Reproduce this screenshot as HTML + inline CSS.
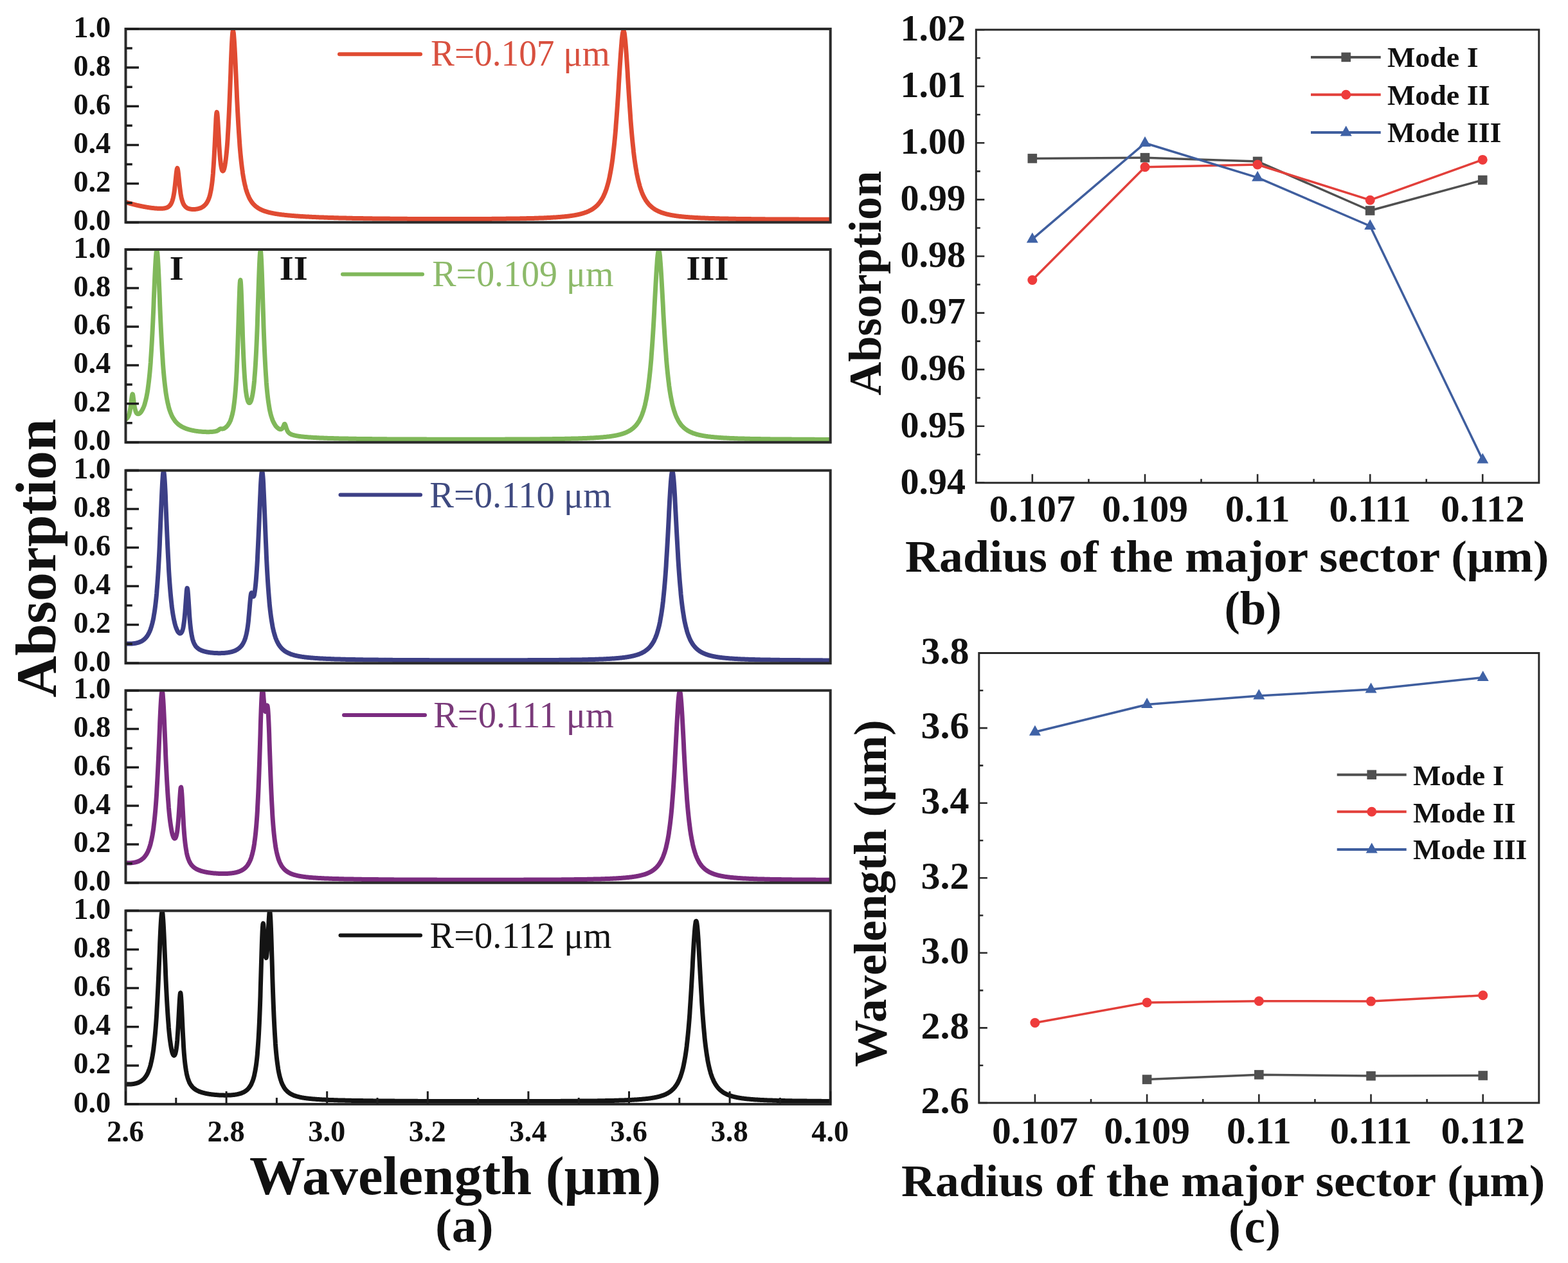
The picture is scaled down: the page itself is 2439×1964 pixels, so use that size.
<!DOCTYPE html>
<html><head><meta charset="utf-8"><title>Absorption spectra</title>
<style>html,body{margin:0;padding:0;background:#fff;overflow:hidden}svg{display:block}text{font-family:'Liberation Serif', 'Times New Roman', serif}</style>
</head><body>
<svg width="2439" height="1964" viewBox="0 0 2439 1964" font-family="'Liberation Serif', 'Times New Roman', serif" fill="#111">
<rect width="2439" height="1964" fill="#fff"/>
<clipPath id="ca0"><rect x="195.5" y="45.0" width="1096.2" height="300.7"/></clipPath>
<polyline clip-path="url(#ca0)" fill="none" stroke="#E04B32" stroke-width="7" stroke-linejoin="round" points="195.5,314.4 195.9,314.5 196.3,314.7 196.7,314.8 197.1,314.9 197.5,315.0 197.8,315.1 198.2,315.3 198.6,315.4 199.0,315.5 199.4,315.6 199.8,315.7 200.2,315.8 200.6,315.9 201.0,316.0 201.4,316.2 201.8,316.3 202.2,316.4 202.5,316.5 202.9,316.6 203.3,316.7 203.7,316.8 204.1,316.9 204.5,317.0 204.9,317.1 205.3,317.2 205.7,317.3 206.1,317.4 206.5,317.5 206.9,317.6 207.2,317.7 207.6,317.8 208.0,317.9 208.4,318.0 208.8,318.1 209.2,318.2 209.6,318.3 210.0,318.4 210.4,318.5 210.8,318.6 211.2,318.7 211.6,318.8 211.9,318.9 212.3,319.0 212.7,319.1 213.1,319.2 213.5,319.3 213.9,319.3 214.3,319.4 214.7,319.5 215.1,319.6 215.5,319.7 215.9,319.8 216.2,319.9 216.6,320.0 217.0,320.0 217.4,320.1 217.8,320.2 218.2,320.3 218.6,320.4 219.0,320.4 219.4,320.5 219.8,320.6 220.2,320.7 220.6,320.8 220.9,320.8 221.3,320.9 221.7,321.0 222.1,321.1 222.5,321.2 222.9,321.2 223.3,321.3 223.7,321.4 224.1,321.5 224.5,321.5 224.9,321.6 225.3,321.7 225.6,321.7 226.0,321.8 226.4,321.9 226.8,321.9 227.2,322.0 227.6,322.1 228.0,322.1 228.4,322.2 228.8,322.3 229.2,322.3 229.6,322.4 230.0,322.5 230.3,322.5 230.7,322.6 231.1,322.6 231.5,322.7 231.9,322.8 232.3,322.8 232.7,322.9 233.1,322.9 233.5,323.0 233.9,323.1 234.3,323.1 234.6,323.2 235.0,323.2 235.4,323.3 235.8,323.3 236.2,323.4 236.6,323.4 237.0,323.5 237.4,323.5 237.8,323.6 238.2,323.6 238.6,323.6 239.0,323.7 239.3,323.7 239.7,323.8 240.1,323.8 240.5,323.8 240.9,323.9 241.3,323.9 241.7,324.0 242.1,324.0 242.5,324.0 242.9,324.1 243.3,324.1 243.7,324.1 244.0,324.1 244.4,324.2 244.8,324.2 245.2,324.2 245.6,324.2 246.0,324.3 246.4,324.3 246.8,324.3 247.2,324.3 247.6,324.3 248.0,324.3 248.4,324.3 248.7,324.3 249.1,324.3 249.5,324.3 249.9,324.3 250.3,324.3 250.7,324.3 251.1,324.3 251.5,324.3 251.9,324.3 252.3,324.3 252.7,324.2 253.1,324.2 253.4,324.2 253.8,324.1 254.2,324.1 254.6,324.0 255.0,324.0 255.4,323.9 255.8,323.9 256.2,323.8 256.6,323.7 257.0,323.6 257.4,323.5 257.7,323.4 258.1,323.3 258.5,323.2 258.9,323.1 259.3,322.9 259.7,322.8 260.1,322.6 260.5,322.4 260.9,322.2 261.3,322.0 261.7,321.7 262.1,321.5 262.4,321.2 262.8,320.9 263.2,320.5 263.6,320.2 264.0,319.8 264.4,319.3 264.8,318.8 265.2,318.3 265.6,317.7 266.0,317.0 266.4,316.3 266.8,315.5 267.1,314.7 267.5,313.7 267.9,312.6 268.3,311.4 268.7,310.1 269.1,308.6 269.5,306.9 269.9,305.0 270.3,303.0 270.7,300.7 271.1,298.1 271.5,295.3 271.8,292.2 272.2,288.8 272.6,285.2 273.0,281.4 273.4,277.5 273.8,273.6 274.2,269.9 274.6,266.7 275.0,264.0 275.4,262.3 275.8,261.5 276.1,261.9 276.5,263.3 276.9,265.6 277.3,268.7 277.7,272.3 278.1,276.1 278.5,280.1 278.9,284.0 279.3,287.7 279.7,291.2 280.1,294.4 280.5,297.4 280.8,300.1 281.2,302.5 281.6,304.7 282.0,306.7 282.4,308.4 282.8,310.0 283.2,311.4 283.6,312.7 284.0,313.9 284.4,314.9 284.8,315.9 285.2,316.7 285.5,317.5 285.9,318.2 286.3,318.8 286.7,319.4 287.1,319.9 287.5,320.4 287.9,320.9 288.3,321.3 288.7,321.7 289.1,322.0 289.5,322.3 289.9,322.6 290.2,322.9 290.6,323.1 291.0,323.4 291.4,323.6 291.8,323.8 292.2,323.9 292.6,324.1 293.0,324.3 293.4,324.4 293.8,324.5 294.2,324.6 294.5,324.8 294.9,324.9 295.3,324.9 295.7,325.0 296.1,325.1 296.5,325.2 296.9,325.2 297.3,325.3 297.7,325.3 298.1,325.4 298.5,325.4 298.9,325.4 299.2,325.5 299.6,325.5 300.0,325.5 300.4,325.5 300.8,325.5 301.2,325.5 301.6,325.5 302.0,325.5 302.4,325.5 302.8,325.4 303.2,325.4 303.6,325.4 303.9,325.3 304.3,325.3 304.7,325.2 305.1,325.2 305.5,325.1 305.9,325.1 306.3,325.0 306.7,324.9 307.1,324.9 307.5,324.8 307.9,324.7 308.3,324.6 308.6,324.5 309.0,324.4 309.4,324.3 309.8,324.2 310.2,324.0 310.6,323.9 311.0,323.8 311.4,323.6 311.8,323.5 312.2,323.3 312.6,323.1 312.9,323.0 313.3,322.8 313.7,322.6 314.1,322.4 314.5,322.1 314.9,321.9 315.3,321.7 315.7,321.4 316.1,321.2 316.5,320.9 316.9,320.6 317.3,320.3 317.6,319.9 318.0,319.6 318.4,319.2 318.8,318.8 319.2,318.4 319.6,318.0 320.0,317.5 320.4,317.0 320.8,316.5 321.2,316.0 321.6,315.4 322.0,314.8 322.3,314.1 322.7,313.4 323.1,312.7 323.5,311.9 323.9,311.0 324.3,310.1 324.7,309.1 325.1,308.0 325.5,306.9 325.9,305.6 326.3,304.3 326.7,302.8 327.0,301.2 327.4,299.5 327.8,297.6 328.2,295.5 328.6,293.3 329.0,290.8 329.4,288.1 329.8,285.1 330.2,281.8 330.6,278.2 331.0,274.2 331.4,269.7 331.7,264.8 332.1,259.4 332.5,253.5 332.9,247.1 333.3,240.0 333.7,232.5 334.1,224.5 334.5,216.2 334.9,207.7 335.3,199.5 335.7,191.7 336.0,184.9 336.4,179.5 336.8,175.9 337.2,174.3 337.6,174.9 338.0,177.4 338.4,181.8 338.8,187.5 339.2,194.2 339.6,201.4 340.0,208.8 340.4,216.0 340.7,222.9 341.1,229.3 341.5,235.1 341.9,240.4 342.3,245.0 342.7,249.1 343.1,252.7 343.5,255.8 343.9,258.4 344.3,260.5 344.7,262.3 345.1,263.7 345.4,264.7 345.8,265.4 346.2,265.9 346.6,266.0 347.0,265.9 347.4,265.5 347.8,264.8 348.2,263.9 348.6,262.7 349.0,261.3 349.4,259.6 349.8,257.7 350.1,255.5 350.5,253.1 350.9,250.3 351.3,247.3 351.7,243.9 352.1,240.2 352.5,236.2 352.9,231.8 353.3,227.0 353.7,221.8 354.1,216.1 354.4,210.0 354.8,203.5 355.2,196.5 355.6,188.9 356.0,180.9 356.4,172.3 356.8,163.3 357.2,153.8 357.6,143.9 358.0,133.6 358.4,123.2 358.8,112.6 359.1,102.1 359.5,91.8 359.9,82.1 360.3,73.1 360.7,65.1 361.1,58.4 361.5,53.2 361.9,49.7 362.3,48.1 362.7,48.3 363.1,49.9 363.5,52.6 363.8,56.6 364.2,61.5 364.6,67.5 365.0,74.2 365.4,81.7 365.8,89.6 366.2,98.0 366.6,106.6 367.0,115.4 367.4,124.3 367.8,133.1 368.2,141.7 368.5,150.2 368.9,158.5 369.3,166.5 369.7,174.2 370.1,181.6 370.5,188.7 370.9,195.5 371.3,201.9 371.7,208.0 372.1,213.9 372.5,219.4 372.8,224.6 373.2,229.6 373.6,234.2 374.0,238.7 374.4,242.9 374.8,246.8 375.2,250.6 375.6,254.1 376.0,257.5 376.4,260.7 376.8,263.7 377.2,266.5 377.5,269.2 377.9,271.8 378.3,274.2 378.7,276.5 379.1,278.7 379.5,280.7 379.9,282.7 380.3,284.6 380.7,286.4 381.1,288.1 381.5,289.7 381.9,291.2 382.2,292.7 382.6,294.1 383.0,295.4 383.4,296.7 383.8,297.9 384.2,299.1 384.6,300.2 385.0,301.3 385.4,302.3 385.8,303.3 386.2,304.2 386.6,305.1 386.9,306.0 387.3,306.8 387.7,307.7 388.1,308.4 388.5,309.2 388.9,309.9 389.3,310.6 389.7,311.2 390.1,311.9 390.5,312.5 390.9,313.1 391.2,313.6 391.6,314.2 392.0,314.7 392.4,315.2 392.8,315.7 393.2,316.2 393.6,316.7 394.0,317.1 394.4,317.5 394.8,318.0 395.2,318.4 395.6,318.8 395.9,319.1 396.3,319.5 396.7,319.9 397.1,320.2 397.5,320.6 397.9,320.9 398.3,321.2 398.7,321.5 399.1,321.8 399.5,322.1 399.9,322.4 400.3,322.7 400.6,322.9 401.0,323.2 401.4,323.4 401.8,323.7 402.2,323.9 402.6,324.2 403.0,324.4 403.4,324.6 403.8,324.8 404.2,325.1 404.6,325.3 405.0,325.5 405.3,325.7 405.7,325.9 406.1,326.0 406.5,326.2 406.9,326.4 407.3,326.6 407.7,326.8 408.1,326.9 408.5,327.1 408.9,327.2 409.3,327.4 409.7,327.6 410.0,327.7 410.4,327.9 410.8,328.0 411.2,328.1 411.6,328.3 412.0,328.4 412.4,328.5 412.8,328.7 413.2,328.8 413.6,328.9 414.0,329.0 414.3,329.2 414.7,329.3 415.1,329.4 415.5,329.5 415.9,329.6 416.3,329.7 416.7,329.8 417.1,329.9 417.5,330.1 417.9,330.2 418.3,330.3 418.7,330.4 419.0,330.4 419.4,330.5 419.8,330.6 420.2,330.7 420.6,330.8 421.0,330.9 421.4,331.0 421.8,331.1 422.2,331.2 422.6,331.2 423.0,331.3 423.4,331.4 423.7,331.5 424.1,331.6 424.5,331.6 424.9,331.7 425.3,331.8 425.7,331.9 426.1,331.9 426.5,332.0 426.9,332.1 427.3,332.2 427.7,332.2 428.1,332.3 428.4,332.4 428.8,332.4 429.2,332.5 429.6,332.6 430.0,332.6 430.4,332.7 430.8,332.7 431.2,332.8 431.6,332.9 432.0,332.9 432.4,333.0 432.7,333.0 433.1,333.1 433.5,333.1 433.9,333.2 434.3,333.3 434.7,333.3 435.1,333.4 435.5,333.4 435.9,333.5 436.3,333.5 436.7,333.6 437.1,333.6 437.4,333.7 437.8,333.7 438.2,333.8 438.6,333.8 439.0,333.9 439.4,333.9 439.8,334.0 440.2,334.0 440.6,334.1 441.0,334.1 441.4,334.1 441.8,334.2 442.1,334.2 442.5,334.3 442.9,334.3 443.3,334.4 443.7,334.4 444.1,334.4 444.5,334.5 444.9,334.5 445.3,334.6 445.7,334.6 446.1,334.7 446.5,334.7 446.8,334.7 447.2,334.8 447.6,334.8 448.0,334.8 448.4,334.9 448.8,334.9 449.2,335.0 449.6,335.0 450.0,335.0 450.4,335.1 450.8,335.1 451.1,335.1 451.5,335.2 451.9,335.2 452.3,335.2 452.7,335.3 453.1,335.3 453.5,335.3 453.9,335.4 454.3,335.4 454.7,335.4 455.1,335.5 455.5,335.5 455.8,335.5 456.2,335.6 456.6,335.6 457.0,335.6 457.4,335.7 457.8,335.7 458.2,335.7 458.6,335.8 459.0,335.8 459.4,335.8 459.8,335.8 460.2,335.9 460.5,335.9 460.9,335.9 461.3,336.0 461.7,336.0 462.1,336.0 462.5,336.0 462.9,336.1 463.3,336.1 463.7,336.1 464.1,336.2 464.5,336.2 464.9,336.2 465.2,336.2 465.6,336.3 466.0,336.3 466.4,336.3 466.8,336.3 467.2,336.4 467.6,336.4 468.0,336.4 468.4,336.4 468.8,336.5 469.2,336.5 469.6,336.5 469.9,336.5 470.3,336.6 470.7,336.6 471.1,336.6 471.5,336.6 471.9,336.7 472.3,336.7 472.7,336.7 473.1,336.7 473.5,336.7 473.9,336.8 474.2,336.8 474.6,336.8 475.0,336.8 475.4,336.9 475.8,336.9 476.2,336.9 476.6,336.9 477.0,336.9 477.4,337.0 477.8,337.0 478.2,337.0 478.6,337.0 478.9,337.1 479.3,337.1 479.7,337.1 480.1,337.1 480.5,337.1 480.9,337.2 481.3,337.2 481.7,337.2 482.1,337.2 482.5,337.2 482.9,337.3 483.3,337.3 483.6,337.3 484.0,337.3 484.4,337.3 484.8,337.3 485.2,337.4 485.6,337.4 486.0,337.4 486.4,337.4 486.8,337.4 487.2,337.5 487.6,337.5 488.0,337.5 488.3,337.5 488.7,337.5 489.1,337.6 489.5,337.6 489.9,337.6 490.3,337.6 490.7,337.6 491.1,337.6 491.5,337.7 491.9,337.7 492.3,337.7 492.6,337.7 493.0,337.7 493.4,337.7 493.8,337.8 494.2,337.8 494.6,337.8 495.0,337.8 495.4,337.8 495.8,337.8 496.2,337.9 496.6,337.9 497.0,337.9 497.3,337.9 497.7,337.9 498.1,337.9 498.5,337.9 498.9,338.0 499.3,338.0 499.7,338.0 500.1,338.0 500.5,338.0 500.9,338.0 501.3,338.1 501.7,338.1 502.0,338.1 502.4,338.1 502.8,338.1 503.2,338.1 503.6,338.1 504.0,338.2 504.4,338.2 504.8,338.2 505.2,338.2 505.6,338.2 506.0,338.2 506.4,338.2 506.7,338.3 507.1,338.3 507.5,338.3 507.9,338.3 508.3,338.3 508.7,338.3 509.1,338.3 509.5,338.3 509.9,338.4 510.3,338.4 510.7,338.4 511.0,338.4 511.4,338.4 511.8,338.4 512.2,338.4 512.6,338.4 513.0,338.5 513.4,338.5 513.8,338.5 514.2,338.5 514.6,338.5 515.0,338.5 515.4,338.5 515.7,338.5 516.1,338.6 516.5,338.6 516.9,338.6 517.3,338.6 517.7,338.6 518.1,338.6 518.5,338.6 518.9,338.6 519.3,338.7 519.7,338.7 520.1,338.7 520.4,338.7 520.8,338.7 521.2,338.7 521.6,338.7 522.0,338.7 522.4,338.7 522.8,338.8 523.2,338.8 523.6,338.8 524.0,338.8 524.4,338.8 524.8,338.8 525.1,338.8 525.5,338.8 525.9,338.8 526.3,338.8 526.7,338.9 527.1,338.9 527.5,338.9 527.9,338.9 528.3,338.9 528.7,338.9 529.1,338.9 529.4,338.9 529.8,338.9 530.2,339.0 530.6,339.0 531.0,339.0 531.4,339.0 531.8,339.0 532.2,339.0 532.6,339.0 533.0,339.0 533.4,339.0 533.8,339.0 534.1,339.0 534.5,339.1 534.9,339.1 535.3,339.1 535.7,339.1 536.1,339.1 536.5,339.1 536.9,339.1 537.3,339.1 537.7,339.1 538.1,339.1 538.5,339.1 538.8,339.2 539.2,339.2 539.6,339.2 540.0,339.2 540.4,339.2 540.8,339.2 541.2,339.2 541.6,339.2 542.0,339.2 542.4,339.2 542.8,339.2 543.2,339.2 543.5,339.3 543.9,339.3 544.3,339.3 544.7,339.3 545.1,339.3 545.5,339.3 545.9,339.3 546.3,339.3 546.7,339.3 547.1,339.3 547.5,339.3 547.9,339.3 548.2,339.4 548.6,339.4 549.0,339.4 549.4,339.4 549.8,339.4 550.2,339.4 550.6,339.4 551.0,339.4 551.4,339.4 551.8,339.4 552.2,339.4 552.5,339.4 552.9,339.4 553.3,339.5 553.7,339.5 554.1,339.5 554.5,339.5 554.9,339.5 555.3,339.5 555.7,339.5 556.1,339.5 556.5,339.5 556.9,339.5 557.2,339.5 557.6,339.5 558.0,339.5 558.4,339.5 558.8,339.5 559.2,339.6 559.6,339.6 560.0,339.6 560.4,339.6 560.8,339.6 561.2,339.6 561.6,339.6 561.9,339.6 562.3,339.6 562.7,339.6 563.1,339.6 563.5,339.6 563.9,339.6 564.3,339.6 564.7,339.6 565.1,339.7 565.5,339.7 565.9,339.7 566.3,339.7 566.6,339.7 567.0,339.7 567.4,339.7 567.8,339.7 568.2,339.7 568.6,339.7 569.0,339.7 569.4,339.7 569.8,339.7 570.2,339.7 570.6,339.7 570.9,339.7 571.3,339.7 571.7,339.8 572.1,339.8 572.5,339.8 572.9,339.8 573.3,339.8 573.7,339.8 574.1,339.8 574.5,339.8 574.9,339.8 575.3,339.8 575.6,339.8 576.0,339.8 576.4,339.8 576.8,339.8 577.2,339.8 577.6,339.8 578.0,339.8 578.4,339.8 578.8,339.8 579.2,339.9 579.6,339.9 580.0,339.9 580.3,339.9 580.7,339.9 581.1,339.9 581.5,339.9 581.9,339.9 582.3,339.9 582.7,339.9 583.1,339.9 583.5,339.9 583.9,339.9 584.3,339.9 584.7,339.9 585.0,339.9 585.4,339.9 585.8,339.9 586.2,339.9 586.6,339.9 587.0,340.0 587.4,340.0 587.8,340.0 588.2,340.0 588.6,340.0 589.0,340.0 589.3,340.0 589.7,340.0 590.1,340.0 590.5,340.0 590.9,340.0 591.3,340.0 591.7,340.0 592.1,340.0 592.5,340.0 592.9,340.0 593.3,340.0 593.7,340.0 594.0,340.0 594.4,340.0 594.8,340.0 595.2,340.0 595.6,340.0 596.0,340.1 596.4,340.1 596.8,340.1 597.2,340.1 597.6,340.1 598.0,340.1 598.4,340.1 598.7,340.1 599.1,340.1 599.5,340.1 599.9,340.1 600.3,340.1 600.7,340.1 601.1,340.1 601.5,340.1 601.9,340.1 602.3,340.1 602.7,340.1 603.1,340.1 603.4,340.1 603.8,340.1 604.2,340.1 604.6,340.1 605.0,340.1 605.4,340.1 605.8,340.1 606.2,340.1 606.6,340.2 607.0,340.2 607.4,340.2 607.7,340.2 608.1,340.2 608.5,340.2 608.9,340.2 609.3,340.2 609.7,340.2 610.1,340.2 610.5,340.2 610.9,340.2 611.3,340.2 611.7,340.2 612.1,340.2 612.4,340.2 612.8,340.2 613.2,340.2 613.6,340.2 614.0,340.2 614.4,340.2 614.8,340.2 615.2,340.2 615.6,340.2 616.0,340.2 616.4,340.2 616.8,340.2 617.1,340.2 617.5,340.2 617.9,340.2 618.3,340.2 618.7,340.3 619.1,340.3 619.5,340.3 619.9,340.3 620.3,340.3 620.7,340.3 621.1,340.3 621.5,340.3 621.8,340.3 622.2,340.3 622.6,340.3 623.0,340.3 623.4,340.3 623.8,340.3 624.2,340.3 624.6,340.3 625.0,340.3 625.4,340.3 625.8,340.3 626.2,340.3 626.5,340.3 626.9,340.3 627.3,340.3 627.7,340.3 628.1,340.3 628.5,340.3 628.9,340.3 629.3,340.3 629.7,340.3 630.1,340.3 630.5,340.3 630.8,340.3 631.2,340.3 631.6,340.3 632.0,340.3 632.4,340.3 632.8,340.3 633.2,340.3 633.6,340.4 634.0,340.4 634.4,340.4 634.8,340.4 635.2,340.4 635.5,340.4 635.9,340.4 636.3,340.4 636.7,340.4 637.1,340.4 637.5,340.4 637.9,340.4 638.3,340.4 638.7,340.4 639.1,340.4 639.5,340.4 639.9,340.4 640.2,340.4 640.6,340.4 641.0,340.4 641.4,340.4 641.8,340.4 642.2,340.4 642.6,340.4 643.0,340.4 643.4,340.4 643.8,340.4 644.2,340.4 644.6,340.4 644.9,340.4 645.3,340.4 645.7,340.4 646.1,340.4 646.5,340.4 646.9,340.4 647.3,340.4 647.7,340.4 648.1,340.4 648.5,340.4 648.9,340.4 649.2,340.4 649.6,340.4 650.0,340.4 650.4,340.4 650.8,340.4 651.2,340.4 651.6,340.4 652.0,340.4 652.4,340.4 652.8,340.4 653.2,340.4 653.6,340.4 653.9,340.4 654.3,340.5 654.7,340.5 655.1,340.5 655.5,340.5 655.9,340.5 656.3,340.5 656.7,340.5 657.1,340.5 657.5,340.5 657.9,340.5 658.3,340.5 658.6,340.5 659.0,340.5 659.4,340.5 659.8,340.5 660.2,340.5 660.6,340.5 661.0,340.5 661.4,340.5 661.8,340.5 662.2,340.5 662.6,340.5 663.0,340.5 663.3,340.5 663.7,340.5 664.1,340.5 664.5,340.5 664.9,340.5 665.3,340.5 665.7,340.5 666.1,340.5 666.5,340.5 666.9,340.5 667.3,340.5 667.6,340.5 668.0,340.5 668.4,340.5 668.8,340.5 669.2,340.5 669.6,340.5 670.0,340.5 670.4,340.5 670.8,340.5 671.2,340.5 671.6,340.5 672.0,340.5 672.3,340.5 672.7,340.5 673.1,340.5 673.5,340.5 673.9,340.5 674.3,340.5 674.7,340.5 675.1,340.5 675.5,340.5 675.9,340.5 676.3,340.5 676.7,340.5 677.0,340.5 677.4,340.5 677.8,340.5 678.2,340.5 678.6,340.5 679.0,340.5 679.4,340.5 679.8,340.5 680.2,340.5 680.6,340.5 681.0,340.5 681.4,340.5 681.7,340.5 682.1,340.5 682.5,340.5 682.9,340.5 683.3,340.5 683.7,340.5 684.1,340.5 684.5,340.5 684.9,340.5 685.3,340.5 685.7,340.5 686.0,340.5 686.4,340.5 686.8,340.5 687.2,340.5 687.6,340.5 688.0,340.5 688.4,340.5 688.8,340.5 689.2,340.5 689.6,340.5 690.0,340.5 690.4,340.5 690.7,340.5 691.1,340.5 691.5,340.5 691.9,340.5 692.3,340.5 692.7,340.5 693.1,340.5 693.5,340.5 693.9,340.5 694.3,340.5 694.7,340.5 695.1,340.5 695.4,340.5 695.8,340.5 696.2,340.5 696.6,340.5 697.0,340.5 697.4,340.5 697.8,340.5 698.2,340.5 698.6,340.5 699.0,340.5 699.4,340.5 699.8,340.5 700.1,340.5 700.5,340.5 700.9,340.5 701.3,340.5 701.7,340.5 702.1,340.5 702.5,340.5 702.9,340.5 703.3,340.5 703.7,340.5 704.1,340.5 704.5,340.5 704.8,340.5 705.2,340.5 705.6,340.5 706.0,340.5 706.4,340.5 706.8,340.5 707.2,340.5 707.6,340.5 708.0,340.5 708.4,340.5 708.8,340.5 709.1,340.5 709.5,340.5 709.9,340.5 710.3,340.5 710.7,340.5 711.1,340.5 711.5,340.5 711.9,340.5 712.3,340.5 712.7,340.5 713.1,340.5 713.5,340.5 713.8,340.5 714.2,340.5 714.6,340.5 715.0,340.5 715.4,340.5 715.8,340.5 716.2,340.5 716.6,340.5 717.0,340.5 717.4,340.5 717.8,340.5 718.2,340.5 718.5,340.5 718.9,340.5 719.3,340.5 719.7,340.5 720.1,340.5 720.5,340.5 720.9,340.5 721.3,340.5 721.7,340.5 722.1,340.5 722.5,340.5 722.9,340.5 723.2,340.5 723.6,340.5 724.0,340.5 724.4,340.5 724.8,340.5 725.2,340.5 725.6,340.5 726.0,340.5 726.4,340.5 726.8,340.5 727.2,340.5 727.5,340.5 727.9,340.5 728.3,340.5 728.7,340.5 729.1,340.5 729.5,340.5 729.9,340.5 730.3,340.5 730.7,340.5 731.1,340.5 731.5,340.5 731.9,340.5 732.2,340.5 732.6,340.5 733.0,340.5 733.4,340.5 733.8,340.5 734.2,340.5 734.6,340.5 735.0,340.5 735.4,340.5 735.8,340.5 736.2,340.5 736.6,340.5 736.9,340.5 737.3,340.5 737.7,340.5 738.1,340.5 738.5,340.5 738.9,340.5 739.3,340.5 739.7,340.5 740.1,340.5 740.5,340.5 740.9,340.5 741.3,340.5 741.6,340.5 742.0,340.5 742.4,340.5 742.8,340.5 743.2,340.5 743.6,340.5 744.0,340.5 744.4,340.5 744.8,340.5 745.2,340.5 745.6,340.5 745.9,340.5 746.3,340.5 746.7,340.5 747.1,340.4 747.5,340.4 747.9,340.4 748.3,340.4 748.7,340.4 749.1,340.4 749.5,340.4 749.9,340.4 750.3,340.4 750.6,340.4 751.0,340.4 751.4,340.4 751.8,340.4 752.2,340.4 752.6,340.4 753.0,340.4 753.4,340.4 753.8,340.4 754.2,340.4 754.6,340.4 755.0,340.4 755.3,340.4 755.7,340.4 756.1,340.4 756.5,340.4 756.9,340.4 757.3,340.4 757.7,340.4 758.1,340.4 758.5,340.4 758.9,340.4 759.3,340.4 759.7,340.4 760.0,340.4 760.4,340.4 760.8,340.4 761.2,340.4 761.6,340.4 762.0,340.4 762.4,340.4 762.8,340.4 763.2,340.4 763.6,340.4 764.0,340.4 764.3,340.4 764.7,340.4 765.1,340.3 765.5,340.3 765.9,340.3 766.3,340.3 766.7,340.3 767.1,340.3 767.5,340.3 767.9,340.3 768.3,340.3 768.7,340.3 769.0,340.3 769.4,340.3 769.8,340.3 770.2,340.3 770.6,340.3 771.0,340.3 771.4,340.3 771.8,340.3 772.2,340.3 772.6,340.3 773.0,340.3 773.4,340.3 773.7,340.3 774.1,340.3 774.5,340.3 774.9,340.3 775.3,340.3 775.7,340.3 776.1,340.3 776.5,340.3 776.9,340.3 777.3,340.3 777.7,340.2 778.1,340.2 778.4,340.2 778.8,340.2 779.2,340.2 779.6,340.2 780.0,340.2 780.4,340.2 780.8,340.2 781.2,340.2 781.6,340.2 782.0,340.2 782.4,340.2 782.8,340.2 783.1,340.2 783.5,340.2 783.9,340.2 784.3,340.2 784.7,340.2 785.1,340.2 785.5,340.2 785.9,340.2 786.3,340.2 786.7,340.2 787.1,340.2 787.4,340.1 787.8,340.1 788.2,340.1 788.6,340.1 789.0,340.1 789.4,340.1 789.8,340.1 790.2,340.1 790.6,340.1 791.0,340.1 791.4,340.1 791.8,340.1 792.1,340.1 792.5,340.1 792.9,340.1 793.3,340.1 793.7,340.1 794.1,340.1 794.5,340.1 794.9,340.1 795.3,340.1 795.7,340.1 796.1,340.0 796.5,340.0 796.8,340.0 797.2,340.0 797.6,340.0 798.0,340.0 798.4,340.0 798.8,340.0 799.2,340.0 799.6,340.0 800.0,340.0 800.4,340.0 800.8,340.0 801.2,340.0 801.5,340.0 801.9,340.0 802.3,340.0 802.7,340.0 803.1,339.9 803.5,339.9 803.9,339.9 804.3,339.9 804.7,339.9 805.1,339.9 805.5,339.9 805.8,339.9 806.2,339.9 806.6,339.9 807.0,339.9 807.4,339.9 807.8,339.9 808.2,339.9 808.6,339.9 809.0,339.8 809.4,339.8 809.8,339.8 810.2,339.8 810.5,339.8 810.9,339.8 811.3,339.8 811.7,339.8 812.1,339.8 812.5,339.8 812.9,339.8 813.3,339.8 813.7,339.8 814.1,339.8 814.5,339.7 814.9,339.7 815.2,339.7 815.6,339.7 816.0,339.7 816.4,339.7 816.8,339.7 817.2,339.7 817.6,339.7 818.0,339.7 818.4,339.7 818.8,339.7 819.2,339.6 819.6,339.6 819.9,339.6 820.3,339.6 820.7,339.6 821.1,339.6 821.5,339.6 821.9,339.6 822.3,339.6 822.7,339.6 823.1,339.6 823.5,339.6 823.9,339.5 824.2,339.5 824.6,339.5 825.0,339.5 825.4,339.5 825.8,339.5 826.2,339.5 826.6,339.5 827.0,339.5 827.4,339.5 827.8,339.4 828.2,339.4 828.6,339.4 828.9,339.4 829.3,339.4 829.7,339.4 830.1,339.4 830.5,339.4 830.9,339.4 831.3,339.3 831.7,339.3 832.1,339.3 832.5,339.3 832.9,339.3 833.3,339.3 833.6,339.3 834.0,339.3 834.4,339.3 834.8,339.2 835.2,339.2 835.6,339.2 836.0,339.2 836.4,339.2 836.8,339.2 837.2,339.2 837.6,339.2 838.0,339.1 838.3,339.1 838.7,339.1 839.1,339.1 839.5,339.1 839.9,339.1 840.3,339.1 840.7,339.0 841.1,339.0 841.5,339.0 841.9,339.0 842.3,339.0 842.6,339.0 843.0,339.0 843.4,338.9 843.8,338.9 844.2,338.9 844.6,338.9 845.0,338.9 845.4,338.9 845.8,338.9 846.2,338.8 846.6,338.8 847.0,338.8 847.3,338.8 847.7,338.8 848.1,338.8 848.5,338.7 848.9,338.7 849.3,338.7 849.7,338.7 850.1,338.7 850.5,338.7 850.9,338.6 851.3,338.6 851.7,338.6 852.0,338.6 852.4,338.6 852.8,338.5 853.2,338.5 853.6,338.5 854.0,338.5 854.4,338.5 854.8,338.4 855.2,338.4 855.6,338.4 856.0,338.4 856.4,338.4 856.7,338.3 857.1,338.3 857.5,338.3 857.9,338.3 858.3,338.3 858.7,338.2 859.1,338.2 859.5,338.2 859.9,338.2 860.3,338.1 860.7,338.1 861.1,338.1 861.4,338.1 861.8,338.1 862.2,338.0 862.6,338.0 863.0,338.0 863.4,338.0 863.8,337.9 864.2,337.9 864.6,337.9 865.0,337.9 865.4,337.8 865.7,337.8 866.1,337.8 866.5,337.7 866.9,337.7 867.3,337.7 867.7,337.7 868.1,337.6 868.5,337.6 868.9,337.6 869.3,337.5 869.7,337.5 870.1,337.5 870.4,337.5 870.8,337.4 871.2,337.4 871.6,337.4 872.0,337.3 872.4,337.3 872.8,337.3 873.2,337.2 873.6,337.2 874.0,337.2 874.4,337.1 874.8,337.1 875.1,337.1 875.5,337.0 875.9,337.0 876.3,336.9 876.7,336.9 877.1,336.9 877.5,336.8 877.9,336.8 878.3,336.8 878.7,336.7 879.1,336.7 879.5,336.6 879.8,336.6 880.2,336.6 880.6,336.5 881.0,336.5 881.4,336.4 881.8,336.4 882.2,336.3 882.6,336.3 883.0,336.2 883.4,336.2 883.8,336.2 884.1,336.1 884.5,336.1 884.9,336.0 885.3,336.0 885.7,335.9 886.1,335.9 886.5,335.8 886.9,335.7 887.3,335.7 887.7,335.6 888.1,335.6 888.5,335.5 888.8,335.5 889.2,335.4 889.6,335.4 890.0,335.3 890.4,335.2 890.8,335.2 891.2,335.1 891.6,335.1 892.0,335.0 892.4,334.9 892.8,334.9 893.2,334.8 893.5,334.7 893.9,334.7 894.3,334.6 894.7,334.5 895.1,334.5 895.5,334.4 895.9,334.3 896.3,334.2 896.7,334.2 897.1,334.1 897.5,334.0 897.9,333.9 898.2,333.8 898.6,333.8 899.0,333.7 899.4,333.6 899.8,333.5 900.2,333.4 900.6,333.3 901.0,333.2 901.4,333.1 901.8,333.1 902.2,333.0 902.5,332.9 902.9,332.8 903.3,332.7 903.7,332.6 904.1,332.5 904.5,332.4 904.9,332.2 905.3,332.1 905.7,332.0 906.1,331.9 906.5,331.8 906.9,331.7 907.2,331.6 907.6,331.4 908.0,331.3 908.4,331.2 908.8,331.1 909.2,330.9 909.6,330.8 910.0,330.7 910.4,330.5 910.8,330.4 911.2,330.2 911.6,330.1 911.9,330.0 912.3,329.8 912.7,329.6 913.1,329.5 913.5,329.3 913.9,329.2 914.3,329.0 914.7,328.8 915.1,328.7 915.5,328.5 915.9,328.3 916.3,328.1 916.6,327.9 917.0,327.7 917.4,327.5 917.8,327.3 918.2,327.1 918.6,326.9 919.0,326.7 919.4,326.5 919.8,326.3 920.2,326.0 920.6,325.8 920.9,325.6 921.3,325.3 921.7,325.1 922.1,324.8 922.5,324.5 922.9,324.3 923.3,324.0 923.7,323.7 924.1,323.4 924.5,323.1 924.9,322.8 925.3,322.5 925.6,322.2 926.0,321.9 926.4,321.6 926.8,321.2 927.2,320.9 927.6,320.5 928.0,320.2 928.4,319.8 928.8,319.4 929.2,319.0 929.6,318.6 930.0,318.2 930.3,317.8 930.7,317.3 931.1,316.9 931.5,316.4 931.9,315.9 932.3,315.4 932.7,314.9 933.1,314.4 933.5,313.9 933.9,313.3 934.3,312.8 934.7,312.2 935.0,311.6 935.4,311.0 935.8,310.4 936.2,309.7 936.6,309.0 937.0,308.4 937.4,307.6 937.8,306.9 938.2,306.1 938.6,305.4 939.0,304.6 939.3,303.7 939.7,302.9 940.1,302.0 940.5,301.1 940.9,300.1 941.3,299.1 941.7,298.1 942.1,297.1 942.5,296.0 942.9,294.9 943.3,293.7 943.7,292.5 944.0,291.3 944.4,290.0 944.8,288.7 945.2,287.3 945.6,285.9 946.0,284.4 946.4,282.9 946.8,281.3 947.2,279.6 947.6,277.9 948.0,276.1 948.4,274.3 948.7,272.3 949.1,270.3 949.5,268.3 949.9,266.1 950.3,263.9 950.7,261.5 951.1,259.1 951.5,256.6 951.9,254.0 952.3,251.2 952.7,248.4 953.1,245.5 953.4,242.4 953.8,239.2 954.2,235.9 954.6,232.4 955.0,228.9 955.4,225.1 955.8,221.3 956.2,217.2 956.6,213.1 957.0,208.7 957.4,204.2 957.8,199.6 958.1,194.8 958.5,189.8 958.9,184.7 959.3,179.4 959.7,173.9 960.1,168.3 960.5,162.6 960.9,156.7 961.3,150.7 961.7,144.5 962.1,138.3 962.4,132.0 962.8,125.7 963.2,119.4 963.6,113.0 964.0,106.7 964.4,100.5 964.8,94.4 965.2,88.5 965.6,82.8 966.0,77.4 966.4,72.2 966.8,67.5 967.1,63.2 967.5,59.3 967.9,55.9 968.3,53.1 968.7,50.9 969.1,49.3 969.5,48.3 969.9,48.0 970.3,48.3 970.7,49.3 971.1,50.9 971.5,53.1 971.8,55.9 972.2,59.3 972.6,63.2 973.0,67.5 973.4,72.2 973.8,77.4 974.2,82.8 974.6,88.5 975.0,94.4 975.4,100.5 975.8,106.7 976.2,113.0 976.5,119.4 976.9,125.7 977.3,132.1 977.7,138.3 978.1,144.6 978.5,150.7 978.9,156.7 979.3,162.6 979.7,168.3 980.1,173.9 980.5,179.4 980.8,184.7 981.2,189.8 981.6,194.8 982.0,199.6 982.4,204.3 982.8,208.8 983.2,213.1 983.6,217.3 984.0,221.3 984.4,225.1 984.8,228.9 985.2,232.5 985.5,235.9 985.9,239.2 986.3,242.4 986.7,245.5 987.1,248.4 987.5,251.3 987.9,254.0 988.3,256.6 988.7,259.1 989.1,261.6 989.5,263.9 989.9,266.1 990.2,268.3 990.6,270.4 991.0,272.4 991.4,274.3 991.8,276.1 992.2,277.9 992.6,279.6 993.0,281.3 993.4,282.9 993.8,284.4 994.2,285.9 994.6,287.3 994.9,288.7 995.3,290.0 995.7,291.3 996.1,292.6 996.5,293.8 996.9,294.9 997.3,296.0 997.7,297.1 998.1,298.2 998.5,299.2 998.9,300.2 999.2,301.1 999.6,302.0 1000.0,302.9 1000.4,303.8 1000.8,304.6 1001.2,305.4 1001.6,306.2 1002.0,306.9 1002.4,307.7 1002.8,308.4 1003.2,309.1 1003.6,309.8 1003.9,310.4 1004.3,311.0 1004.7,311.7 1005.1,312.2 1005.5,312.8 1005.9,313.4 1006.3,313.9 1006.7,314.5 1007.1,315.0 1007.5,315.5 1007.9,316.0 1008.3,316.5 1008.6,316.9 1009.0,317.4 1009.4,317.8 1009.8,318.2 1010.2,318.7 1010.6,319.1 1011.0,319.5 1011.4,319.8 1011.8,320.2 1012.2,320.6 1012.6,320.9 1013.0,321.3 1013.3,321.6 1013.7,322.0 1014.1,322.3 1014.5,322.6 1014.9,322.9 1015.3,323.2 1015.7,323.5 1016.1,323.8 1016.5,324.1 1016.9,324.3 1017.3,324.6 1017.7,324.9 1018.0,325.1 1018.4,325.4 1018.8,325.6 1019.2,325.9 1019.6,326.1 1020.0,326.3 1020.4,326.6 1020.8,326.8 1021.2,327.0 1021.6,327.2 1022.0,327.4 1022.3,327.6 1022.7,327.8 1023.1,328.0 1023.5,328.2 1023.9,328.4 1024.3,328.6 1024.7,328.7 1025.1,328.9 1025.5,329.1 1025.9,329.2 1026.3,329.4 1026.7,329.6 1027.0,329.7 1027.4,329.9 1027.8,330.0 1028.2,330.2 1028.6,330.3 1029.0,330.5 1029.4,330.6 1029.8,330.8 1030.2,330.9 1030.6,331.0 1031.0,331.2 1031.4,331.3 1031.7,331.4 1032.1,331.5 1032.5,331.7 1032.9,331.8 1033.3,331.9 1033.7,332.0 1034.1,332.1 1034.5,332.2 1034.9,332.3 1035.3,332.4 1035.7,332.6 1036.1,332.7 1036.4,332.8 1036.8,332.9 1037.2,333.0 1037.6,333.1 1038.0,333.2 1038.4,333.2 1038.8,333.3 1039.2,333.4 1039.6,333.5 1040.0,333.6 1040.4,333.7 1040.7,333.8 1041.1,333.9 1041.5,333.9 1041.9,334.0 1042.3,334.1 1042.7,334.2 1043.1,334.3 1043.5,334.3 1043.9,334.4 1044.3,334.5 1044.7,334.6 1045.1,334.6 1045.4,334.7 1045.8,334.8 1046.2,334.8 1046.6,334.9 1047.0,335.0 1047.4,335.0 1047.8,335.1 1048.2,335.2 1048.6,335.2 1049.0,335.3 1049.4,335.4 1049.8,335.4 1050.1,335.5 1050.5,335.5 1050.9,335.6 1051.3,335.6 1051.7,335.7 1052.1,335.8 1052.5,335.8 1052.9,335.9 1053.3,335.9 1053.7,336.0 1054.1,336.0 1054.5,336.1 1054.8,336.1 1055.2,336.2 1055.6,336.2 1056.0,336.3 1056.4,336.3 1056.8,336.4 1057.2,336.4 1057.6,336.5 1058.0,336.5 1058.4,336.6 1058.8,336.6 1059.1,336.6 1059.5,336.7 1059.9,336.7 1060.3,336.8 1060.7,336.8 1061.1,336.8 1061.5,336.9 1061.9,336.9 1062.3,337.0 1062.7,337.0 1063.1,337.0 1063.5,337.1 1063.8,337.1 1064.2,337.2 1064.6,337.2 1065.0,337.2 1065.4,337.3 1065.8,337.3 1066.2,337.3 1066.6,337.4 1067.0,337.4 1067.4,337.4 1067.8,337.5 1068.2,337.5 1068.5,337.5 1068.9,337.6 1069.3,337.6 1069.7,337.6 1070.1,337.7 1070.5,337.7 1070.9,337.7 1071.3,337.8 1071.7,337.8 1072.1,337.8 1072.5,337.8 1072.9,337.9 1073.2,337.9 1073.6,337.9 1074.0,338.0 1074.4,338.0 1074.8,338.0 1075.2,338.0 1075.6,338.1 1076.0,338.1 1076.4,338.1 1076.8,338.1 1077.2,338.2 1077.5,338.2 1077.9,338.2 1078.3,338.2 1078.7,338.3 1079.1,338.3 1079.5,338.3 1079.9,338.3 1080.3,338.4 1080.7,338.4 1081.1,338.4 1081.5,338.4 1081.9,338.5 1082.2,338.5 1082.6,338.5 1083.0,338.5 1083.4,338.5 1083.8,338.6 1084.2,338.6 1084.6,338.6 1085.0,338.6 1085.4,338.6 1085.8,338.7 1086.2,338.7 1086.6,338.7 1086.9,338.7 1087.3,338.7 1087.7,338.8 1088.1,338.8 1088.5,338.8 1088.9,338.8 1089.3,338.8 1089.7,338.9 1090.1,338.9 1090.5,338.9 1090.9,338.9 1091.3,338.9 1091.6,338.9 1092.0,339.0 1092.4,339.0 1092.8,339.0 1093.2,339.0 1093.6,339.0 1094.0,339.0 1094.4,339.1 1094.8,339.1 1095.2,339.1 1095.6,339.1 1095.9,339.1 1096.3,339.1 1096.7,339.2 1097.1,339.2 1097.5,339.2 1097.9,339.2 1098.3,339.2 1098.7,339.2 1099.1,339.2 1099.5,339.3 1099.9,339.3 1100.3,339.3 1100.6,339.3 1101.0,339.3 1101.4,339.3 1101.8,339.3 1102.2,339.4 1102.6,339.4 1103.0,339.4 1103.4,339.4 1103.8,339.4 1104.2,339.4 1104.6,339.4 1105.0,339.5 1105.3,339.5 1105.7,339.5 1106.1,339.5 1106.5,339.5 1106.9,339.5 1107.3,339.5 1107.7,339.5 1108.1,339.6 1108.5,339.6 1108.9,339.6 1109.3,339.6 1109.7,339.6 1110.0,339.6 1110.4,339.6 1110.8,339.6 1111.2,339.6 1111.6,339.7 1112.0,339.7 1112.4,339.7 1112.8,339.7 1113.2,339.7 1113.6,339.7 1114.0,339.7 1114.4,339.7 1114.7,339.7 1115.1,339.8 1115.5,339.8 1115.9,339.8 1116.3,339.8 1116.7,339.8 1117.1,339.8 1117.5,339.8 1117.9,339.8 1118.3,339.8 1118.7,339.8 1119.0,339.9 1119.4,339.9 1119.8,339.9 1120.2,339.9 1120.6,339.9 1121.0,339.9 1121.4,339.9 1121.8,339.9 1122.2,339.9 1122.6,339.9 1123.0,339.9 1123.4,340.0 1123.7,340.0 1124.1,340.0 1124.5,340.0 1124.9,340.0 1125.3,340.0 1125.7,340.0 1126.1,340.0 1126.5,340.0 1126.9,340.0 1127.3,340.0 1127.7,340.0 1128.1,340.1 1128.4,340.1 1128.8,340.1 1129.2,340.1 1129.6,340.1 1130.0,340.1 1130.4,340.1 1130.8,340.1 1131.2,340.1 1131.6,340.1 1132.0,340.1 1132.4,340.1 1132.8,340.1 1133.1,340.2 1133.5,340.2 1133.9,340.2 1134.3,340.2 1134.7,340.2 1135.1,340.2 1135.5,340.2 1135.9,340.2 1136.3,340.2 1136.7,340.2 1137.1,340.2 1137.4,340.2 1137.8,340.2 1138.2,340.2 1138.6,340.3 1139.0,340.3 1139.4,340.3 1139.8,340.3 1140.2,340.3 1140.6,340.3 1141.0,340.3 1141.4,340.3 1141.8,340.3 1142.1,340.3 1142.5,340.3 1142.9,340.3 1143.3,340.3 1143.7,340.3 1144.1,340.3 1144.5,340.3 1144.9,340.4 1145.3,340.4 1145.7,340.4 1146.1,340.4 1146.5,340.4 1146.8,340.4 1147.2,340.4 1147.6,340.4 1148.0,340.4 1148.4,340.4 1148.8,340.4 1149.2,340.4 1149.6,340.4 1150.0,340.4 1150.4,340.4 1150.8,340.4 1151.2,340.4 1151.5,340.4 1151.9,340.5 1152.3,340.5 1152.7,340.5 1153.1,340.5 1153.5,340.5 1153.9,340.5 1154.3,340.5 1154.7,340.5 1155.1,340.5 1155.5,340.5 1155.8,340.5 1156.2,340.5 1156.6,340.5 1157.0,340.5 1157.4,340.5 1157.8,340.5 1158.2,340.5 1158.6,340.5 1159.0,340.5 1159.4,340.5 1159.8,340.6 1160.2,340.6 1160.5,340.6 1160.9,340.6 1161.3,340.6 1161.7,340.6 1162.1,340.6 1162.5,340.6 1162.9,340.6 1163.3,340.6 1163.7,340.6 1164.1,340.6 1164.5,340.6 1164.9,340.6 1165.2,340.6 1165.6,340.6 1166.0,340.6 1166.4,340.6 1166.8,340.6 1167.2,340.6 1167.6,340.6 1168.0,340.6 1168.4,340.7 1168.8,340.7 1169.2,340.7 1169.6,340.7 1169.9,340.7 1170.3,340.7 1170.7,340.7 1171.1,340.7 1171.5,340.7 1171.9,340.7 1172.3,340.7 1172.7,340.7 1173.1,340.7 1173.5,340.7 1173.9,340.7 1174.2,340.7 1174.6,340.7 1175.0,340.7 1175.4,340.7 1175.8,340.7 1176.2,340.7 1176.6,340.7 1177.0,340.7 1177.4,340.7 1177.8,340.7 1178.2,340.7 1178.6,340.8 1178.9,340.8 1179.3,340.8 1179.7,340.8 1180.1,340.8 1180.5,340.8 1180.9,340.8 1181.3,340.8 1181.7,340.8 1182.1,340.8 1182.5,340.8 1182.9,340.8 1183.3,340.8 1183.6,340.8 1184.0,340.8 1184.4,340.8 1184.8,340.8 1185.2,340.8 1185.6,340.8 1186.0,340.8 1186.4,340.8 1186.8,340.8 1187.2,340.8 1187.6,340.8 1188.0,340.8 1188.3,340.8 1188.7,340.8 1189.1,340.8 1189.5,340.8 1189.9,340.8 1190.3,340.9 1190.7,340.9 1191.1,340.9 1191.5,340.9 1191.9,340.9 1192.3,340.9 1192.7,340.9 1193.0,340.9 1193.4,340.9 1193.8,340.9 1194.2,340.9 1194.6,340.9 1195.0,340.9 1195.4,340.9 1195.8,340.9 1196.2,340.9 1196.6,340.9 1197.0,340.9 1197.3,340.9 1197.7,340.9 1198.1,340.9 1198.5,340.9 1198.9,340.9 1199.3,340.9 1199.7,340.9 1200.1,340.9 1200.5,340.9 1200.9,340.9 1201.3,340.9 1201.7,340.9 1202.0,340.9 1202.4,340.9 1202.8,340.9 1203.2,340.9 1203.6,340.9 1204.0,340.9 1204.4,341.0 1204.8,341.0 1205.2,341.0 1205.6,341.0 1206.0,341.0 1206.4,341.0 1206.7,341.0 1207.1,341.0 1207.5,341.0 1207.9,341.0 1208.3,341.0 1208.7,341.0 1209.1,341.0 1209.5,341.0 1209.9,341.0 1210.3,341.0 1210.7,341.0 1211.1,341.0 1211.4,341.0 1211.8,341.0 1212.2,341.0 1212.6,341.0 1213.0,341.0 1213.4,341.0 1213.8,341.0 1214.2,341.0 1214.6,341.0 1215.0,341.0 1215.4,341.0 1215.7,341.0 1216.1,341.0 1216.5,341.0 1216.9,341.0 1217.3,341.0 1217.7,341.0 1218.1,341.0 1218.5,341.0 1218.9,341.0 1219.3,341.0 1219.7,341.0 1220.1,341.0 1220.4,341.0 1220.8,341.0 1221.2,341.0 1221.6,341.1 1222.0,341.1 1222.4,341.1 1222.8,341.1 1223.2,341.1 1223.6,341.1 1224.0,341.1 1224.4,341.1 1224.8,341.1 1225.1,341.1 1225.5,341.1 1225.9,341.1 1226.3,341.1 1226.7,341.1 1227.1,341.1 1227.5,341.1 1227.9,341.1 1228.3,341.1 1228.7,341.1 1229.1,341.1 1229.5,341.1 1229.8,341.1 1230.2,341.1 1230.6,341.1 1231.0,341.1 1231.4,341.1 1231.8,341.1 1232.2,341.1 1232.6,341.1 1233.0,341.1 1233.4,341.1 1233.8,341.1 1234.1,341.1 1234.5,341.1 1234.9,341.1 1235.3,341.1 1235.7,341.1 1236.1,341.1 1236.5,341.1 1236.9,341.1 1237.3,341.1 1237.7,341.1 1238.1,341.1 1238.5,341.1 1238.8,341.1 1239.2,341.1 1239.6,341.1 1240.0,341.1 1240.4,341.1 1240.8,341.1 1241.2,341.1 1241.6,341.1 1242.0,341.1 1242.4,341.1 1242.8,341.2 1243.2,341.2 1243.5,341.2 1243.9,341.2 1244.3,341.2 1244.7,341.2 1245.1,341.2 1245.5,341.2 1245.9,341.2 1246.3,341.2 1246.7,341.2 1247.1,341.2 1247.5,341.2 1247.9,341.2 1248.2,341.2 1248.6,341.2 1249.0,341.2 1249.4,341.2 1249.8,341.2 1250.2,341.2 1250.6,341.2 1251.0,341.2 1251.4,341.2 1251.8,341.2 1252.2,341.2 1252.6,341.2 1252.9,341.2 1253.3,341.2 1253.7,341.2 1254.1,341.2 1254.5,341.2 1254.9,341.2 1255.3,341.2 1255.7,341.2 1256.1,341.2 1256.5,341.2 1256.9,341.2 1257.2,341.2 1257.6,341.2 1258.0,341.2 1258.4,341.2 1258.8,341.2 1259.2,341.2 1259.6,341.2 1260.0,341.2 1260.4,341.2 1260.8,341.2 1261.2,341.2 1261.6,341.2 1261.9,341.2 1262.3,341.2 1262.7,341.2 1263.1,341.2 1263.5,341.2 1263.9,341.2 1264.3,341.2 1264.7,341.2 1265.1,341.2 1265.5,341.2 1265.9,341.2 1266.3,341.2 1266.6,341.2 1267.0,341.2 1267.4,341.2 1267.8,341.2 1268.2,341.2 1268.6,341.2 1269.0,341.2 1269.4,341.2 1269.8,341.3 1270.2,341.3 1270.6,341.3 1271.0,341.3 1271.3,341.3 1271.7,341.3 1272.1,341.3 1272.5,341.3 1272.9,341.3 1273.3,341.3 1273.7,341.3 1274.1,341.3 1274.5,341.3 1274.9,341.3 1275.3,341.3 1275.6,341.3 1276.0,341.3 1276.4,341.3 1276.8,341.3 1277.2,341.3 1277.6,341.3 1278.0,341.3 1278.4,341.3 1278.8,341.3 1279.2,341.3 1279.6,341.3 1280.0,341.3 1280.3,341.3 1280.7,341.3 1281.1,341.3 1281.5,341.3 1281.9,341.3 1282.3,341.3 1282.7,341.3 1283.1,341.3 1283.5,341.3 1283.9,341.3 1284.3,341.3 1284.7,341.3 1285.0,341.3 1285.4,341.3 1285.8,341.3 1286.2,341.3 1286.6,341.3 1287.0,341.3 1287.4,341.3 1287.8,341.3 1288.2,341.3 1288.6,341.3 1289.0,341.3 1289.4,341.3 1289.7,341.3 1290.1,341.3 1290.5,341.3 1290.9,341.3 1291.3,341.3 1291.7,341.3"/>
<rect x="195.5" y="45.0" width="1096.2" height="300.7" fill="none" stroke="#2b2b2b" stroke-width="4"/>
<path d="M195.5,345.7h20.5M195.5,315.6h10.3M195.5,285.6h20.5M195.5,255.5h10.3M195.5,225.4h20.5M195.5,195.3h10.3M195.5,165.3h20.5M195.5,135.2h10.3M195.5,105.1h20.5M195.5,75.1h10.3M195.5,45.0h20.5" stroke="#1e1e1e" stroke-width="3.5" fill="none"/>
<text x="172.3" y="358.2" text-anchor="end" font-size="46.5" font-weight="bold">0.0</text>
<text x="172.3" y="298.1" text-anchor="end" font-size="46.5" font-weight="bold">0.2</text>
<text x="172.3" y="237.9" text-anchor="end" font-size="46.5" font-weight="bold">0.4</text>
<text x="172.3" y="177.8" text-anchor="end" font-size="46.5" font-weight="bold">0.6</text>
<text x="172.3" y="117.6" text-anchor="end" font-size="46.5" font-weight="bold">0.8</text>
<text x="172.3" y="57.5" text-anchor="end" font-size="46.5" font-weight="bold">1.0</text>
<line x1="528" y1="84.3" x2="654" y2="84.3" stroke="#E04B32" stroke-width="6" stroke-linecap="round"/>
<text transform="translate(670.1,102.4) scale(0.9780,1)" font-size="56.5" fill="#D8503F">R=0.107 μm</text>
<clipPath id="ca1"><rect x="195.5" y="388.0" width="1096.2" height="299.79999999999995"/></clipPath>
<polyline clip-path="url(#ca1)" fill="none" stroke="#80B85A" stroke-width="7" stroke-linejoin="round" points="195.5,652.1 195.9,651.9 196.3,651.6 196.7,651.3 197.1,650.9 197.5,650.5 197.8,650.1 198.2,649.6 198.6,649.0 199.0,648.4 199.4,647.7 199.8,646.9 200.2,645.9 200.6,644.9 201.0,643.6 201.4,642.2 201.8,640.6 202.2,638.7 202.5,636.6 202.9,634.1 203.3,631.3 203.7,628.2 204.1,624.9 204.5,621.5 204.9,618.2 205.3,615.5 205.7,613.6 206.1,612.8 206.5,613.3 206.9,615.0 207.2,617.4 207.6,620.4 208.0,623.5 208.4,626.6 208.8,629.4 209.2,631.9 209.6,634.1 210.0,635.9 210.4,637.5 210.8,638.9 211.2,640.0 211.6,640.9 211.9,641.6 212.3,642.2 212.7,642.7 213.1,643.1 213.5,643.3 213.9,643.5 214.3,643.6 214.7,643.7 215.1,643.7 215.5,643.6 215.9,643.5 216.2,643.3 216.6,643.1 217.0,642.9 217.4,642.6 217.8,642.3 218.2,641.9 218.6,641.5 219.0,641.0 219.4,640.5 219.8,640.0 220.2,639.4 220.6,638.8 220.9,638.2 221.3,637.5 221.7,636.7 222.1,635.9 222.5,635.1 222.9,634.2 223.3,633.3 223.7,632.3 224.1,631.2 224.5,630.1 224.9,628.9 225.3,627.7 225.6,626.3 226.0,624.9 226.4,623.4 226.8,621.8 227.2,620.2 227.6,618.4 228.0,616.5 228.4,614.5 228.8,612.4 229.2,610.1 229.6,607.7 230.0,605.1 230.3,602.4 230.7,599.5 231.1,596.4 231.5,593.2 231.9,589.7 232.3,586.0 232.7,582.0 233.1,577.8 233.5,573.3 233.9,568.5 234.3,563.4 234.6,558.0 235.0,552.2 235.4,546.1 235.8,539.6 236.2,532.7 236.6,525.4 237.0,517.8 237.4,509.7 237.8,501.3 238.2,492.6 238.6,483.6 239.0,474.3 239.3,464.9 239.7,455.4 240.1,445.9 240.5,436.6 240.9,427.7 241.3,419.3 241.7,411.6 242.1,404.7 242.5,399.0 242.9,394.5 243.3,391.4 243.7,389.7 244.0,389.6 244.4,391.1 244.8,394.0 245.2,398.4 245.6,404.0 246.0,410.7 246.4,418.4 246.8,426.8 247.2,435.7 247.6,445.0 248.0,454.6 248.4,464.2 248.7,473.8 249.1,483.2 249.5,492.4 249.9,501.3 250.3,509.9 250.7,518.1 251.1,525.9 251.5,533.4 251.9,540.4 252.3,547.1 252.7,553.4 253.1,559.4 253.4,565.0 253.8,570.3 254.2,575.2 254.6,579.9 255.0,584.3 255.4,588.4 255.8,592.3 256.2,595.9 256.6,599.4 257.0,602.6 257.4,605.7 257.7,608.5 258.1,611.2 258.5,613.8 258.9,616.2 259.3,618.5 259.7,620.6 260.1,622.7 260.5,624.6 260.9,626.4 261.3,628.2 261.7,629.8 262.1,631.4 262.4,632.9 262.8,634.3 263.2,635.6 263.6,636.9 264.0,638.1 264.4,639.3 264.8,640.4 265.2,641.5 265.6,642.5 266.0,643.4 266.4,644.4 266.8,645.3 267.1,646.1 267.5,646.9 267.9,647.7 268.3,648.4 268.7,649.2 269.1,649.8 269.5,650.5 269.9,651.1 270.3,651.8 270.7,652.3 271.1,652.9 271.5,653.5 271.8,654.0 272.2,654.5 272.6,655.0 273.0,655.5 273.4,655.9 273.8,656.4 274.2,656.8 274.6,657.2 275.0,657.6 275.4,658.0 275.8,658.4 276.1,658.7 276.5,659.1 276.9,659.4 277.3,659.7 277.7,660.1 278.1,660.4 278.5,660.7 278.9,661.0 279.3,661.2 279.7,661.5 280.1,661.8 280.5,662.0 280.8,662.3 281.2,662.5 281.6,662.8 282.0,663.0 282.4,663.2 282.8,663.5 283.2,663.7 283.6,663.9 284.0,664.1 284.4,664.3 284.8,664.5 285.2,664.7 285.5,664.9 285.9,665.0 286.3,665.2 286.7,665.4 287.1,665.6 287.5,665.7 287.9,665.9 288.3,666.0 288.7,666.2 289.1,666.3 289.5,666.5 289.9,666.6 290.2,666.8 290.6,666.9 291.0,667.0 291.4,667.2 291.8,667.3 292.2,667.4 292.6,667.5 293.0,667.6 293.4,667.8 293.8,667.9 294.2,668.0 294.5,668.1 294.9,668.2 295.3,668.3 295.7,668.4 296.1,668.5 296.5,668.6 296.9,668.7 297.3,668.8 297.7,668.9 298.1,669.0 298.5,669.1 298.9,669.1 299.2,669.2 299.6,669.3 300.0,669.4 300.4,669.5 300.8,669.5 301.2,669.6 301.6,669.7 302.0,669.8 302.4,669.8 302.8,669.9 303.2,670.0 303.6,670.0 303.9,670.1 304.3,670.2 304.7,670.2 305.1,670.3 305.5,670.3 305.9,670.4 306.3,670.5 306.7,670.5 307.1,670.6 307.5,670.6 307.9,670.7 308.3,670.7 308.6,670.8 309.0,670.8 309.4,670.9 309.8,670.9 310.2,670.9 310.6,671.0 311.0,671.0 311.4,671.1 311.8,671.1 312.2,671.1 312.6,671.2 312.9,671.2 313.3,671.2 313.7,671.3 314.1,671.3 314.5,671.3 314.9,671.4 315.3,671.4 315.7,671.4 316.1,671.4 316.5,671.5 316.9,671.5 317.3,671.5 317.6,671.5 318.0,671.6 318.4,671.6 318.8,671.6 319.2,671.6 319.6,671.6 320.0,671.6 320.4,671.6 320.8,671.7 321.2,671.7 321.6,671.7 322.0,671.7 322.3,671.7 322.7,671.7 323.1,671.7 323.5,671.7 323.9,671.7 324.3,671.7 324.7,671.7 325.1,671.7 325.5,671.7 325.9,671.7 326.3,671.6 326.7,671.6 327.0,671.6 327.4,671.6 327.8,671.6 328.2,671.6 328.6,671.5 329.0,671.5 329.4,671.5 329.8,671.5 330.2,671.4 330.6,671.4 331.0,671.3 331.4,671.3 331.7,671.3 332.1,671.2 332.5,671.2 332.9,671.1 333.3,671.0 333.7,671.0 334.1,670.9 334.5,670.8 334.9,670.8 335.3,670.7 335.7,670.6 336.0,670.5 336.4,670.4 336.8,670.3 337.2,670.1 337.6,670.0 338.0,669.8 338.4,669.6 338.8,669.4 339.2,669.2 339.6,669.0 340.0,668.7 340.4,668.4 340.7,668.1 341.1,667.8 341.5,667.5 341.9,667.2 342.3,667.0 342.7,666.8 343.1,666.7 343.5,666.7 343.9,666.7 344.3,666.8 344.7,666.8 345.1,666.9 345.4,666.9 345.8,666.9 346.2,666.9 346.6,666.8 347.0,666.7 347.4,666.6 347.8,666.5 348.2,666.3 348.6,666.2 349.0,666.0 349.4,665.8 349.8,665.5 350.1,665.3 350.5,665.0 350.9,664.7 351.3,664.4 351.7,664.1 352.1,663.7 352.5,663.3 352.9,662.9 353.3,662.5 353.7,662.1 354.1,661.6 354.4,661.1 354.8,660.6 355.2,660.0 355.6,659.4 356.0,658.8 356.4,658.1 356.8,657.4 357.2,656.7 357.6,655.8 358.0,655.0 358.4,654.1 358.8,653.1 359.1,652.0 359.5,650.9 359.9,649.7 360.3,648.4 360.7,647.0 361.1,645.4 361.5,643.8 361.9,642.1 362.3,640.1 362.7,638.1 363.1,635.8 363.5,633.4 363.8,630.7 364.2,627.8 364.6,624.6 365.0,621.2 365.4,617.3 365.8,613.1 366.2,608.5 366.6,603.5 367.0,597.9 367.4,591.7 367.8,584.9 368.2,577.4 368.5,569.2 368.9,560.2 369.3,550.4 369.7,539.8 370.1,528.4 370.5,516.3 370.9,503.8 371.3,491.0 371.7,478.3 372.1,466.3 372.5,455.4 372.8,446.4 373.2,439.8 373.6,436.1 374.0,435.5 374.4,438.2 374.8,443.8 375.2,452.0 375.6,462.1 376.0,473.5 376.4,485.6 376.8,498.0 377.2,510.2 377.5,521.9 377.9,533.0 378.3,543.3 378.7,552.8 379.1,561.4 379.5,569.3 379.9,576.4 380.3,582.8 380.7,588.5 381.1,593.6 381.5,598.2 381.9,602.3 382.2,606.0 382.6,609.2 383.0,612.1 383.4,614.6 383.8,616.8 384.2,618.8 384.6,620.5 385.0,621.9 385.4,623.1 385.8,624.2 386.2,625.0 386.6,625.7 386.9,626.1 387.3,626.4 387.7,626.6 388.1,626.6 388.5,626.4 388.9,626.1 389.3,625.6 389.7,625.0 390.1,624.2 390.5,623.3 390.9,622.2 391.2,620.9 391.6,619.4 392.0,617.8 392.4,615.9 392.8,613.9 393.2,611.6 393.6,609.0 394.0,606.3 394.4,603.2 394.8,599.8 395.2,596.2 395.6,592.1 395.9,587.7 396.3,582.9 396.7,577.7 397.1,571.9 397.5,565.7 397.9,558.9 398.3,551.6 398.7,543.6 399.1,535.1 399.5,525.8 399.9,516.0 400.3,505.5 400.6,494.4 401.0,482.9 401.4,470.9 401.8,458.8 402.2,446.7 402.6,434.8 403.0,423.6 403.4,413.4 403.8,404.5 404.2,397.5 404.6,392.5 405.0,389.9 405.3,389.8 405.7,392.2 406.1,396.9 406.5,403.9 406.9,412.7 407.3,423.0 407.7,434.3 408.1,446.3 408.5,458.7 408.9,471.2 409.3,483.5 409.7,495.4 410.0,506.9 410.4,517.8 410.8,528.1 411.2,537.8 411.6,546.8 412.0,555.2 412.4,563.0 412.8,570.3 413.2,577.0 413.6,583.2 414.0,589.0 414.3,594.3 414.7,599.2 415.1,603.7 415.5,607.9 415.9,611.8 416.3,615.5 416.7,618.8 417.1,622.0 417.5,624.9 417.9,627.6 418.3,630.1 418.7,632.5 419.0,634.7 419.4,636.7 419.8,638.7 420.2,640.5 420.6,642.2 421.0,643.8 421.4,645.3 421.8,646.7 422.2,648.0 422.6,649.2 423.0,650.4 423.4,651.5 423.7,652.6 424.1,653.6 424.5,654.5 424.9,655.4 425.3,656.3 425.7,657.1 426.1,657.8 426.5,658.6 426.9,659.3 427.3,659.9 427.7,660.5 428.1,661.1 428.4,661.7 428.8,662.2 429.2,662.7 429.6,663.2 430.0,663.6 430.4,664.1 430.8,664.5 431.2,664.8 431.6,665.2 432.0,665.5 432.4,665.9 432.7,666.1 433.1,666.4 433.5,666.7 433.9,666.9 434.3,667.1 434.7,667.2 435.1,667.4 435.5,667.5 435.9,667.6 436.3,667.6 436.7,667.6 437.1,667.5 437.4,667.4 437.8,667.2 438.2,667.0 438.6,666.7 439.0,666.2 439.4,665.7 439.8,665.1 440.2,664.3 440.6,663.5 441.0,662.5 441.4,661.5 441.8,660.6 442.1,659.8 442.5,659.4 442.9,659.3 443.3,659.7 443.7,660.5 444.1,661.5 444.5,662.8 444.9,664.1 445.3,665.4 445.7,666.6 446.1,667.6 446.5,668.6 446.8,669.5 447.2,670.2 447.6,670.9 448.0,671.5 448.4,672.0 448.8,672.5 449.2,672.9 449.6,673.2 450.0,673.6 450.4,673.9 450.8,674.2 451.1,674.4 451.5,674.7 451.9,674.9 452.3,675.1 452.7,675.3 453.1,675.4 453.5,675.6 453.9,675.8 454.3,675.9 454.7,676.1 455.1,676.2 455.5,676.3 455.8,676.4 456.2,676.5 456.6,676.7 457.0,676.8 457.4,676.9 457.8,677.0 458.2,677.1 458.6,677.2 459.0,677.2 459.4,677.3 459.8,677.4 460.2,677.5 460.5,677.6 460.9,677.6 461.3,677.7 461.7,677.8 462.1,677.9 462.5,677.9 462.9,678.0 463.3,678.1 463.7,678.1 464.1,678.2 464.5,678.2 464.9,678.3 465.2,678.4 465.6,678.4 466.0,678.5 466.4,678.5 466.8,678.6 467.2,678.6 467.6,678.7 468.0,678.7 468.4,678.8 468.8,678.8 469.2,678.9 469.6,678.9 469.9,679.0 470.3,679.0 470.7,679.0 471.1,679.1 471.5,679.1 471.9,679.2 472.3,679.2 472.7,679.3 473.1,679.3 473.5,679.3 473.9,679.4 474.2,679.4 474.6,679.4 475.0,679.5 475.4,679.5 475.8,679.5 476.2,679.6 476.6,679.6 477.0,679.6 477.4,679.7 477.8,679.7 478.2,679.7 478.6,679.8 478.9,679.8 479.3,679.8 479.7,679.9 480.1,679.9 480.5,679.9 480.9,680.0 481.3,680.0 481.7,680.0 482.1,680.0 482.5,680.1 482.9,680.1 483.3,680.1 483.6,680.1 484.0,680.2 484.4,680.2 484.8,680.2 485.2,680.2 485.6,680.3 486.0,680.3 486.4,680.3 486.8,680.3 487.2,680.4 487.6,680.4 488.0,680.4 488.3,680.4 488.7,680.5 489.1,680.5 489.5,680.5 489.9,680.5 490.3,680.5 490.7,680.6 491.1,680.6 491.5,680.6 491.9,680.6 492.3,680.6 492.6,680.7 493.0,680.7 493.4,680.7 493.8,680.7 494.2,680.7 494.6,680.8 495.0,680.8 495.4,680.8 495.8,680.8 496.2,680.8 496.6,680.9 497.0,680.9 497.3,680.9 497.7,680.9 498.1,680.9 498.5,680.9 498.9,681.0 499.3,681.0 499.7,681.0 500.1,681.0 500.5,681.0 500.9,681.0 501.3,681.1 501.7,681.1 502.0,681.1 502.4,681.1 502.8,681.1 503.2,681.1 503.6,681.2 504.0,681.2 504.4,681.2 504.8,681.2 505.2,681.2 505.6,681.2 506.0,681.2 506.4,681.3 506.7,681.3 507.1,681.3 507.5,681.3 507.9,681.3 508.3,681.3 508.7,681.3 509.1,681.3 509.5,681.4 509.9,681.4 510.3,681.4 510.7,681.4 511.0,681.4 511.4,681.4 511.8,681.4 512.2,681.4 512.6,681.5 513.0,681.5 513.4,681.5 513.8,681.5 514.2,681.5 514.6,681.5 515.0,681.5 515.4,681.5 515.7,681.6 516.1,681.6 516.5,681.6 516.9,681.6 517.3,681.6 517.7,681.6 518.1,681.6 518.5,681.6 518.9,681.6 519.3,681.7 519.7,681.7 520.1,681.7 520.4,681.7 520.8,681.7 521.2,681.7 521.6,681.7 522.0,681.7 522.4,681.7 522.8,681.7 523.2,681.8 523.6,681.8 524.0,681.8 524.4,681.8 524.8,681.8 525.1,681.8 525.5,681.8 525.9,681.8 526.3,681.8 526.7,681.8 527.1,681.9 527.5,681.9 527.9,681.9 528.3,681.9 528.7,681.9 529.1,681.9 529.4,681.9 529.8,681.9 530.2,681.9 530.6,681.9 531.0,681.9 531.4,681.9 531.8,682.0 532.2,682.0 532.6,682.0 533.0,682.0 533.4,682.0 533.8,682.0 534.1,682.0 534.5,682.0 534.9,682.0 535.3,682.0 535.7,682.0 536.1,682.0 536.5,682.1 536.9,682.1 537.3,682.1 537.7,682.1 538.1,682.1 538.5,682.1 538.8,682.1 539.2,682.1 539.6,682.1 540.0,682.1 540.4,682.1 540.8,682.1 541.2,682.1 541.6,682.1 542.0,682.2 542.4,682.2 542.8,682.2 543.2,682.2 543.5,682.2 543.9,682.2 544.3,682.2 544.7,682.2 545.1,682.2 545.5,682.2 545.9,682.2 546.3,682.2 546.7,682.2 547.1,682.2 547.5,682.2 547.9,682.3 548.2,682.3 548.6,682.3 549.0,682.3 549.4,682.3 549.8,682.3 550.2,682.3 550.6,682.3 551.0,682.3 551.4,682.3 551.8,682.3 552.2,682.3 552.5,682.3 552.9,682.3 553.3,682.3 553.7,682.3 554.1,682.3 554.5,682.4 554.9,682.4 555.3,682.4 555.7,682.4 556.1,682.4 556.5,682.4 556.9,682.4 557.2,682.4 557.6,682.4 558.0,682.4 558.4,682.4 558.8,682.4 559.2,682.4 559.6,682.4 560.0,682.4 560.4,682.4 560.8,682.4 561.2,682.4 561.6,682.5 561.9,682.5 562.3,682.5 562.7,682.5 563.1,682.5 563.5,682.5 563.9,682.5 564.3,682.5 564.7,682.5 565.1,682.5 565.5,682.5 565.9,682.5 566.3,682.5 566.6,682.5 567.0,682.5 567.4,682.5 567.8,682.5 568.2,682.5 568.6,682.5 569.0,682.5 569.4,682.5 569.8,682.6 570.2,682.6 570.6,682.6 570.9,682.6 571.3,682.6 571.7,682.6 572.1,682.6 572.5,682.6 572.9,682.6 573.3,682.6 573.7,682.6 574.1,682.6 574.5,682.6 574.9,682.6 575.3,682.6 575.6,682.6 576.0,682.6 576.4,682.6 576.8,682.6 577.2,682.6 577.6,682.6 578.0,682.6 578.4,682.6 578.8,682.7 579.2,682.7 579.6,682.7 580.0,682.7 580.3,682.7 580.7,682.7 581.1,682.7 581.5,682.7 581.9,682.7 582.3,682.7 582.7,682.7 583.1,682.7 583.5,682.7 583.9,682.7 584.3,682.7 584.7,682.7 585.0,682.7 585.4,682.7 585.8,682.7 586.2,682.7 586.6,682.7 587.0,682.7 587.4,682.7 587.8,682.7 588.2,682.7 588.6,682.7 589.0,682.7 589.3,682.8 589.7,682.8 590.1,682.8 590.5,682.8 590.9,682.8 591.3,682.8 591.7,682.8 592.1,682.8 592.5,682.8 592.9,682.8 593.3,682.8 593.7,682.8 594.0,682.8 594.4,682.8 594.8,682.8 595.2,682.8 595.6,682.8 596.0,682.8 596.4,682.8 596.8,682.8 597.2,682.8 597.6,682.8 598.0,682.8 598.4,682.8 598.7,682.8 599.1,682.8 599.5,682.8 599.9,682.8 600.3,682.8 600.7,682.8 601.1,682.8 601.5,682.8 601.9,682.9 602.3,682.9 602.7,682.9 603.1,682.9 603.4,682.9 603.8,682.9 604.2,682.9 604.6,682.9 605.0,682.9 605.4,682.9 605.8,682.9 606.2,682.9 606.6,682.9 607.0,682.9 607.4,682.9 607.7,682.9 608.1,682.9 608.5,682.9 608.9,682.9 609.3,682.9 609.7,682.9 610.1,682.9 610.5,682.9 610.9,682.9 611.3,682.9 611.7,682.9 612.1,682.9 612.4,682.9 612.8,682.9 613.2,682.9 613.6,682.9 614.0,682.9 614.4,682.9 614.8,682.9 615.2,682.9 615.6,682.9 616.0,682.9 616.4,682.9 616.8,682.9 617.1,683.0 617.5,683.0 617.9,683.0 618.3,683.0 618.7,683.0 619.1,683.0 619.5,683.0 619.9,683.0 620.3,683.0 620.7,683.0 621.1,683.0 621.5,683.0 621.8,683.0 622.2,683.0 622.6,683.0 623.0,683.0 623.4,683.0 623.8,683.0 624.2,683.0 624.6,683.0 625.0,683.0 625.4,683.0 625.8,683.0 626.2,683.0 626.5,683.0 626.9,683.0 627.3,683.0 627.7,683.0 628.1,683.0 628.5,683.0 628.9,683.0 629.3,683.0 629.7,683.0 630.1,683.0 630.5,683.0 630.8,683.0 631.2,683.0 631.6,683.0 632.0,683.0 632.4,683.0 632.8,683.0 633.2,683.0 633.6,683.0 634.0,683.0 634.4,683.0 634.8,683.0 635.2,683.0 635.5,683.0 635.9,683.0 636.3,683.1 636.7,683.1 637.1,683.1 637.5,683.1 637.9,683.1 638.3,683.1 638.7,683.1 639.1,683.1 639.5,683.1 639.9,683.1 640.2,683.1 640.6,683.1 641.0,683.1 641.4,683.1 641.8,683.1 642.2,683.1 642.6,683.1 643.0,683.1 643.4,683.1 643.8,683.1 644.2,683.1 644.6,683.1 644.9,683.1 645.3,683.1 645.7,683.1 646.1,683.1 646.5,683.1 646.9,683.1 647.3,683.1 647.7,683.1 648.1,683.1 648.5,683.1 648.9,683.1 649.2,683.1 649.6,683.1 650.0,683.1 650.4,683.1 650.8,683.1 651.2,683.1 651.6,683.1 652.0,683.1 652.4,683.1 652.8,683.1 653.2,683.1 653.6,683.1 653.9,683.1 654.3,683.1 654.7,683.1 655.1,683.1 655.5,683.1 655.9,683.1 656.3,683.1 656.7,683.1 657.1,683.1 657.5,683.1 657.9,683.1 658.3,683.1 658.6,683.1 659.0,683.1 659.4,683.1 659.8,683.1 660.2,683.1 660.6,683.1 661.0,683.1 661.4,683.1 661.8,683.1 662.2,683.1 662.6,683.1 663.0,683.1 663.3,683.1 663.7,683.2 664.1,683.2 664.5,683.2 664.9,683.2 665.3,683.2 665.7,683.2 666.1,683.2 666.5,683.2 666.9,683.2 667.3,683.2 667.6,683.2 668.0,683.2 668.4,683.2 668.8,683.2 669.2,683.2 669.6,683.2 670.0,683.2 670.4,683.2 670.8,683.2 671.2,683.2 671.6,683.2 672.0,683.2 672.3,683.2 672.7,683.2 673.1,683.2 673.5,683.2 673.9,683.2 674.3,683.2 674.7,683.2 675.1,683.2 675.5,683.2 675.9,683.2 676.3,683.2 676.7,683.2 677.0,683.2 677.4,683.2 677.8,683.2 678.2,683.2 678.6,683.2 679.0,683.2 679.4,683.2 679.8,683.2 680.2,683.2 680.6,683.2 681.0,683.2 681.4,683.2 681.7,683.2 682.1,683.2 682.5,683.2 682.9,683.2 683.3,683.2 683.7,683.2 684.1,683.2 684.5,683.2 684.9,683.2 685.3,683.2 685.7,683.2 686.0,683.2 686.4,683.2 686.8,683.2 687.2,683.2 687.6,683.2 688.0,683.2 688.4,683.2 688.8,683.2 689.2,683.2 689.6,683.2 690.0,683.2 690.4,683.2 690.7,683.2 691.1,683.2 691.5,683.2 691.9,683.2 692.3,683.2 692.7,683.2 693.1,683.2 693.5,683.2 693.9,683.2 694.3,683.2 694.7,683.2 695.1,683.2 695.4,683.2 695.8,683.2 696.2,683.2 696.6,683.2 697.0,683.2 697.4,683.2 697.8,683.2 698.2,683.2 698.6,683.2 699.0,683.2 699.4,683.2 699.8,683.2 700.1,683.2 700.5,683.2 700.9,683.2 701.3,683.2 701.7,683.2 702.1,683.2 702.5,683.2 702.9,683.2 703.3,683.2 703.7,683.2 704.1,683.2 704.5,683.2 704.8,683.2 705.2,683.2 705.6,683.2 706.0,683.2 706.4,683.2 706.8,683.2 707.2,683.2 707.6,683.2 708.0,683.2 708.4,683.2 708.8,683.2 709.1,683.2 709.5,683.2 709.9,683.2 710.3,683.2 710.7,683.2 711.1,683.2 711.5,683.2 711.9,683.2 712.3,683.2 712.7,683.2 713.1,683.2 713.5,683.2 713.8,683.2 714.2,683.2 714.6,683.2 715.0,683.2 715.4,683.2 715.8,683.2 716.2,683.2 716.6,683.2 717.0,683.2 717.4,683.2 717.8,683.2 718.2,683.2 718.5,683.2 718.9,683.2 719.3,683.2 719.7,683.2 720.1,683.2 720.5,683.2 720.9,683.2 721.3,683.2 721.7,683.2 722.1,683.2 722.5,683.2 722.9,683.2 723.2,683.2 723.6,683.2 724.0,683.2 724.4,683.2 724.8,683.2 725.2,683.2 725.6,683.2 726.0,683.2 726.4,683.2 726.8,683.2 727.2,683.2 727.5,683.2 727.9,683.2 728.3,683.2 728.7,683.2 729.1,683.2 729.5,683.2 729.9,683.2 730.3,683.2 730.7,683.2 731.1,683.2 731.5,683.2 731.9,683.2 732.2,683.2 732.6,683.2 733.0,683.2 733.4,683.2 733.8,683.2 734.2,683.2 734.6,683.2 735.0,683.2 735.4,683.2 735.8,683.2 736.2,683.2 736.6,683.2 736.9,683.2 737.3,683.2 737.7,683.2 738.1,683.2 738.5,683.2 738.9,683.2 739.3,683.2 739.7,683.2 740.1,683.2 740.5,683.2 740.9,683.2 741.3,683.2 741.6,683.2 742.0,683.2 742.4,683.2 742.8,683.2 743.2,683.2 743.6,683.2 744.0,683.2 744.4,683.2 744.8,683.2 745.2,683.2 745.6,683.2 745.9,683.2 746.3,683.2 746.7,683.2 747.1,683.2 747.5,683.2 747.9,683.2 748.3,683.2 748.7,683.2 749.1,683.2 749.5,683.2 749.9,683.2 750.3,683.2 750.6,683.2 751.0,683.2 751.4,683.2 751.8,683.2 752.2,683.2 752.6,683.2 753.0,683.2 753.4,683.2 753.8,683.2 754.2,683.2 754.6,683.2 755.0,683.2 755.3,683.2 755.7,683.2 756.1,683.2 756.5,683.2 756.9,683.2 757.3,683.2 757.7,683.2 758.1,683.2 758.5,683.2 758.9,683.2 759.3,683.2 759.7,683.2 760.0,683.2 760.4,683.2 760.8,683.2 761.2,683.2 761.6,683.2 762.0,683.2 762.4,683.2 762.8,683.2 763.2,683.2 763.6,683.2 764.0,683.2 764.3,683.2 764.7,683.2 765.1,683.2 765.5,683.2 765.9,683.2 766.3,683.2 766.7,683.2 767.1,683.2 767.5,683.2 767.9,683.2 768.3,683.2 768.7,683.2 769.0,683.2 769.4,683.2 769.8,683.2 770.2,683.2 770.6,683.2 771.0,683.2 771.4,683.2 771.8,683.2 772.2,683.2 772.6,683.2 773.0,683.2 773.4,683.2 773.7,683.2 774.1,683.2 774.5,683.2 774.9,683.2 775.3,683.2 775.7,683.2 776.1,683.2 776.5,683.2 776.9,683.2 777.3,683.2 777.7,683.2 778.1,683.2 778.4,683.2 778.8,683.2 779.2,683.2 779.6,683.2 780.0,683.2 780.4,683.2 780.8,683.2 781.2,683.2 781.6,683.2 782.0,683.2 782.4,683.2 782.8,683.2 783.1,683.2 783.5,683.2 783.9,683.2 784.3,683.2 784.7,683.2 785.1,683.2 785.5,683.2 785.9,683.1 786.3,683.1 786.7,683.1 787.1,683.1 787.4,683.1 787.8,683.1 788.2,683.1 788.6,683.1 789.0,683.1 789.4,683.1 789.8,683.1 790.2,683.1 790.6,683.1 791.0,683.1 791.4,683.1 791.8,683.1 792.1,683.1 792.5,683.1 792.9,683.1 793.3,683.1 793.7,683.1 794.1,683.1 794.5,683.1 794.9,683.1 795.3,683.1 795.7,683.1 796.1,683.1 796.5,683.1 796.8,683.1 797.2,683.1 797.6,683.1 798.0,683.1 798.4,683.1 798.8,683.1 799.2,683.1 799.6,683.1 800.0,683.1 800.4,683.1 800.8,683.1 801.2,683.1 801.5,683.1 801.9,683.1 802.3,683.1 802.7,683.1 803.1,683.1 803.5,683.1 803.9,683.1 804.3,683.1 804.7,683.1 805.1,683.1 805.5,683.1 805.8,683.1 806.2,683.1 806.6,683.1 807.0,683.1 807.4,683.1 807.8,683.1 808.2,683.1 808.6,683.1 809.0,683.1 809.4,683.1 809.8,683.1 810.2,683.1 810.5,683.1 810.9,683.0 811.3,683.0 811.7,683.0 812.1,683.0 812.5,683.0 812.9,683.0 813.3,683.0 813.7,683.0 814.1,683.0 814.5,683.0 814.9,683.0 815.2,683.0 815.6,683.0 816.0,683.0 816.4,683.0 816.8,683.0 817.2,683.0 817.6,683.0 818.0,683.0 818.4,683.0 818.8,683.0 819.2,683.0 819.6,683.0 819.9,683.0 820.3,683.0 820.7,683.0 821.1,683.0 821.5,683.0 821.9,683.0 822.3,683.0 822.7,683.0 823.1,683.0 823.5,683.0 823.9,683.0 824.2,683.0 824.6,683.0 825.0,683.0 825.4,683.0 825.8,683.0 826.2,683.0 826.6,683.0 827.0,683.0 827.4,682.9 827.8,682.9 828.2,682.9 828.6,682.9 828.9,682.9 829.3,682.9 829.7,682.9 830.1,682.9 830.5,682.9 830.9,682.9 831.3,682.9 831.7,682.9 832.1,682.9 832.5,682.9 832.9,682.9 833.3,682.9 833.6,682.9 834.0,682.9 834.4,682.9 834.8,682.9 835.2,682.9 835.6,682.9 836.0,682.9 836.4,682.9 836.8,682.9 837.2,682.9 837.6,682.9 838.0,682.9 838.3,682.9 838.7,682.9 839.1,682.9 839.5,682.9 839.9,682.9 840.3,682.8 840.7,682.8 841.1,682.8 841.5,682.8 841.9,682.8 842.3,682.8 842.6,682.8 843.0,682.8 843.4,682.8 843.8,682.8 844.2,682.8 844.6,682.8 845.0,682.8 845.4,682.8 845.8,682.8 846.2,682.8 846.6,682.8 847.0,682.8 847.3,682.8 847.7,682.8 848.1,682.8 848.5,682.8 848.9,682.8 849.3,682.8 849.7,682.8 850.1,682.8 850.5,682.8 850.9,682.7 851.3,682.7 851.7,682.7 852.0,682.7 852.4,682.7 852.8,682.7 853.2,682.7 853.6,682.7 854.0,682.7 854.4,682.7 854.8,682.7 855.2,682.7 855.6,682.7 856.0,682.7 856.4,682.7 856.7,682.7 857.1,682.7 857.5,682.7 857.9,682.7 858.3,682.7 858.7,682.7 859.1,682.7 859.5,682.6 859.9,682.6 860.3,682.6 860.7,682.6 861.1,682.6 861.4,682.6 861.8,682.6 862.2,682.6 862.6,682.6 863.0,682.6 863.4,682.6 863.8,682.6 864.2,682.6 864.6,682.6 865.0,682.6 865.4,682.6 865.7,682.6 866.1,682.6 866.5,682.5 866.9,682.5 867.3,682.5 867.7,682.5 868.1,682.5 868.5,682.5 868.9,682.5 869.3,682.5 869.7,682.5 870.1,682.5 870.4,682.5 870.8,682.5 871.2,682.5 871.6,682.5 872.0,682.5 872.4,682.5 872.8,682.5 873.2,682.4 873.6,682.4 874.0,682.4 874.4,682.4 874.8,682.4 875.1,682.4 875.5,682.4 875.9,682.4 876.3,682.4 876.7,682.4 877.1,682.4 877.5,682.4 877.9,682.4 878.3,682.4 878.7,682.3 879.1,682.3 879.5,682.3 879.8,682.3 880.2,682.3 880.6,682.3 881.0,682.3 881.4,682.3 881.8,682.3 882.2,682.3 882.6,682.3 883.0,682.3 883.4,682.3 883.8,682.2 884.1,682.2 884.5,682.2 884.9,682.2 885.3,682.2 885.7,682.2 886.1,682.2 886.5,682.2 886.9,682.2 887.3,682.2 887.7,682.2 888.1,682.2 888.5,682.1 888.8,682.1 889.2,682.1 889.6,682.1 890.0,682.1 890.4,682.1 890.8,682.1 891.2,682.1 891.6,682.1 892.0,682.1 892.4,682.0 892.8,682.0 893.2,682.0 893.5,682.0 893.9,682.0 894.3,682.0 894.7,682.0 895.1,682.0 895.5,682.0 895.9,682.0 896.3,681.9 896.7,681.9 897.1,681.9 897.5,681.9 897.9,681.9 898.2,681.9 898.6,681.9 899.0,681.9 899.4,681.9 899.8,681.8 900.2,681.8 900.6,681.8 901.0,681.8 901.4,681.8 901.8,681.8 902.2,681.8 902.5,681.8 902.9,681.7 903.3,681.7 903.7,681.7 904.1,681.7 904.5,681.7 904.9,681.7 905.3,681.7 905.7,681.7 906.1,681.6 906.5,681.6 906.9,681.6 907.2,681.6 907.6,681.6 908.0,681.6 908.4,681.6 908.8,681.5 909.2,681.5 909.6,681.5 910.0,681.5 910.4,681.5 910.8,681.5 911.2,681.4 911.6,681.4 911.9,681.4 912.3,681.4 912.7,681.4 913.1,681.4 913.5,681.3 913.9,681.3 914.3,681.3 914.7,681.3 915.1,681.3 915.5,681.3 915.9,681.2 916.3,681.2 916.6,681.2 917.0,681.2 917.4,681.2 917.8,681.1 918.2,681.1 918.6,681.1 919.0,681.1 919.4,681.1 919.8,681.1 920.2,681.0 920.6,681.0 920.9,681.0 921.3,681.0 921.7,680.9 922.1,680.9 922.5,680.9 922.9,680.9 923.3,680.9 923.7,680.8 924.1,680.8 924.5,680.8 924.9,680.8 925.3,680.7 925.6,680.7 926.0,680.7 926.4,680.7 926.8,680.6 927.2,680.6 927.6,680.6 928.0,680.6 928.4,680.5 928.8,680.5 929.2,680.5 929.6,680.5 930.0,680.4 930.3,680.4 930.7,680.4 931.1,680.4 931.5,680.3 931.9,680.3 932.3,680.3 932.7,680.2 933.1,680.2 933.5,680.2 933.9,680.2 934.3,680.1 934.7,680.1 935.0,680.1 935.4,680.0 935.8,680.0 936.2,680.0 936.6,679.9 937.0,679.9 937.4,679.9 937.8,679.8 938.2,679.8 938.6,679.7 939.0,679.7 939.3,679.7 939.7,679.6 940.1,679.6 940.5,679.6 940.9,679.5 941.3,679.5 941.7,679.4 942.1,679.4 942.5,679.4 942.9,679.3 943.3,679.3 943.7,679.2 944.0,679.2 944.4,679.1 944.8,679.1 945.2,679.1 945.6,679.0 946.0,679.0 946.4,678.9 946.8,678.9 947.2,678.8 947.6,678.8 948.0,678.7 948.4,678.7 948.7,678.6 949.1,678.6 949.5,678.5 949.9,678.5 950.3,678.4 950.7,678.3 951.1,678.3 951.5,678.2 951.9,678.2 952.3,678.1 952.7,678.0 953.1,678.0 953.4,677.9 953.8,677.9 954.2,677.8 954.6,677.7 955.0,677.7 955.4,677.6 955.8,677.5 956.2,677.5 956.6,677.4 957.0,677.3 957.4,677.2 957.8,677.2 958.1,677.1 958.5,677.0 958.9,676.9 959.3,676.8 959.7,676.8 960.1,676.7 960.5,676.6 960.9,676.5 961.3,676.4 961.7,676.3 962.1,676.2 962.4,676.1 962.8,676.1 963.2,676.0 963.6,675.9 964.0,675.8 964.4,675.7 964.8,675.6 965.2,675.4 965.6,675.3 966.0,675.2 966.4,675.1 966.8,675.0 967.1,674.9 967.5,674.8 967.9,674.6 968.3,674.5 968.7,674.4 969.1,674.3 969.5,674.1 969.9,674.0 970.3,673.9 970.7,673.7 971.1,673.6 971.5,673.4 971.8,673.3 972.2,673.1 972.6,673.0 973.0,672.8 973.4,672.7 973.8,672.5 974.2,672.3 974.6,672.2 975.0,672.0 975.4,671.8 975.8,671.6 976.2,671.4 976.5,671.2 976.9,671.0 977.3,670.8 977.7,670.6 978.1,670.4 978.5,670.2 978.9,670.0 979.3,669.7 979.7,669.5 980.1,669.3 980.5,669.0 980.8,668.8 981.2,668.5 981.6,668.2 982.0,668.0 982.4,667.7 982.8,667.4 983.2,667.1 983.6,666.8 984.0,666.5 984.4,666.2 984.8,665.9 985.2,665.5 985.5,665.2 985.9,664.8 986.3,664.5 986.7,664.1 987.1,663.7 987.5,663.3 987.9,662.9 988.3,662.5 988.7,662.1 989.1,661.6 989.5,661.2 989.9,660.7 990.2,660.2 990.6,659.7 991.0,659.2 991.4,658.6 991.8,658.1 992.2,657.5 992.6,656.9 993.0,656.3 993.4,655.7 993.8,655.1 994.2,654.4 994.6,653.7 994.9,653.0 995.3,652.2 995.7,651.5 996.1,650.7 996.5,649.9 996.9,649.0 997.3,648.1 997.7,647.2 998.1,646.3 998.5,645.3 998.9,644.3 999.2,643.2 999.6,642.1 1000.0,641.0 1000.4,639.8 1000.8,638.6 1001.2,637.3 1001.6,636.0 1002.0,634.6 1002.4,633.1 1002.8,631.6 1003.2,630.1 1003.6,628.4 1003.9,626.7 1004.3,625.0 1004.7,623.1 1005.1,621.2 1005.5,619.2 1005.9,617.1 1006.3,614.9 1006.7,612.6 1007.1,610.2 1007.5,607.7 1007.9,605.0 1008.3,602.3 1008.6,599.4 1009.0,596.4 1009.4,593.3 1009.8,590.0 1010.2,586.5 1010.6,582.9 1011.0,579.2 1011.4,575.2 1011.8,571.1 1012.2,566.8 1012.6,562.3 1013.0,557.6 1013.3,552.7 1013.7,547.5 1014.1,542.2 1014.5,536.7 1014.9,530.9 1015.3,524.9 1015.7,518.7 1016.1,512.3 1016.5,505.7 1016.9,498.9 1017.3,492.0 1017.7,484.9 1018.0,477.6 1018.4,470.3 1018.8,463.0 1019.2,455.7 1019.6,448.4 1020.0,441.2 1020.4,434.2 1020.8,427.4 1021.2,421.0 1021.6,415.0 1022.0,409.4 1022.3,404.4 1022.7,400.0 1023.1,396.3 1023.5,393.4 1023.9,391.2 1024.3,389.9 1024.7,389.5 1025.1,389.9 1025.5,391.2 1025.9,393.4 1026.3,396.3 1026.7,400.0 1027.0,404.4 1027.4,409.4 1027.8,415.0 1028.2,421.0 1028.6,427.4 1029.0,434.2 1029.4,441.2 1029.8,448.4 1030.2,455.7 1030.6,463.0 1031.0,470.3 1031.4,477.6 1031.7,484.9 1032.1,492.0 1032.5,498.9 1032.9,505.7 1033.3,512.3 1033.7,518.7 1034.1,524.9 1034.5,530.9 1034.9,536.7 1035.3,542.2 1035.7,547.6 1036.1,552.7 1036.4,557.6 1036.8,562.3 1037.2,566.8 1037.6,571.1 1038.0,575.2 1038.4,579.2 1038.8,582.9 1039.2,586.5 1039.6,590.0 1040.0,593.3 1040.4,596.4 1040.7,599.4 1041.1,602.3 1041.5,605.0 1041.9,607.7 1042.3,610.2 1042.7,612.6 1043.1,614.9 1043.5,617.1 1043.9,619.2 1044.3,621.2 1044.7,623.1 1045.1,625.0 1045.4,626.7 1045.8,628.4 1046.2,630.1 1046.6,631.6 1047.0,633.1 1047.4,634.6 1047.8,636.0 1048.2,637.3 1048.6,638.6 1049.0,639.8 1049.4,641.0 1049.8,642.1 1050.1,643.2 1050.5,644.3 1050.9,645.3 1051.3,646.3 1051.7,647.2 1052.1,648.2 1052.5,649.0 1052.9,649.9 1053.3,650.7 1053.7,651.5 1054.1,652.3 1054.5,653.0 1054.8,653.7 1055.2,654.4 1055.6,655.1 1056.0,655.7 1056.4,656.3 1056.8,657.0 1057.2,657.5 1057.6,658.1 1058.0,658.7 1058.4,659.2 1058.8,659.7 1059.1,660.2 1059.5,660.7 1059.9,661.2 1060.3,661.6 1060.7,662.1 1061.1,662.5 1061.5,662.9 1061.9,663.3 1062.3,663.7 1062.7,664.1 1063.1,664.5 1063.5,664.8 1063.8,665.2 1064.2,665.5 1064.6,665.9 1065.0,666.2 1065.4,666.5 1065.8,666.8 1066.2,667.1 1066.6,667.4 1067.0,667.7 1067.4,668.0 1067.8,668.3 1068.2,668.5 1068.5,668.8 1068.9,669.0 1069.3,669.3 1069.7,669.5 1070.1,669.8 1070.5,670.0 1070.9,670.2 1071.3,670.4 1071.7,670.6 1072.1,670.9 1072.5,671.1 1072.9,671.3 1073.2,671.4 1073.6,671.6 1074.0,671.8 1074.4,672.0 1074.8,672.2 1075.2,672.4 1075.6,672.5 1076.0,672.7 1076.4,672.9 1076.8,673.0 1077.2,673.2 1077.5,673.3 1077.9,673.5 1078.3,673.6 1078.7,673.8 1079.1,673.9 1079.5,674.0 1079.9,674.2 1080.3,674.3 1080.7,674.4 1081.1,674.6 1081.5,674.7 1081.9,674.8 1082.2,674.9 1082.6,675.0 1083.0,675.1 1083.4,675.3 1083.8,675.4 1084.2,675.5 1084.6,675.6 1085.0,675.7 1085.4,675.8 1085.8,675.9 1086.2,676.0 1086.6,676.1 1086.9,676.2 1087.3,676.3 1087.7,676.4 1088.1,676.5 1088.5,676.5 1088.9,676.6 1089.3,676.7 1089.7,676.8 1090.1,676.9 1090.5,677.0 1090.9,677.0 1091.3,677.1 1091.6,677.2 1092.0,677.3 1092.4,677.3 1092.8,677.4 1093.2,677.5 1093.6,677.6 1094.0,677.6 1094.4,677.7 1094.8,677.8 1095.2,677.8 1095.6,677.9 1095.9,678.0 1096.3,678.0 1096.7,678.1 1097.1,678.1 1097.5,678.2 1097.9,678.3 1098.3,678.3 1098.7,678.4 1099.1,678.4 1099.5,678.5 1099.9,678.5 1100.3,678.6 1100.6,678.7 1101.0,678.7 1101.4,678.8 1101.8,678.8 1102.2,678.9 1102.6,678.9 1103.0,679.0 1103.4,679.0 1103.8,679.1 1104.2,679.1 1104.6,679.1 1105.0,679.2 1105.3,679.2 1105.7,679.3 1106.1,679.3 1106.5,679.4 1106.9,679.4 1107.3,679.4 1107.7,679.5 1108.1,679.5 1108.5,679.6 1108.9,679.6 1109.3,679.6 1109.7,679.7 1110.0,679.7 1110.4,679.8 1110.8,679.8 1111.2,679.8 1111.6,679.9 1112.0,679.9 1112.4,679.9 1112.8,680.0 1113.2,680.0 1113.6,680.0 1114.0,680.1 1114.4,680.1 1114.7,680.1 1115.1,680.2 1115.5,680.2 1115.9,680.2 1116.3,680.3 1116.7,680.3 1117.1,680.3 1117.5,680.3 1117.9,680.4 1118.3,680.4 1118.7,680.4 1119.0,680.5 1119.4,680.5 1119.8,680.5 1120.2,680.5 1120.6,680.6 1121.0,680.6 1121.4,680.6 1121.8,680.7 1122.2,680.7 1122.6,680.7 1123.0,680.7 1123.4,680.8 1123.7,680.8 1124.1,680.8 1124.5,680.8 1124.9,680.8 1125.3,680.9 1125.7,680.9 1126.1,680.9 1126.5,680.9 1126.9,681.0 1127.3,681.0 1127.7,681.0 1128.1,681.0 1128.4,681.0 1128.8,681.1 1129.2,681.1 1129.6,681.1 1130.0,681.1 1130.4,681.1 1130.8,681.2 1131.2,681.2 1131.6,681.2 1132.0,681.2 1132.4,681.2 1132.8,681.3 1133.1,681.3 1133.5,681.3 1133.9,681.3 1134.3,681.3 1134.7,681.4 1135.1,681.4 1135.5,681.4 1135.9,681.4 1136.3,681.4 1136.7,681.4 1137.1,681.5 1137.4,681.5 1137.8,681.5 1138.2,681.5 1138.6,681.5 1139.0,681.5 1139.4,681.6 1139.8,681.6 1140.2,681.6 1140.6,681.6 1141.0,681.6 1141.4,681.6 1141.8,681.6 1142.1,681.7 1142.5,681.7 1142.9,681.7 1143.3,681.7 1143.7,681.7 1144.1,681.7 1144.5,681.7 1144.9,681.8 1145.3,681.8 1145.7,681.8 1146.1,681.8 1146.5,681.8 1146.8,681.8 1147.2,681.8 1147.6,681.9 1148.0,681.9 1148.4,681.9 1148.8,681.9 1149.2,681.9 1149.6,681.9 1150.0,681.9 1150.4,681.9 1150.8,681.9 1151.2,682.0 1151.5,682.0 1151.9,682.0 1152.3,682.0 1152.7,682.0 1153.1,682.0 1153.5,682.0 1153.9,682.0 1154.3,682.1 1154.7,682.1 1155.1,682.1 1155.5,682.1 1155.8,682.1 1156.2,682.1 1156.6,682.1 1157.0,682.1 1157.4,682.1 1157.8,682.1 1158.2,682.2 1158.6,682.2 1159.0,682.2 1159.4,682.2 1159.8,682.2 1160.2,682.2 1160.5,682.2 1160.9,682.2 1161.3,682.2 1161.7,682.2 1162.1,682.3 1162.5,682.3 1162.9,682.3 1163.3,682.3 1163.7,682.3 1164.1,682.3 1164.5,682.3 1164.9,682.3 1165.2,682.3 1165.6,682.3 1166.0,682.3 1166.4,682.3 1166.8,682.4 1167.2,682.4 1167.6,682.4 1168.0,682.4 1168.4,682.4 1168.8,682.4 1169.2,682.4 1169.6,682.4 1169.9,682.4 1170.3,682.4 1170.7,682.4 1171.1,682.4 1171.5,682.4 1171.9,682.5 1172.3,682.5 1172.7,682.5 1173.1,682.5 1173.5,682.5 1173.9,682.5 1174.2,682.5 1174.6,682.5 1175.0,682.5 1175.4,682.5 1175.8,682.5 1176.2,682.5 1176.6,682.5 1177.0,682.5 1177.4,682.6 1177.8,682.6 1178.2,682.6 1178.6,682.6 1178.9,682.6 1179.3,682.6 1179.7,682.6 1180.1,682.6 1180.5,682.6 1180.9,682.6 1181.3,682.6 1181.7,682.6 1182.1,682.6 1182.5,682.6 1182.9,682.6 1183.3,682.7 1183.6,682.7 1184.0,682.7 1184.4,682.7 1184.8,682.7 1185.2,682.7 1185.6,682.7 1186.0,682.7 1186.4,682.7 1186.8,682.7 1187.2,682.7 1187.6,682.7 1188.0,682.7 1188.3,682.7 1188.7,682.7 1189.1,682.7 1189.5,682.7 1189.9,682.7 1190.3,682.8 1190.7,682.8 1191.1,682.8 1191.5,682.8 1191.9,682.8 1192.3,682.8 1192.7,682.8 1193.0,682.8 1193.4,682.8 1193.8,682.8 1194.2,682.8 1194.6,682.8 1195.0,682.8 1195.4,682.8 1195.8,682.8 1196.2,682.8 1196.6,682.8 1197.0,682.8 1197.3,682.8 1197.7,682.8 1198.1,682.9 1198.5,682.9 1198.9,682.9 1199.3,682.9 1199.7,682.9 1200.1,682.9 1200.5,682.9 1200.9,682.9 1201.3,682.9 1201.7,682.9 1202.0,682.9 1202.4,682.9 1202.8,682.9 1203.2,682.9 1203.6,682.9 1204.0,682.9 1204.4,682.9 1204.8,682.9 1205.2,682.9 1205.6,682.9 1206.0,682.9 1206.4,682.9 1206.7,682.9 1207.1,682.9 1207.5,683.0 1207.9,683.0 1208.3,683.0 1208.7,683.0 1209.1,683.0 1209.5,683.0 1209.9,683.0 1210.3,683.0 1210.7,683.0 1211.1,683.0 1211.4,683.0 1211.8,683.0 1212.2,683.0 1212.6,683.0 1213.0,683.0 1213.4,683.0 1213.8,683.0 1214.2,683.0 1214.6,683.0 1215.0,683.0 1215.4,683.0 1215.7,683.0 1216.1,683.0 1216.5,683.0 1216.9,683.0 1217.3,683.0 1217.7,683.0 1218.1,683.0 1218.5,683.1 1218.9,683.1 1219.3,683.1 1219.7,683.1 1220.1,683.1 1220.4,683.1 1220.8,683.1 1221.2,683.1 1221.6,683.1 1222.0,683.1 1222.4,683.1 1222.8,683.1 1223.2,683.1 1223.6,683.1 1224.0,683.1 1224.4,683.1 1224.8,683.1 1225.1,683.1 1225.5,683.1 1225.9,683.1 1226.3,683.1 1226.7,683.1 1227.1,683.1 1227.5,683.1 1227.9,683.1 1228.3,683.1 1228.7,683.1 1229.1,683.1 1229.5,683.1 1229.8,683.1 1230.2,683.1 1230.6,683.1 1231.0,683.1 1231.4,683.2 1231.8,683.2 1232.2,683.2 1232.6,683.2 1233.0,683.2 1233.4,683.2 1233.8,683.2 1234.1,683.2 1234.5,683.2 1234.9,683.2 1235.3,683.2 1235.7,683.2 1236.1,683.2 1236.5,683.2 1236.9,683.2 1237.3,683.2 1237.7,683.2 1238.1,683.2 1238.5,683.2 1238.8,683.2 1239.2,683.2 1239.6,683.2 1240.0,683.2 1240.4,683.2 1240.8,683.2 1241.2,683.2 1241.6,683.2 1242.0,683.2 1242.4,683.2 1242.8,683.2 1243.2,683.2 1243.5,683.2 1243.9,683.2 1244.3,683.2 1244.7,683.2 1245.1,683.2 1245.5,683.2 1245.9,683.2 1246.3,683.2 1246.7,683.2 1247.1,683.2 1247.5,683.3 1247.9,683.3 1248.2,683.3 1248.6,683.3 1249.0,683.3 1249.4,683.3 1249.8,683.3 1250.2,683.3 1250.6,683.3 1251.0,683.3 1251.4,683.3 1251.8,683.3 1252.2,683.3 1252.6,683.3 1252.9,683.3 1253.3,683.3 1253.7,683.3 1254.1,683.3 1254.5,683.3 1254.9,683.3 1255.3,683.3 1255.7,683.3 1256.1,683.3 1256.5,683.3 1256.9,683.3 1257.2,683.3 1257.6,683.3 1258.0,683.3 1258.4,683.3 1258.8,683.3 1259.2,683.3 1259.6,683.3 1260.0,683.3 1260.4,683.3 1260.8,683.3 1261.2,683.3 1261.6,683.3 1261.9,683.3 1262.3,683.3 1262.7,683.3 1263.1,683.3 1263.5,683.3 1263.9,683.3 1264.3,683.3 1264.7,683.3 1265.1,683.3 1265.5,683.3 1265.9,683.3 1266.3,683.3 1266.6,683.3 1267.0,683.3 1267.4,683.4 1267.8,683.4 1268.2,683.4 1268.6,683.4 1269.0,683.4 1269.4,683.4 1269.8,683.4 1270.2,683.4 1270.6,683.4 1271.0,683.4 1271.3,683.4 1271.7,683.4 1272.1,683.4 1272.5,683.4 1272.9,683.4 1273.3,683.4 1273.7,683.4 1274.1,683.4 1274.5,683.4 1274.9,683.4 1275.3,683.4 1275.6,683.4 1276.0,683.4 1276.4,683.4 1276.8,683.4 1277.2,683.4 1277.6,683.4 1278.0,683.4 1278.4,683.4 1278.8,683.4 1279.2,683.4 1279.6,683.4 1280.0,683.4 1280.3,683.4 1280.7,683.4 1281.1,683.4 1281.5,683.4 1281.9,683.4 1282.3,683.4 1282.7,683.4 1283.1,683.4 1283.5,683.4 1283.9,683.4 1284.3,683.4 1284.7,683.4 1285.0,683.4 1285.4,683.4 1285.8,683.4 1286.2,683.4 1286.6,683.4 1287.0,683.4 1287.4,683.4 1287.8,683.4 1288.2,683.4 1288.6,683.4 1289.0,683.4 1289.4,683.4 1289.7,683.4 1290.1,683.4 1290.5,683.4 1290.9,683.4 1291.3,683.4 1291.7,683.4"/>
<rect x="195.5" y="388.0" width="1096.2" height="299.8" fill="none" stroke="#2b2b2b" stroke-width="4"/>
<path d="M195.5,687.8h20.5M195.5,657.8h10.3M195.5,627.8h20.5M195.5,597.9h10.3M195.5,567.9h20.5M195.5,537.9h10.3M195.5,507.9h20.5M195.5,477.9h10.3M195.5,448.0h20.5M195.5,418.0h10.3M195.5,388.0h20.5" stroke="#1e1e1e" stroke-width="3.5" fill="none"/>
<text x="172.3" y="700.3" text-anchor="end" font-size="46.5" font-weight="bold">0.0</text>
<text x="172.3" y="640.3" text-anchor="end" font-size="46.5" font-weight="bold">0.2</text>
<text x="172.3" y="580.4" text-anchor="end" font-size="46.5" font-weight="bold">0.4</text>
<text x="172.3" y="520.4" text-anchor="end" font-size="46.5" font-weight="bold">0.6</text>
<text x="172.3" y="460.5" text-anchor="end" font-size="46.5" font-weight="bold">0.8</text>
<text x="172.3" y="400.5" text-anchor="end" font-size="46.5" font-weight="bold">1.0</text>
<line x1="533" y1="426.4" x2="657" y2="426.4" stroke="#80B85A" stroke-width="6" stroke-linecap="round"/>
<text transform="translate(672.3,445.4) scale(0.9900,1)" font-size="56.5" fill="#8DBA6A">R=0.109 μm</text>
<clipPath id="ca2"><rect x="195.5" y="731.6" width="1096.2" height="299.69999999999993"/></clipPath>
<polyline clip-path="url(#ca2)" fill="none" stroke="#3C3F86" stroke-width="7" stroke-linejoin="round" points="195.5,1000.9 195.9,1000.9 196.3,1000.9 196.7,1000.9 197.1,1000.9 197.5,1001.0 197.8,1001.0 198.2,1001.0 198.6,1001.0 199.0,1001.0 199.4,1001.0 199.8,1001.0 200.2,1001.0 200.6,1001.0 201.0,1001.0 201.4,1001.0 201.8,1001.0 202.2,1001.0 202.5,1001.0 202.9,1001.0 203.3,1001.0 203.7,1001.0 204.1,1001.0 204.5,1000.9 204.9,1000.9 205.3,1000.9 205.7,1000.9 206.1,1000.8 206.5,1000.8 206.9,1000.8 207.2,1000.7 207.6,1000.7 208.0,1000.6 208.4,1000.6 208.8,1000.5 209.2,1000.5 209.6,1000.4 210.0,1000.4 210.4,1000.3 210.8,1000.2 211.2,1000.2 211.6,1000.1 211.9,1000.0 212.3,999.9 212.7,999.8 213.1,999.7 213.5,999.6 213.9,999.5 214.3,999.4 214.7,999.3 215.1,999.2 215.5,999.1 215.9,998.9 216.2,998.8 216.6,998.7 217.0,998.5 217.4,998.4 217.8,998.2 218.2,998.0 218.6,997.9 219.0,997.7 219.4,997.5 219.8,997.3 220.2,997.1 220.6,996.8 220.9,996.6 221.3,996.4 221.7,996.1 222.1,995.9 222.5,995.6 222.9,995.3 223.3,995.0 223.7,994.7 224.1,994.4 224.5,994.1 224.9,993.7 225.3,993.3 225.6,993.0 226.0,992.6 226.4,992.1 226.8,991.7 227.2,991.2 227.6,990.8 228.0,990.3 228.4,989.8 228.8,989.2 229.2,988.6 229.6,988.0 230.0,987.4 230.3,986.8 230.7,986.1 231.1,985.4 231.5,984.6 231.9,983.8 232.3,983.0 232.7,982.1 233.1,981.2 233.5,980.2 233.9,979.2 234.3,978.1 234.6,977.0 235.0,975.8 235.4,974.6 235.8,973.3 236.2,971.9 236.6,970.4 237.0,968.9 237.4,967.2 237.8,965.5 238.2,963.7 238.6,961.7 239.0,959.7 239.3,957.5 239.7,955.2 240.1,952.8 240.5,950.2 240.9,947.4 241.3,944.5 241.7,941.4 242.1,938.0 242.5,934.5 242.9,930.8 243.3,926.8 243.7,922.5 244.0,918.0 244.4,913.1 244.8,908.0 245.2,902.5 245.6,896.7 246.0,890.6 246.4,884.0 246.8,877.1 247.2,869.8 247.6,862.1 248.0,854.0 248.4,845.6 248.7,836.8 249.1,827.7 249.5,818.4 249.9,808.9 250.3,799.4 250.7,789.9 251.1,780.6 251.5,771.6 251.9,763.1 252.3,755.4 252.7,748.5 253.1,742.7 253.4,738.2 253.8,735.0 254.2,733.4 254.6,733.2 255.0,734.6 255.4,737.6 255.8,741.9 256.2,747.5 256.6,754.2 257.0,761.8 257.4,770.2 257.7,779.1 258.1,788.4 258.5,797.9 258.9,807.5 259.3,817.0 259.7,826.4 260.1,835.6 260.5,844.5 260.9,853.0 261.3,861.2 261.7,869.0 262.1,876.4 262.4,883.4 262.8,890.1 263.2,896.4 263.6,902.3 264.0,907.8 264.4,913.0 264.8,917.9 265.2,922.6 265.6,926.9 266.0,930.9 266.4,934.8 266.8,938.3 267.1,941.7 267.5,944.9 267.9,947.8 268.3,950.6 268.7,953.2 269.1,955.7 269.5,958.0 269.9,960.2 270.3,962.2 270.7,964.1 271.1,965.9 271.5,967.6 271.8,969.2 272.2,970.7 272.6,972.1 273.0,973.5 273.4,974.7 273.8,975.9 274.2,976.9 274.6,977.9 275.0,978.9 275.4,979.8 275.8,980.6 276.1,981.3 276.5,982.0 276.9,982.6 277.3,983.1 277.7,983.6 278.1,984.0 278.5,984.4 278.9,984.6 279.3,984.8 279.7,985.0 280.1,985.0 280.5,985.0 280.8,984.9 281.2,984.7 281.6,984.4 282.0,984.0 282.4,983.4 282.8,982.8 283.2,981.9 283.6,980.9 284.0,979.8 284.4,978.4 284.8,976.8 285.2,974.9 285.5,972.7 285.9,970.1 286.3,967.2 286.7,963.9 287.1,960.1 287.5,955.9 287.9,951.2 288.3,946.1 288.7,940.6 289.1,934.9 289.5,929.3 289.9,924.1 290.2,919.6 290.6,916.3 291.0,914.6 291.4,914.7 291.8,916.5 292.2,920.0 292.6,924.8 293.0,930.4 293.4,936.5 293.8,942.7 294.2,948.7 294.5,954.4 294.9,959.8 295.3,964.6 295.7,969.0 296.1,972.9 296.5,976.5 296.9,979.6 297.3,982.4 297.7,985.0 298.1,987.2 298.5,989.3 298.9,991.1 299.2,992.7 299.6,994.2 300.0,995.5 300.4,996.8 300.8,997.9 301.2,998.9 301.6,999.8 302.0,1000.7 302.4,1001.5 302.8,1002.2 303.2,1002.9 303.6,1003.5 303.9,1004.1 304.3,1004.7 304.7,1005.2 305.1,1005.6 305.5,1006.1 305.9,1006.5 306.3,1006.9 306.7,1007.3 307.1,1007.6 307.5,1008.0 307.9,1008.3 308.3,1008.6 308.6,1008.9 309.0,1009.1 309.4,1009.4 309.8,1009.6 310.2,1009.9 310.6,1010.1 311.0,1010.3 311.4,1010.5 311.8,1010.7 312.2,1010.9 312.6,1011.1 312.9,1011.3 313.3,1011.4 313.7,1011.6 314.1,1011.8 314.5,1011.9 314.9,1012.0 315.3,1012.2 315.7,1012.3 316.1,1012.4 316.5,1012.6 316.9,1012.7 317.3,1012.8 317.6,1012.9 318.0,1013.0 318.4,1013.1 318.8,1013.2 319.2,1013.3 319.6,1013.4 320.0,1013.5 320.4,1013.6 320.8,1013.7 321.2,1013.8 321.6,1013.9 322.0,1013.9 322.3,1014.0 322.7,1014.1 323.1,1014.2 323.5,1014.2 323.9,1014.3 324.3,1014.4 324.7,1014.4 325.1,1014.5 325.5,1014.6 325.9,1014.6 326.3,1014.7 326.7,1014.7 327.0,1014.8 327.4,1014.8 327.8,1014.9 328.2,1014.9 328.6,1015.0 329.0,1015.0 329.4,1015.1 329.8,1015.1 330.2,1015.1 330.6,1015.2 331.0,1015.2 331.4,1015.2 331.7,1015.3 332.1,1015.3 332.5,1015.3 332.9,1015.4 333.3,1015.4 333.7,1015.4 334.1,1015.5 334.5,1015.5 334.9,1015.5 335.3,1015.5 335.7,1015.5 336.0,1015.6 336.4,1015.6 336.8,1015.6 337.2,1015.6 337.6,1015.6 338.0,1015.6 338.4,1015.6 338.8,1015.7 339.2,1015.7 339.6,1015.7 340.0,1015.7 340.4,1015.7 340.7,1015.7 341.1,1015.7 341.5,1015.7 341.9,1015.7 342.3,1015.7 342.7,1015.7 343.1,1015.7 343.5,1015.7 343.9,1015.6 344.3,1015.6 344.7,1015.6 345.1,1015.6 345.4,1015.6 345.8,1015.6 346.2,1015.6 346.6,1015.5 347.0,1015.5 347.4,1015.5 347.8,1015.5 348.2,1015.4 348.6,1015.4 349.0,1015.4 349.4,1015.4 349.8,1015.3 350.1,1015.3 350.5,1015.3 350.9,1015.2 351.3,1015.2 351.7,1015.1 352.1,1015.1 352.5,1015.0 352.9,1015.0 353.3,1014.9 353.7,1014.9 354.1,1014.8 354.4,1014.8 354.8,1014.7 355.2,1014.6 355.6,1014.6 356.0,1014.5 356.4,1014.4 356.8,1014.4 357.2,1014.3 357.6,1014.2 358.0,1014.1 358.4,1014.0 358.8,1014.0 359.1,1013.9 359.5,1013.8 359.9,1013.7 360.3,1013.6 360.7,1013.5 361.1,1013.3 361.5,1013.2 361.9,1013.1 362.3,1013.0 362.7,1012.9 363.1,1012.7 363.5,1012.6 363.8,1012.4 364.2,1012.3 364.6,1012.1 365.0,1012.0 365.4,1011.8 365.8,1011.6 366.2,1011.5 366.6,1011.3 367.0,1011.1 367.4,1010.9 367.8,1010.7 368.2,1010.5 368.5,1010.3 368.9,1010.0 369.3,1009.8 369.7,1009.5 370.1,1009.3 370.5,1009.0 370.9,1008.7 371.3,1008.4 371.7,1008.1 372.1,1007.8 372.5,1007.5 372.8,1007.1 373.2,1006.8 373.6,1006.4 374.0,1006.0 374.4,1005.6 374.8,1005.1 375.2,1004.7 375.6,1004.2 376.0,1003.7 376.4,1003.2 376.8,1002.6 377.2,1002.0 377.5,1001.4 377.9,1000.7 378.3,1000.1 378.7,999.3 379.1,998.5 379.5,997.7 379.9,996.8 380.3,995.9 380.7,994.9 381.1,993.8 381.5,992.6 381.9,991.4 382.2,990.0 382.6,988.6 383.0,987.0 383.4,985.3 383.8,983.4 384.2,981.3 384.6,979.1 385.0,976.6 385.4,973.9 385.8,970.9 386.2,967.6 386.6,964.0 386.9,960.1 387.3,955.9 387.7,951.4 388.1,946.6 388.5,941.8 388.9,937.1 389.3,932.7 389.7,928.8 390.1,925.6 390.5,923.4 390.9,922.2 391.2,921.9 391.6,922.3 392.0,923.2 392.4,924.4 392.8,925.6 393.2,926.6 393.6,927.3 394.0,927.7 394.4,927.5 394.8,927.0 395.2,926.0 395.6,924.5 395.9,922.5 396.3,920.1 396.7,917.3 397.1,914.0 397.5,910.3 397.9,906.2 398.3,901.6 398.7,896.6 399.1,891.1 399.5,885.2 399.9,878.9 400.3,872.0 400.6,864.8 401.0,857.0 401.4,848.9 401.8,840.4 402.2,831.5 402.6,822.3 403.0,812.9 403.4,803.4 403.8,793.8 404.2,784.3 404.6,775.1 405.0,766.4 405.3,758.3 405.7,751.0 406.1,744.7 406.5,739.7 406.9,736.0 407.3,733.8 407.7,733.1 408.1,734.0 408.5,736.5 408.9,740.5 409.3,745.8 409.7,752.3 410.0,759.9 410.4,768.3 410.8,777.3 411.2,786.8 411.6,796.6 412.0,806.5 412.4,816.4 412.8,826.2 413.2,835.8 413.6,845.1 414.0,854.1 414.3,862.7 414.7,870.9 415.1,878.8 415.5,886.2 415.9,893.2 416.3,899.9 416.7,906.1 417.1,912.1 417.5,917.6 417.9,922.8 418.3,927.8 418.7,932.4 419.0,936.7 419.4,940.8 419.8,944.7 420.2,948.3 420.6,951.7 421.0,954.9 421.4,957.9 421.8,960.8 422.2,963.4 422.6,966.0 423.0,968.4 423.4,970.6 423.7,972.7 424.1,974.8 424.5,976.7 424.9,978.5 425.3,980.2 425.7,981.8 426.1,983.4 426.5,984.8 426.9,986.2 427.3,987.6 427.7,988.8 428.1,990.0 428.4,991.2 428.8,992.3 429.2,993.3 429.6,994.3 430.0,995.3 430.4,996.2 430.8,997.0 431.2,997.9 431.6,998.7 432.0,999.4 432.4,1000.2 432.7,1000.9 433.1,1001.5 433.5,1002.2 433.9,1002.8 434.3,1003.4 434.7,1004.0 435.1,1004.5 435.5,1005.1 435.9,1005.6 436.3,1006.1 436.7,1006.6 437.1,1007.0 437.4,1007.5 437.8,1007.9 438.2,1008.3 438.6,1008.7 439.0,1009.1 439.4,1009.5 439.8,1009.8 440.2,1010.2 440.6,1010.5 441.0,1010.8 441.4,1011.2 441.8,1011.5 442.1,1011.8 442.5,1012.1 442.9,1012.3 443.3,1012.6 443.7,1012.9 444.1,1013.1 444.5,1013.4 444.9,1013.6 445.3,1013.8 445.7,1014.1 446.1,1014.3 446.5,1014.5 446.8,1014.7 447.2,1014.9 447.6,1015.1 448.0,1015.3 448.4,1015.5 448.8,1015.7 449.2,1015.9 449.6,1016.0 450.0,1016.2 450.4,1016.4 450.8,1016.5 451.1,1016.7 451.5,1016.8 451.9,1017.0 452.3,1017.1 452.7,1017.3 453.1,1017.4 453.5,1017.6 453.9,1017.7 454.3,1017.8 454.7,1017.9 455.1,1018.1 455.5,1018.2 455.8,1018.3 456.2,1018.4 456.6,1018.5 457.0,1018.6 457.4,1018.8 457.8,1018.9 458.2,1019.0 458.6,1019.1 459.0,1019.2 459.4,1019.3 459.8,1019.4 460.2,1019.5 460.5,1019.5 460.9,1019.6 461.3,1019.7 461.7,1019.8 462.1,1019.9 462.5,1020.0 462.9,1020.1 463.3,1020.1 463.7,1020.2 464.1,1020.3 464.5,1020.4 464.9,1020.4 465.2,1020.5 465.6,1020.6 466.0,1020.7 466.4,1020.7 466.8,1020.8 467.2,1020.9 467.6,1020.9 468.0,1021.0 468.4,1021.1 468.8,1021.1 469.2,1021.2 469.6,1021.2 469.9,1021.3 470.3,1021.4 470.7,1021.4 471.1,1021.5 471.5,1021.5 471.9,1021.6 472.3,1021.6 472.7,1021.7 473.1,1021.7 473.5,1021.8 473.9,1021.8 474.2,1021.9 474.6,1021.9 475.0,1022.0 475.4,1022.0 475.8,1022.1 476.2,1022.1 476.6,1022.2 477.0,1022.2 477.4,1022.3 477.8,1022.3 478.2,1022.3 478.6,1022.4 478.9,1022.4 479.3,1022.5 479.7,1022.5 480.1,1022.5 480.5,1022.6 480.9,1022.6 481.3,1022.7 481.7,1022.7 482.1,1022.7 482.5,1022.8 482.9,1022.8 483.3,1022.8 483.6,1022.9 484.0,1022.9 484.4,1022.9 484.8,1023.0 485.2,1023.0 485.6,1023.0 486.0,1023.1 486.4,1023.1 486.8,1023.1 487.2,1023.2 487.6,1023.2 488.0,1023.2 488.3,1023.3 488.7,1023.3 489.1,1023.3 489.5,1023.3 489.9,1023.4 490.3,1023.4 490.7,1023.4 491.1,1023.5 491.5,1023.5 491.9,1023.5 492.3,1023.5 492.6,1023.6 493.0,1023.6 493.4,1023.6 493.8,1023.6 494.2,1023.7 494.6,1023.7 495.0,1023.7 495.4,1023.7 495.8,1023.8 496.2,1023.8 496.6,1023.8 497.0,1023.8 497.3,1023.9 497.7,1023.9 498.1,1023.9 498.5,1023.9 498.9,1023.9 499.3,1024.0 499.7,1024.0 500.1,1024.0 500.5,1024.0 500.9,1024.1 501.3,1024.1 501.7,1024.1 502.0,1024.1 502.4,1024.1 502.8,1024.2 503.2,1024.2 503.6,1024.2 504.0,1024.2 504.4,1024.2 504.8,1024.3 505.2,1024.3 505.6,1024.3 506.0,1024.3 506.4,1024.3 506.7,1024.3 507.1,1024.4 507.5,1024.4 507.9,1024.4 508.3,1024.4 508.7,1024.4 509.1,1024.4 509.5,1024.5 509.9,1024.5 510.3,1024.5 510.7,1024.5 511.0,1024.5 511.4,1024.5 511.8,1024.6 512.2,1024.6 512.6,1024.6 513.0,1024.6 513.4,1024.6 513.8,1024.6 514.2,1024.6 514.6,1024.7 515.0,1024.7 515.4,1024.7 515.7,1024.7 516.1,1024.7 516.5,1024.7 516.9,1024.8 517.3,1024.8 517.7,1024.8 518.1,1024.8 518.5,1024.8 518.9,1024.8 519.3,1024.8 519.7,1024.8 520.1,1024.9 520.4,1024.9 520.8,1024.9 521.2,1024.9 521.6,1024.9 522.0,1024.9 522.4,1024.9 522.8,1024.9 523.2,1025.0 523.6,1025.0 524.0,1025.0 524.4,1025.0 524.8,1025.0 525.1,1025.0 525.5,1025.0 525.9,1025.0 526.3,1025.1 526.7,1025.1 527.1,1025.1 527.5,1025.1 527.9,1025.1 528.3,1025.1 528.7,1025.1 529.1,1025.1 529.4,1025.1 529.8,1025.2 530.2,1025.2 530.6,1025.2 531.0,1025.2 531.4,1025.2 531.8,1025.2 532.2,1025.2 532.6,1025.2 533.0,1025.2 533.4,1025.2 533.8,1025.3 534.1,1025.3 534.5,1025.3 534.9,1025.3 535.3,1025.3 535.7,1025.3 536.1,1025.3 536.5,1025.3 536.9,1025.3 537.3,1025.3 537.7,1025.4 538.1,1025.4 538.5,1025.4 538.8,1025.4 539.2,1025.4 539.6,1025.4 540.0,1025.4 540.4,1025.4 540.8,1025.4 541.2,1025.4 541.6,1025.4 542.0,1025.4 542.4,1025.5 542.8,1025.5 543.2,1025.5 543.5,1025.5 543.9,1025.5 544.3,1025.5 544.7,1025.5 545.1,1025.5 545.5,1025.5 545.9,1025.5 546.3,1025.5 546.7,1025.5 547.1,1025.6 547.5,1025.6 547.9,1025.6 548.2,1025.6 548.6,1025.6 549.0,1025.6 549.4,1025.6 549.8,1025.6 550.2,1025.6 550.6,1025.6 551.0,1025.6 551.4,1025.6 551.8,1025.6 552.2,1025.6 552.5,1025.7 552.9,1025.7 553.3,1025.7 553.7,1025.7 554.1,1025.7 554.5,1025.7 554.9,1025.7 555.3,1025.7 555.7,1025.7 556.1,1025.7 556.5,1025.7 556.9,1025.7 557.2,1025.7 557.6,1025.7 558.0,1025.8 558.4,1025.8 558.8,1025.8 559.2,1025.8 559.6,1025.8 560.0,1025.8 560.4,1025.8 560.8,1025.8 561.2,1025.8 561.6,1025.8 561.9,1025.8 562.3,1025.8 562.7,1025.8 563.1,1025.8 563.5,1025.8 563.9,1025.8 564.3,1025.8 564.7,1025.9 565.1,1025.9 565.5,1025.9 565.9,1025.9 566.3,1025.9 566.6,1025.9 567.0,1025.9 567.4,1025.9 567.8,1025.9 568.2,1025.9 568.6,1025.9 569.0,1025.9 569.4,1025.9 569.8,1025.9 570.2,1025.9 570.6,1025.9 570.9,1025.9 571.3,1025.9 571.7,1026.0 572.1,1026.0 572.5,1026.0 572.9,1026.0 573.3,1026.0 573.7,1026.0 574.1,1026.0 574.5,1026.0 574.9,1026.0 575.3,1026.0 575.6,1026.0 576.0,1026.0 576.4,1026.0 576.8,1026.0 577.2,1026.0 577.6,1026.0 578.0,1026.0 578.4,1026.0 578.8,1026.0 579.2,1026.0 579.6,1026.1 580.0,1026.1 580.3,1026.1 580.7,1026.1 581.1,1026.1 581.5,1026.1 581.9,1026.1 582.3,1026.1 582.7,1026.1 583.1,1026.1 583.5,1026.1 583.9,1026.1 584.3,1026.1 584.7,1026.1 585.0,1026.1 585.4,1026.1 585.8,1026.1 586.2,1026.1 586.6,1026.1 587.0,1026.1 587.4,1026.1 587.8,1026.1 588.2,1026.1 588.6,1026.2 589.0,1026.2 589.3,1026.2 589.7,1026.2 590.1,1026.2 590.5,1026.2 590.9,1026.2 591.3,1026.2 591.7,1026.2 592.1,1026.2 592.5,1026.2 592.9,1026.2 593.3,1026.2 593.7,1026.2 594.0,1026.2 594.4,1026.2 594.8,1026.2 595.2,1026.2 595.6,1026.2 596.0,1026.2 596.4,1026.2 596.8,1026.2 597.2,1026.2 597.6,1026.2 598.0,1026.2 598.4,1026.2 598.7,1026.3 599.1,1026.3 599.5,1026.3 599.9,1026.3 600.3,1026.3 600.7,1026.3 601.1,1026.3 601.5,1026.3 601.9,1026.3 602.3,1026.3 602.7,1026.3 603.1,1026.3 603.4,1026.3 603.8,1026.3 604.2,1026.3 604.6,1026.3 605.0,1026.3 605.4,1026.3 605.8,1026.3 606.2,1026.3 606.6,1026.3 607.0,1026.3 607.4,1026.3 607.7,1026.3 608.1,1026.3 608.5,1026.3 608.9,1026.3 609.3,1026.3 609.7,1026.3 610.1,1026.3 610.5,1026.3 610.9,1026.4 611.3,1026.4 611.7,1026.4 612.1,1026.4 612.4,1026.4 612.8,1026.4 613.2,1026.4 613.6,1026.4 614.0,1026.4 614.4,1026.4 614.8,1026.4 615.2,1026.4 615.6,1026.4 616.0,1026.4 616.4,1026.4 616.8,1026.4 617.1,1026.4 617.5,1026.4 617.9,1026.4 618.3,1026.4 618.7,1026.4 619.1,1026.4 619.5,1026.4 619.9,1026.4 620.3,1026.4 620.7,1026.4 621.1,1026.4 621.5,1026.4 621.8,1026.4 622.2,1026.4 622.6,1026.4 623.0,1026.4 623.4,1026.4 623.8,1026.4 624.2,1026.4 624.6,1026.4 625.0,1026.4 625.4,1026.5 625.8,1026.5 626.2,1026.5 626.5,1026.5 626.9,1026.5 627.3,1026.5 627.7,1026.5 628.1,1026.5 628.5,1026.5 628.9,1026.5 629.3,1026.5 629.7,1026.5 630.1,1026.5 630.5,1026.5 630.8,1026.5 631.2,1026.5 631.6,1026.5 632.0,1026.5 632.4,1026.5 632.8,1026.5 633.2,1026.5 633.6,1026.5 634.0,1026.5 634.4,1026.5 634.8,1026.5 635.2,1026.5 635.5,1026.5 635.9,1026.5 636.3,1026.5 636.7,1026.5 637.1,1026.5 637.5,1026.5 637.9,1026.5 638.3,1026.5 638.7,1026.5 639.1,1026.5 639.5,1026.5 639.9,1026.5 640.2,1026.5 640.6,1026.5 641.0,1026.5 641.4,1026.5 641.8,1026.5 642.2,1026.5 642.6,1026.5 643.0,1026.5 643.4,1026.6 643.8,1026.6 644.2,1026.6 644.6,1026.6 644.9,1026.6 645.3,1026.6 645.7,1026.6 646.1,1026.6 646.5,1026.6 646.9,1026.6 647.3,1026.6 647.7,1026.6 648.1,1026.6 648.5,1026.6 648.9,1026.6 649.2,1026.6 649.6,1026.6 650.0,1026.6 650.4,1026.6 650.8,1026.6 651.2,1026.6 651.6,1026.6 652.0,1026.6 652.4,1026.6 652.8,1026.6 653.2,1026.6 653.6,1026.6 653.9,1026.6 654.3,1026.6 654.7,1026.6 655.1,1026.6 655.5,1026.6 655.9,1026.6 656.3,1026.6 656.7,1026.6 657.1,1026.6 657.5,1026.6 657.9,1026.6 658.3,1026.6 658.6,1026.6 659.0,1026.6 659.4,1026.6 659.8,1026.6 660.2,1026.6 660.6,1026.6 661.0,1026.6 661.4,1026.6 661.8,1026.6 662.2,1026.6 662.6,1026.6 663.0,1026.6 663.3,1026.6 663.7,1026.6 664.1,1026.6 664.5,1026.6 664.9,1026.6 665.3,1026.6 665.7,1026.6 666.1,1026.6 666.5,1026.6 666.9,1026.6 667.3,1026.6 667.6,1026.7 668.0,1026.7 668.4,1026.7 668.8,1026.7 669.2,1026.7 669.6,1026.7 670.0,1026.7 670.4,1026.7 670.8,1026.7 671.2,1026.7 671.6,1026.7 672.0,1026.7 672.3,1026.7 672.7,1026.7 673.1,1026.7 673.5,1026.7 673.9,1026.7 674.3,1026.7 674.7,1026.7 675.1,1026.7 675.5,1026.7 675.9,1026.7 676.3,1026.7 676.7,1026.7 677.0,1026.7 677.4,1026.7 677.8,1026.7 678.2,1026.7 678.6,1026.7 679.0,1026.7 679.4,1026.7 679.8,1026.7 680.2,1026.7 680.6,1026.7 681.0,1026.7 681.4,1026.7 681.7,1026.7 682.1,1026.7 682.5,1026.7 682.9,1026.7 683.3,1026.7 683.7,1026.7 684.1,1026.7 684.5,1026.7 684.9,1026.7 685.3,1026.7 685.7,1026.7 686.0,1026.7 686.4,1026.7 686.8,1026.7 687.2,1026.7 687.6,1026.7 688.0,1026.7 688.4,1026.7 688.8,1026.7 689.2,1026.7 689.6,1026.7 690.0,1026.7 690.4,1026.7 690.7,1026.7 691.1,1026.7 691.5,1026.7 691.9,1026.7 692.3,1026.7 692.7,1026.7 693.1,1026.7 693.5,1026.7 693.9,1026.7 694.3,1026.7 694.7,1026.7 695.1,1026.7 695.4,1026.7 695.8,1026.7 696.2,1026.7 696.6,1026.7 697.0,1026.7 697.4,1026.7 697.8,1026.7 698.2,1026.7 698.6,1026.7 699.0,1026.7 699.4,1026.7 699.8,1026.7 700.1,1026.7 700.5,1026.7 700.9,1026.7 701.3,1026.7 701.7,1026.7 702.1,1026.7 702.5,1026.7 702.9,1026.7 703.3,1026.7 703.7,1026.7 704.1,1026.7 704.5,1026.7 704.8,1026.7 705.2,1026.7 705.6,1026.7 706.0,1026.7 706.4,1026.7 706.8,1026.7 707.2,1026.7 707.6,1026.7 708.0,1026.7 708.4,1026.7 708.8,1026.7 709.1,1026.7 709.5,1026.8 709.9,1026.8 710.3,1026.8 710.7,1026.8 711.1,1026.8 711.5,1026.8 711.9,1026.8 712.3,1026.8 712.7,1026.8 713.1,1026.8 713.5,1026.8 713.8,1026.8 714.2,1026.8 714.6,1026.8 715.0,1026.8 715.4,1026.8 715.8,1026.8 716.2,1026.8 716.6,1026.8 717.0,1026.8 717.4,1026.8 717.8,1026.8 718.2,1026.8 718.5,1026.8 718.9,1026.8 719.3,1026.8 719.7,1026.8 720.1,1026.8 720.5,1026.8 720.9,1026.8 721.3,1026.8 721.7,1026.8 722.1,1026.8 722.5,1026.8 722.9,1026.8 723.2,1026.8 723.6,1026.8 724.0,1026.8 724.4,1026.8 724.8,1026.8 725.2,1026.8 725.6,1026.8 726.0,1026.8 726.4,1026.8 726.8,1026.8 727.2,1026.8 727.5,1026.8 727.9,1026.8 728.3,1026.8 728.7,1026.8 729.1,1026.8 729.5,1026.8 729.9,1026.8 730.3,1026.8 730.7,1026.8 731.1,1026.8 731.5,1026.8 731.9,1026.8 732.2,1026.8 732.6,1026.8 733.0,1026.8 733.4,1026.8 733.8,1026.8 734.2,1026.8 734.6,1026.8 735.0,1026.8 735.4,1026.8 735.8,1026.8 736.2,1026.8 736.6,1026.8 736.9,1026.8 737.3,1026.8 737.7,1026.8 738.1,1026.8 738.5,1026.8 738.9,1026.8 739.3,1026.8 739.7,1026.8 740.1,1026.8 740.5,1026.8 740.9,1026.8 741.3,1026.8 741.6,1026.8 742.0,1026.8 742.4,1026.8 742.8,1026.8 743.2,1026.8 743.6,1026.8 744.0,1026.8 744.4,1026.8 744.8,1026.8 745.2,1026.8 745.6,1026.8 745.9,1026.8 746.3,1026.8 746.7,1026.8 747.1,1026.8 747.5,1026.8 747.9,1026.8 748.3,1026.8 748.7,1026.8 749.1,1026.8 749.5,1026.8 749.9,1026.8 750.3,1026.8 750.6,1026.8 751.0,1026.8 751.4,1026.8 751.8,1026.8 752.2,1026.8 752.6,1026.8 753.0,1026.8 753.4,1026.8 753.8,1026.8 754.2,1026.8 754.6,1026.8 755.0,1026.8 755.3,1026.8 755.7,1026.8 756.1,1026.8 756.5,1026.8 756.9,1026.8 757.3,1026.8 757.7,1026.8 758.1,1026.8 758.5,1026.8 758.9,1026.8 759.3,1026.8 759.7,1026.8 760.0,1026.8 760.4,1026.8 760.8,1026.8 761.2,1026.8 761.6,1026.8 762.0,1026.8 762.4,1026.8 762.8,1026.8 763.2,1026.8 763.6,1026.8 764.0,1026.8 764.3,1026.8 764.7,1026.8 765.1,1026.8 765.5,1026.8 765.9,1026.8 766.3,1026.8 766.7,1026.8 767.1,1026.8 767.5,1026.8 767.9,1026.8 768.3,1026.8 768.7,1026.8 769.0,1026.8 769.4,1026.8 769.8,1026.8 770.2,1026.8 770.6,1026.8 771.0,1026.8 771.4,1026.8 771.8,1026.8 772.2,1026.8 772.6,1026.8 773.0,1026.8 773.4,1026.8 773.7,1026.8 774.1,1026.8 774.5,1026.8 774.9,1026.8 775.3,1026.8 775.7,1026.8 776.1,1026.8 776.5,1026.8 776.9,1026.8 777.3,1026.8 777.7,1026.8 778.1,1026.8 778.4,1026.8 778.8,1026.8 779.2,1026.8 779.6,1026.8 780.0,1026.8 780.4,1026.8 780.8,1026.8 781.2,1026.8 781.6,1026.8 782.0,1026.8 782.4,1026.8 782.8,1026.7 783.1,1026.7 783.5,1026.7 783.9,1026.7 784.3,1026.7 784.7,1026.7 785.1,1026.7 785.5,1026.7 785.9,1026.7 786.3,1026.7 786.7,1026.7 787.1,1026.7 787.4,1026.7 787.8,1026.7 788.2,1026.7 788.6,1026.7 789.0,1026.7 789.4,1026.7 789.8,1026.7 790.2,1026.7 790.6,1026.7 791.0,1026.7 791.4,1026.7 791.8,1026.7 792.1,1026.7 792.5,1026.7 792.9,1026.7 793.3,1026.7 793.7,1026.7 794.1,1026.7 794.5,1026.7 794.9,1026.7 795.3,1026.7 795.7,1026.7 796.1,1026.7 796.5,1026.7 796.8,1026.7 797.2,1026.7 797.6,1026.7 798.0,1026.7 798.4,1026.7 798.8,1026.7 799.2,1026.7 799.6,1026.7 800.0,1026.7 800.4,1026.7 800.8,1026.7 801.2,1026.7 801.5,1026.7 801.9,1026.7 802.3,1026.7 802.7,1026.7 803.1,1026.7 803.5,1026.7 803.9,1026.7 804.3,1026.7 804.7,1026.7 805.1,1026.7 805.5,1026.7 805.8,1026.7 806.2,1026.7 806.6,1026.7 807.0,1026.7 807.4,1026.7 807.8,1026.7 808.2,1026.7 808.6,1026.7 809.0,1026.7 809.4,1026.7 809.8,1026.7 810.2,1026.7 810.5,1026.7 810.9,1026.7 811.3,1026.7 811.7,1026.7 812.1,1026.7 812.5,1026.7 812.9,1026.7 813.3,1026.7 813.7,1026.7 814.1,1026.7 814.5,1026.7 814.9,1026.7 815.2,1026.7 815.6,1026.7 816.0,1026.7 816.4,1026.7 816.8,1026.7 817.2,1026.7 817.6,1026.7 818.0,1026.7 818.4,1026.7 818.8,1026.7 819.2,1026.7 819.6,1026.7 819.9,1026.7 820.3,1026.7 820.7,1026.7 821.1,1026.6 821.5,1026.6 821.9,1026.6 822.3,1026.6 822.7,1026.6 823.1,1026.6 823.5,1026.6 823.9,1026.6 824.2,1026.6 824.6,1026.6 825.0,1026.6 825.4,1026.6 825.8,1026.6 826.2,1026.6 826.6,1026.6 827.0,1026.6 827.4,1026.6 827.8,1026.6 828.2,1026.6 828.6,1026.6 828.9,1026.6 829.3,1026.6 829.7,1026.6 830.1,1026.6 830.5,1026.6 830.9,1026.6 831.3,1026.6 831.7,1026.6 832.1,1026.6 832.5,1026.6 832.9,1026.6 833.3,1026.6 833.6,1026.6 834.0,1026.6 834.4,1026.6 834.8,1026.6 835.2,1026.6 835.6,1026.6 836.0,1026.6 836.4,1026.6 836.8,1026.6 837.2,1026.6 837.6,1026.6 838.0,1026.6 838.3,1026.6 838.7,1026.6 839.1,1026.6 839.5,1026.6 839.9,1026.6 840.3,1026.6 840.7,1026.6 841.1,1026.6 841.5,1026.6 841.9,1026.6 842.3,1026.5 842.6,1026.5 843.0,1026.5 843.4,1026.5 843.8,1026.5 844.2,1026.5 844.6,1026.5 845.0,1026.5 845.4,1026.5 845.8,1026.5 846.2,1026.5 846.6,1026.5 847.0,1026.5 847.3,1026.5 847.7,1026.5 848.1,1026.5 848.5,1026.5 848.9,1026.5 849.3,1026.5 849.7,1026.5 850.1,1026.5 850.5,1026.5 850.9,1026.5 851.3,1026.5 851.7,1026.5 852.0,1026.5 852.4,1026.5 852.8,1026.5 853.2,1026.5 853.6,1026.5 854.0,1026.5 854.4,1026.5 854.8,1026.5 855.2,1026.5 855.6,1026.5 856.0,1026.5 856.4,1026.5 856.7,1026.5 857.1,1026.5 857.5,1026.4 857.9,1026.4 858.3,1026.4 858.7,1026.4 859.1,1026.4 859.5,1026.4 859.9,1026.4 860.3,1026.4 860.7,1026.4 861.1,1026.4 861.4,1026.4 861.8,1026.4 862.2,1026.4 862.6,1026.4 863.0,1026.4 863.4,1026.4 863.8,1026.4 864.2,1026.4 864.6,1026.4 865.0,1026.4 865.4,1026.4 865.7,1026.4 866.1,1026.4 866.5,1026.4 866.9,1026.4 867.3,1026.4 867.7,1026.4 868.1,1026.4 868.5,1026.4 868.9,1026.4 869.3,1026.4 869.7,1026.3 870.1,1026.3 870.4,1026.3 870.8,1026.3 871.2,1026.3 871.6,1026.3 872.0,1026.3 872.4,1026.3 872.8,1026.3 873.2,1026.3 873.6,1026.3 874.0,1026.3 874.4,1026.3 874.8,1026.3 875.1,1026.3 875.5,1026.3 875.9,1026.3 876.3,1026.3 876.7,1026.3 877.1,1026.3 877.5,1026.3 877.9,1026.3 878.3,1026.3 878.7,1026.3 879.1,1026.2 879.5,1026.2 879.8,1026.2 880.2,1026.2 880.6,1026.2 881.0,1026.2 881.4,1026.2 881.8,1026.2 882.2,1026.2 882.6,1026.2 883.0,1026.2 883.4,1026.2 883.8,1026.2 884.1,1026.2 884.5,1026.2 884.9,1026.2 885.3,1026.2 885.7,1026.2 886.1,1026.2 886.5,1026.2 886.9,1026.2 887.3,1026.1 887.7,1026.1 888.1,1026.1 888.5,1026.1 888.8,1026.1 889.2,1026.1 889.6,1026.1 890.0,1026.1 890.4,1026.1 890.8,1026.1 891.2,1026.1 891.6,1026.1 892.0,1026.1 892.4,1026.1 892.8,1026.1 893.2,1026.1 893.5,1026.1 893.9,1026.1 894.3,1026.0 894.7,1026.0 895.1,1026.0 895.5,1026.0 895.9,1026.0 896.3,1026.0 896.7,1026.0 897.1,1026.0 897.5,1026.0 897.9,1026.0 898.2,1026.0 898.6,1026.0 899.0,1026.0 899.4,1026.0 899.8,1026.0 900.2,1025.9 900.6,1025.9 901.0,1025.9 901.4,1025.9 901.8,1025.9 902.2,1025.9 902.5,1025.9 902.9,1025.9 903.3,1025.9 903.7,1025.9 904.1,1025.9 904.5,1025.9 904.9,1025.9 905.3,1025.9 905.7,1025.8 906.1,1025.8 906.5,1025.8 906.9,1025.8 907.2,1025.8 907.6,1025.8 908.0,1025.8 908.4,1025.8 908.8,1025.8 909.2,1025.8 909.6,1025.8 910.0,1025.8 910.4,1025.8 910.8,1025.7 911.2,1025.7 911.6,1025.7 911.9,1025.7 912.3,1025.7 912.7,1025.7 913.1,1025.7 913.5,1025.7 913.9,1025.7 914.3,1025.7 914.7,1025.7 915.1,1025.6 915.5,1025.6 915.9,1025.6 916.3,1025.6 916.6,1025.6 917.0,1025.6 917.4,1025.6 917.8,1025.6 918.2,1025.6 918.6,1025.6 919.0,1025.5 919.4,1025.5 919.8,1025.5 920.2,1025.5 920.6,1025.5 920.9,1025.5 921.3,1025.5 921.7,1025.5 922.1,1025.5 922.5,1025.4 922.9,1025.4 923.3,1025.4 923.7,1025.4 924.1,1025.4 924.5,1025.4 924.9,1025.4 925.3,1025.4 925.6,1025.3 926.0,1025.3 926.4,1025.3 926.8,1025.3 927.2,1025.3 927.6,1025.3 928.0,1025.3 928.4,1025.3 928.8,1025.2 929.2,1025.2 929.6,1025.2 930.0,1025.2 930.3,1025.2 930.7,1025.2 931.1,1025.2 931.5,1025.1 931.9,1025.1 932.3,1025.1 932.7,1025.1 933.1,1025.1 933.5,1025.1 933.9,1025.1 934.3,1025.0 934.7,1025.0 935.0,1025.0 935.4,1025.0 935.8,1025.0 936.2,1025.0 936.6,1024.9 937.0,1024.9 937.4,1024.9 937.8,1024.9 938.2,1024.9 938.6,1024.9 939.0,1024.8 939.3,1024.8 939.7,1024.8 940.1,1024.8 940.5,1024.8 940.9,1024.8 941.3,1024.7 941.7,1024.7 942.1,1024.7 942.5,1024.7 942.9,1024.7 943.3,1024.6 943.7,1024.6 944.0,1024.6 944.4,1024.6 944.8,1024.6 945.2,1024.5 945.6,1024.5 946.0,1024.5 946.4,1024.5 946.8,1024.5 947.2,1024.4 947.6,1024.4 948.0,1024.4 948.4,1024.4 948.7,1024.3 949.1,1024.3 949.5,1024.3 949.9,1024.3 950.3,1024.2 950.7,1024.2 951.1,1024.2 951.5,1024.2 951.9,1024.1 952.3,1024.1 952.7,1024.1 953.1,1024.1 953.4,1024.0 953.8,1024.0 954.2,1024.0 954.6,1024.0 955.0,1023.9 955.4,1023.9 955.8,1023.9 956.2,1023.8 956.6,1023.8 957.0,1023.8 957.4,1023.7 957.8,1023.7 958.1,1023.7 958.5,1023.7 958.9,1023.6 959.3,1023.6 959.7,1023.6 960.1,1023.5 960.5,1023.5 960.9,1023.4 961.3,1023.4 961.7,1023.4 962.1,1023.3 962.4,1023.3 962.8,1023.3 963.2,1023.2 963.6,1023.2 964.0,1023.2 964.4,1023.1 964.8,1023.1 965.2,1023.0 965.6,1023.0 966.0,1023.0 966.4,1022.9 966.8,1022.9 967.1,1022.8 967.5,1022.8 967.9,1022.7 968.3,1022.7 968.7,1022.6 969.1,1022.6 969.5,1022.5 969.9,1022.5 970.3,1022.5 970.7,1022.4 971.1,1022.4 971.5,1022.3 971.8,1022.2 972.2,1022.2 972.6,1022.1 973.0,1022.1 973.4,1022.0 973.8,1022.0 974.2,1021.9 974.6,1021.9 975.0,1021.8 975.4,1021.7 975.8,1021.7 976.2,1021.6 976.5,1021.6 976.9,1021.5 977.3,1021.4 977.7,1021.4 978.1,1021.3 978.5,1021.2 978.9,1021.2 979.3,1021.1 979.7,1021.0 980.1,1020.9 980.5,1020.9 980.8,1020.8 981.2,1020.7 981.6,1020.6 982.0,1020.5 982.4,1020.5 982.8,1020.4 983.2,1020.3 983.6,1020.2 984.0,1020.1 984.4,1020.0 984.8,1019.9 985.2,1019.9 985.5,1019.8 985.9,1019.7 986.3,1019.6 986.7,1019.5 987.1,1019.4 987.5,1019.3 987.9,1019.2 988.3,1019.0 988.7,1018.9 989.1,1018.8 989.5,1018.7 989.9,1018.6 990.2,1018.5 990.6,1018.3 991.0,1018.2 991.4,1018.1 991.8,1018.0 992.2,1017.8 992.6,1017.7 993.0,1017.6 993.4,1017.4 993.8,1017.3 994.2,1017.1 994.6,1017.0 994.9,1016.8 995.3,1016.7 995.7,1016.5 996.1,1016.3 996.5,1016.2 996.9,1016.0 997.3,1015.8 997.7,1015.6 998.1,1015.5 998.5,1015.3 998.9,1015.1 999.2,1014.9 999.6,1014.7 1000.0,1014.5 1000.4,1014.3 1000.8,1014.0 1001.2,1013.8 1001.6,1013.6 1002.0,1013.4 1002.4,1013.1 1002.8,1012.9 1003.2,1012.6 1003.6,1012.4 1003.9,1012.1 1004.3,1011.8 1004.7,1011.5 1005.1,1011.2 1005.5,1010.9 1005.9,1010.6 1006.3,1010.3 1006.7,1010.0 1007.1,1009.7 1007.5,1009.3 1007.9,1009.0 1008.3,1008.6 1008.6,1008.3 1009.0,1007.9 1009.4,1007.5 1009.8,1007.1 1010.2,1006.7 1010.6,1006.2 1011.0,1005.8 1011.4,1005.3 1011.8,1004.9 1012.2,1004.4 1012.6,1003.9 1013.0,1003.4 1013.3,1002.8 1013.7,1002.3 1014.1,1001.7 1014.5,1001.1 1014.9,1000.5 1015.3,999.9 1015.7,999.3 1016.1,998.6 1016.5,997.9 1016.9,997.2 1017.3,996.4 1017.7,995.7 1018.0,994.9 1018.4,994.0 1018.8,993.2 1019.2,992.3 1019.6,991.4 1020.0,990.4 1020.4,989.4 1020.8,988.4 1021.2,987.3 1021.6,986.2 1022.0,985.0 1022.3,983.8 1022.7,982.5 1023.1,981.2 1023.5,979.9 1023.9,978.4 1024.3,976.9 1024.7,975.4 1025.1,973.8 1025.5,972.1 1025.9,970.3 1026.3,968.5 1026.7,966.6 1027.0,964.5 1027.4,962.4 1027.8,960.2 1028.2,957.9 1028.6,955.5 1029.0,953.0 1029.4,950.4 1029.8,947.6 1030.2,944.7 1030.6,941.6 1031.0,938.4 1031.4,935.1 1031.7,931.6 1032.1,927.9 1032.5,924.1 1032.9,920.0 1033.3,915.8 1033.7,911.4 1034.1,906.7 1034.5,901.9 1034.9,896.8 1035.3,891.5 1035.7,886.0 1036.1,880.2 1036.4,874.2 1036.8,868.0 1037.2,861.5 1037.6,854.8 1038.0,847.9 1038.4,840.8 1038.8,833.6 1039.2,826.1 1039.6,818.6 1040.0,811.0 1040.4,803.3 1040.7,795.7 1041.1,788.2 1041.5,780.8 1041.9,773.7 1042.3,766.9 1042.7,760.4 1043.1,754.5 1043.5,749.1 1043.9,744.4 1044.3,740.4 1044.7,737.3 1045.1,735.0 1045.4,733.6 1045.8,733.1 1046.2,733.6 1046.6,735.0 1047.0,737.3 1047.4,740.4 1047.8,744.4 1048.2,749.1 1048.6,754.5 1049.0,760.4 1049.4,766.9 1049.8,773.7 1050.1,780.8 1050.5,788.2 1050.9,795.7 1051.3,803.3 1051.7,811.0 1052.1,818.6 1052.5,826.1 1052.9,833.6 1053.3,840.8 1053.7,847.9 1054.1,854.8 1054.5,861.5 1054.8,868.0 1055.2,874.2 1055.6,880.2 1056.0,886.0 1056.4,891.5 1056.8,896.8 1057.2,901.9 1057.6,906.7 1058.0,911.4 1058.4,915.8 1058.8,920.0 1059.1,924.1 1059.5,927.9 1059.9,931.6 1060.3,935.1 1060.7,938.5 1061.1,941.6 1061.5,944.7 1061.9,947.6 1062.3,950.4 1062.7,953.0 1063.1,955.5 1063.5,957.9 1063.8,960.2 1064.2,962.4 1064.6,964.6 1065.0,966.6 1065.4,968.5 1065.8,970.3 1066.2,972.1 1066.6,973.8 1067.0,975.4 1067.4,977.0 1067.8,978.4 1068.2,979.9 1068.5,981.2 1068.9,982.5 1069.3,983.8 1069.7,985.0 1070.1,986.2 1070.5,987.3 1070.9,988.4 1071.3,989.4 1071.7,990.4 1072.1,991.4 1072.5,992.3 1072.9,993.2 1073.2,994.1 1073.6,994.9 1074.0,995.7 1074.4,996.5 1074.8,997.2 1075.2,997.9 1075.6,998.6 1076.0,999.3 1076.4,999.9 1076.8,1000.6 1077.2,1001.2 1077.5,1001.7 1077.9,1002.3 1078.3,1002.9 1078.7,1003.4 1079.1,1003.9 1079.5,1004.4 1079.9,1004.9 1080.3,1005.4 1080.7,1005.8 1081.1,1006.3 1081.5,1006.7 1081.9,1007.1 1082.2,1007.5 1082.6,1007.9 1083.0,1008.3 1083.4,1008.7 1083.8,1009.0 1084.2,1009.4 1084.6,1009.7 1085.0,1010.0 1085.4,1010.4 1085.8,1010.7 1086.2,1011.0 1086.6,1011.3 1086.9,1011.6 1087.3,1011.8 1087.7,1012.1 1088.1,1012.4 1088.5,1012.6 1088.9,1012.9 1089.3,1013.1 1089.7,1013.4 1090.1,1013.6 1090.5,1013.8 1090.9,1014.1 1091.3,1014.3 1091.6,1014.5 1092.0,1014.7 1092.4,1014.9 1092.8,1015.1 1093.2,1015.3 1093.6,1015.5 1094.0,1015.7 1094.4,1015.8 1094.8,1016.0 1095.2,1016.2 1095.6,1016.4 1095.9,1016.5 1096.3,1016.7 1096.7,1016.8 1097.1,1017.0 1097.5,1017.2 1097.9,1017.3 1098.3,1017.4 1098.7,1017.6 1099.1,1017.7 1099.5,1017.9 1099.9,1018.0 1100.3,1018.1 1100.6,1018.2 1101.0,1018.4 1101.4,1018.5 1101.8,1018.6 1102.2,1018.7 1102.6,1018.8 1103.0,1019.0 1103.4,1019.1 1103.8,1019.2 1104.2,1019.3 1104.6,1019.4 1105.0,1019.5 1105.3,1019.6 1105.7,1019.7 1106.1,1019.8 1106.5,1019.9 1106.9,1020.0 1107.3,1020.1 1107.7,1020.2 1108.1,1020.2 1108.5,1020.3 1108.9,1020.4 1109.3,1020.5 1109.7,1020.6 1110.0,1020.7 1110.4,1020.7 1110.8,1020.8 1111.2,1020.9 1111.6,1021.0 1112.0,1021.0 1112.4,1021.1 1112.8,1021.2 1113.2,1021.3 1113.6,1021.3 1114.0,1021.4 1114.4,1021.5 1114.7,1021.5 1115.1,1021.6 1115.5,1021.7 1115.9,1021.7 1116.3,1021.8 1116.7,1021.8 1117.1,1021.9 1117.5,1022.0 1117.9,1022.0 1118.3,1022.1 1118.7,1022.1 1119.0,1022.2 1119.4,1022.2 1119.8,1022.3 1120.2,1022.3 1120.6,1022.4 1121.0,1022.4 1121.4,1022.5 1121.8,1022.5 1122.2,1022.6 1122.6,1022.6 1123.0,1022.7 1123.4,1022.7 1123.7,1022.8 1124.1,1022.8 1124.5,1022.9 1124.9,1022.9 1125.3,1023.0 1125.7,1023.0 1126.1,1023.0 1126.5,1023.1 1126.9,1023.1 1127.3,1023.2 1127.7,1023.2 1128.1,1023.2 1128.4,1023.3 1128.8,1023.3 1129.2,1023.3 1129.6,1023.4 1130.0,1023.4 1130.4,1023.5 1130.8,1023.5 1131.2,1023.5 1131.6,1023.6 1132.0,1023.6 1132.4,1023.6 1132.8,1023.7 1133.1,1023.7 1133.5,1023.7 1133.9,1023.8 1134.3,1023.8 1134.7,1023.8 1135.1,1023.9 1135.5,1023.9 1135.9,1023.9 1136.3,1023.9 1136.7,1024.0 1137.1,1024.0 1137.4,1024.0 1137.8,1024.1 1138.2,1024.1 1138.6,1024.1 1139.0,1024.1 1139.4,1024.2 1139.8,1024.2 1140.2,1024.2 1140.6,1024.2 1141.0,1024.3 1141.4,1024.3 1141.8,1024.3 1142.1,1024.3 1142.5,1024.4 1142.9,1024.4 1143.3,1024.4 1143.7,1024.4 1144.1,1024.5 1144.5,1024.5 1144.9,1024.5 1145.3,1024.5 1145.7,1024.5 1146.1,1024.6 1146.5,1024.6 1146.8,1024.6 1147.2,1024.6 1147.6,1024.7 1148.0,1024.7 1148.4,1024.7 1148.8,1024.7 1149.2,1024.7 1149.6,1024.8 1150.0,1024.8 1150.4,1024.8 1150.8,1024.8 1151.2,1024.8 1151.5,1024.8 1151.9,1024.9 1152.3,1024.9 1152.7,1024.9 1153.1,1024.9 1153.5,1024.9 1153.9,1025.0 1154.3,1025.0 1154.7,1025.0 1155.1,1025.0 1155.5,1025.0 1155.8,1025.0 1156.2,1025.1 1156.6,1025.1 1157.0,1025.1 1157.4,1025.1 1157.8,1025.1 1158.2,1025.1 1158.6,1025.2 1159.0,1025.2 1159.4,1025.2 1159.8,1025.2 1160.2,1025.2 1160.5,1025.2 1160.9,1025.2 1161.3,1025.3 1161.7,1025.3 1162.1,1025.3 1162.5,1025.3 1162.9,1025.3 1163.3,1025.3 1163.7,1025.3 1164.1,1025.3 1164.5,1025.4 1164.9,1025.4 1165.2,1025.4 1165.6,1025.4 1166.0,1025.4 1166.4,1025.4 1166.8,1025.4 1167.2,1025.5 1167.6,1025.5 1168.0,1025.5 1168.4,1025.5 1168.8,1025.5 1169.2,1025.5 1169.6,1025.5 1169.9,1025.5 1170.3,1025.5 1170.7,1025.6 1171.1,1025.6 1171.5,1025.6 1171.9,1025.6 1172.3,1025.6 1172.7,1025.6 1173.1,1025.6 1173.5,1025.6 1173.9,1025.6 1174.2,1025.7 1174.6,1025.7 1175.0,1025.7 1175.4,1025.7 1175.8,1025.7 1176.2,1025.7 1176.6,1025.7 1177.0,1025.7 1177.4,1025.7 1177.8,1025.7 1178.2,1025.8 1178.6,1025.8 1178.9,1025.8 1179.3,1025.8 1179.7,1025.8 1180.1,1025.8 1180.5,1025.8 1180.9,1025.8 1181.3,1025.8 1181.7,1025.8 1182.1,1025.8 1182.5,1025.9 1182.9,1025.9 1183.3,1025.9 1183.6,1025.9 1184.0,1025.9 1184.4,1025.9 1184.8,1025.9 1185.2,1025.9 1185.6,1025.9 1186.0,1025.9 1186.4,1025.9 1186.8,1025.9 1187.2,1026.0 1187.6,1026.0 1188.0,1026.0 1188.3,1026.0 1188.7,1026.0 1189.1,1026.0 1189.5,1026.0 1189.9,1026.0 1190.3,1026.0 1190.7,1026.0 1191.1,1026.0 1191.5,1026.0 1191.9,1026.0 1192.3,1026.0 1192.7,1026.1 1193.0,1026.1 1193.4,1026.1 1193.8,1026.1 1194.2,1026.1 1194.6,1026.1 1195.0,1026.1 1195.4,1026.1 1195.8,1026.1 1196.2,1026.1 1196.6,1026.1 1197.0,1026.1 1197.3,1026.1 1197.7,1026.1 1198.1,1026.1 1198.5,1026.2 1198.9,1026.2 1199.3,1026.2 1199.7,1026.2 1200.1,1026.2 1200.5,1026.2 1200.9,1026.2 1201.3,1026.2 1201.7,1026.2 1202.0,1026.2 1202.4,1026.2 1202.8,1026.2 1203.2,1026.2 1203.6,1026.2 1204.0,1026.2 1204.4,1026.2 1204.8,1026.2 1205.2,1026.3 1205.6,1026.3 1206.0,1026.3 1206.4,1026.3 1206.7,1026.3 1207.1,1026.3 1207.5,1026.3 1207.9,1026.3 1208.3,1026.3 1208.7,1026.3 1209.1,1026.3 1209.5,1026.3 1209.9,1026.3 1210.3,1026.3 1210.7,1026.3 1211.1,1026.3 1211.4,1026.3 1211.8,1026.3 1212.2,1026.3 1212.6,1026.3 1213.0,1026.4 1213.4,1026.4 1213.8,1026.4 1214.2,1026.4 1214.6,1026.4 1215.0,1026.4 1215.4,1026.4 1215.7,1026.4 1216.1,1026.4 1216.5,1026.4 1216.9,1026.4 1217.3,1026.4 1217.7,1026.4 1218.1,1026.4 1218.5,1026.4 1218.9,1026.4 1219.3,1026.4 1219.7,1026.4 1220.1,1026.4 1220.4,1026.4 1220.8,1026.4 1221.2,1026.4 1221.6,1026.5 1222.0,1026.5 1222.4,1026.5 1222.8,1026.5 1223.2,1026.5 1223.6,1026.5 1224.0,1026.5 1224.4,1026.5 1224.8,1026.5 1225.1,1026.5 1225.5,1026.5 1225.9,1026.5 1226.3,1026.5 1226.7,1026.5 1227.1,1026.5 1227.5,1026.5 1227.9,1026.5 1228.3,1026.5 1228.7,1026.5 1229.1,1026.5 1229.5,1026.5 1229.8,1026.5 1230.2,1026.5 1230.6,1026.5 1231.0,1026.5 1231.4,1026.5 1231.8,1026.5 1232.2,1026.6 1232.6,1026.6 1233.0,1026.6 1233.4,1026.6 1233.8,1026.6 1234.1,1026.6 1234.5,1026.6 1234.9,1026.6 1235.3,1026.6 1235.7,1026.6 1236.1,1026.6 1236.5,1026.6 1236.9,1026.6 1237.3,1026.6 1237.7,1026.6 1238.1,1026.6 1238.5,1026.6 1238.8,1026.6 1239.2,1026.6 1239.6,1026.6 1240.0,1026.6 1240.4,1026.6 1240.8,1026.6 1241.2,1026.6 1241.6,1026.6 1242.0,1026.6 1242.4,1026.6 1242.8,1026.6 1243.2,1026.6 1243.5,1026.6 1243.9,1026.6 1244.3,1026.6 1244.7,1026.7 1245.1,1026.7 1245.5,1026.7 1245.9,1026.7 1246.3,1026.7 1246.7,1026.7 1247.1,1026.7 1247.5,1026.7 1247.9,1026.7 1248.2,1026.7 1248.6,1026.7 1249.0,1026.7 1249.4,1026.7 1249.8,1026.7 1250.2,1026.7 1250.6,1026.7 1251.0,1026.7 1251.4,1026.7 1251.8,1026.7 1252.2,1026.7 1252.6,1026.7 1252.9,1026.7 1253.3,1026.7 1253.7,1026.7 1254.1,1026.7 1254.5,1026.7 1254.9,1026.7 1255.3,1026.7 1255.7,1026.7 1256.1,1026.7 1256.5,1026.7 1256.9,1026.7 1257.2,1026.7 1257.6,1026.7 1258.0,1026.7 1258.4,1026.7 1258.8,1026.7 1259.2,1026.7 1259.6,1026.7 1260.0,1026.8 1260.4,1026.8 1260.8,1026.8 1261.2,1026.8 1261.6,1026.8 1261.9,1026.8 1262.3,1026.8 1262.7,1026.8 1263.1,1026.8 1263.5,1026.8 1263.9,1026.8 1264.3,1026.8 1264.7,1026.8 1265.1,1026.8 1265.5,1026.8 1265.9,1026.8 1266.3,1026.8 1266.6,1026.8 1267.0,1026.8 1267.4,1026.8 1267.8,1026.8 1268.2,1026.8 1268.6,1026.8 1269.0,1026.8 1269.4,1026.8 1269.8,1026.8 1270.2,1026.8 1270.6,1026.8 1271.0,1026.8 1271.3,1026.8 1271.7,1026.8 1272.1,1026.8 1272.5,1026.8 1272.9,1026.8 1273.3,1026.8 1273.7,1026.8 1274.1,1026.8 1274.5,1026.8 1274.9,1026.8 1275.3,1026.8 1275.6,1026.8 1276.0,1026.8 1276.4,1026.8 1276.8,1026.8 1277.2,1026.8 1277.6,1026.8 1278.0,1026.8 1278.4,1026.8 1278.8,1026.8 1279.2,1026.8 1279.6,1026.9 1280.0,1026.9 1280.3,1026.9 1280.7,1026.9 1281.1,1026.9 1281.5,1026.9 1281.9,1026.9 1282.3,1026.9 1282.7,1026.9 1283.1,1026.9 1283.5,1026.9 1283.9,1026.9 1284.3,1026.9 1284.7,1026.9 1285.0,1026.9 1285.4,1026.9 1285.8,1026.9 1286.2,1026.9 1286.6,1026.9 1287.0,1026.9 1287.4,1026.9 1287.8,1026.9 1288.2,1026.9 1288.6,1026.9 1289.0,1026.9 1289.4,1026.9 1289.7,1026.9 1290.1,1026.9 1290.5,1026.9 1290.9,1026.9 1291.3,1026.9 1291.7,1026.9"/>
<rect x="195.5" y="731.6" width="1096.2" height="299.7" fill="none" stroke="#2b2b2b" stroke-width="4"/>
<path d="M195.5,1031.3h20.5M195.5,1001.3h10.3M195.5,971.4h20.5M195.5,941.4h10.3M195.5,911.4h20.5M195.5,881.5h10.3M195.5,851.5h20.5M195.5,821.5h10.3M195.5,791.5h20.5M195.5,761.6h10.3M195.5,731.6h20.5" stroke="#1e1e1e" stroke-width="3.5" fill="none"/>
<text x="172.3" y="1043.8" text-anchor="end" font-size="46.5" font-weight="bold">0.0</text>
<text x="172.3" y="983.9" text-anchor="end" font-size="46.5" font-weight="bold">0.2</text>
<text x="172.3" y="923.9" text-anchor="end" font-size="46.5" font-weight="bold">0.4</text>
<text x="172.3" y="864.0" text-anchor="end" font-size="46.5" font-weight="bold">0.6</text>
<text x="172.3" y="804.0" text-anchor="end" font-size="46.5" font-weight="bold">0.8</text>
<text x="172.3" y="744.1" text-anchor="end" font-size="46.5" font-weight="bold">1.0</text>
<line x1="529.5" y1="769.4" x2="654" y2="769.4" stroke="#3C3F86" stroke-width="6" stroke-linecap="round"/>
<text x="668.3" y="789.0" font-size="56.5" fill="#3F4A80">R=0.110 μm</text>
<clipPath id="ca3"><rect x="195.5" y="1073.7" width="1096.2" height="299.0"/></clipPath>
<polyline clip-path="url(#ca3)" fill="none" stroke="#7B2C80" stroke-width="7" stroke-linejoin="round" points="195.5,1342.0 195.9,1342.0 196.3,1342.0 196.7,1342.0 197.1,1342.0 197.5,1342.0 197.8,1342.0 198.2,1342.0 198.6,1342.0 199.0,1342.0 199.4,1342.0 199.8,1342.0 200.2,1342.0 200.6,1342.0 201.0,1342.0 201.4,1342.0 201.8,1342.0 202.2,1341.9 202.5,1341.9 202.9,1341.9 203.3,1341.9 203.7,1341.9 204.1,1341.8 204.5,1341.8 204.9,1341.8 205.3,1341.7 205.7,1341.7 206.1,1341.6 206.5,1341.6 206.9,1341.5 207.2,1341.5 207.6,1341.4 208.0,1341.3 208.4,1341.3 208.8,1341.2 209.2,1341.1 209.6,1341.1 210.0,1341.0 210.4,1340.9 210.8,1340.8 211.2,1340.7 211.6,1340.6 211.9,1340.5 212.3,1340.4 212.7,1340.3 213.1,1340.1 213.5,1340.0 213.9,1339.9 214.3,1339.7 214.7,1339.6 215.1,1339.4 215.5,1339.3 215.9,1339.1 216.2,1338.9 216.6,1338.8 217.0,1338.6 217.4,1338.4 217.8,1338.2 218.2,1337.9 218.6,1337.7 219.0,1337.5 219.4,1337.2 219.8,1337.0 220.2,1336.7 220.6,1336.4 220.9,1336.1 221.3,1335.8 221.7,1335.5 222.1,1335.2 222.5,1334.8 222.9,1334.5 223.3,1334.1 223.7,1333.7 224.1,1333.3 224.5,1332.8 224.9,1332.4 225.3,1331.9 225.6,1331.4 226.0,1330.9 226.4,1330.4 226.8,1329.8 227.2,1329.2 227.6,1328.6 228.0,1328.0 228.4,1327.3 228.8,1326.6 229.2,1325.8 229.6,1325.0 230.0,1324.2 230.3,1323.4 230.7,1322.4 231.1,1321.5 231.5,1320.5 231.9,1319.4 232.3,1318.3 232.7,1317.2 233.1,1315.9 233.5,1314.6 233.9,1313.3 234.3,1311.8 234.6,1310.3 235.0,1308.7 235.4,1307.0 235.8,1305.2 236.2,1303.3 236.6,1301.3 237.0,1299.1 237.4,1296.8 237.8,1294.4 238.2,1291.9 238.6,1289.2 239.0,1286.3 239.3,1283.2 239.7,1280.0 240.1,1276.5 240.5,1272.8 240.9,1268.9 241.3,1264.7 241.7,1260.2 242.1,1255.5 242.5,1250.4 242.9,1245.0 243.3,1239.3 243.7,1233.3 244.0,1226.8 244.4,1220.0 244.8,1212.8 245.2,1205.3 245.6,1197.3 246.0,1189.0 246.4,1180.3 246.8,1171.3 247.2,1162.1 247.6,1152.7 248.0,1143.2 248.4,1133.7 248.7,1124.4 249.1,1115.4 249.5,1106.9 249.9,1099.0 250.3,1092.0 250.7,1086.0 251.1,1081.2 251.5,1077.7 251.9,1075.7 252.3,1075.2 252.7,1076.3 253.1,1078.8 253.4,1082.8 253.8,1088.1 254.2,1094.4 254.6,1101.8 255.0,1109.9 255.4,1118.6 255.8,1127.7 256.2,1137.1 256.6,1146.5 257.0,1155.9 257.4,1165.2 257.7,1174.3 258.1,1183.1 258.5,1191.5 258.9,1199.6 259.3,1207.4 259.7,1214.7 260.1,1221.6 260.5,1228.2 260.9,1234.4 261.3,1240.2 261.7,1245.6 262.1,1250.7 262.4,1255.5 262.8,1259.9 263.2,1264.1 263.6,1268.0 264.0,1271.6 264.4,1275.0 264.8,1278.2 265.2,1281.1 265.6,1283.8 266.0,1286.3 266.4,1288.6 266.8,1290.8 267.1,1292.7 267.5,1294.5 267.9,1296.2 268.3,1297.6 268.7,1298.9 269.1,1300.1 269.5,1301.1 269.9,1302.0 270.3,1302.7 270.7,1303.2 271.1,1303.6 271.5,1303.9 271.8,1303.9 272.2,1303.8 272.6,1303.5 273.0,1303.0 273.4,1302.2 273.8,1301.2 274.2,1300.0 274.6,1298.4 275.0,1296.6 275.4,1294.4 275.8,1291.8 276.1,1288.8 276.5,1285.4 276.9,1281.4 277.3,1277.0 277.7,1272.1 278.1,1266.6 278.5,1260.8 278.9,1254.5 279.3,1248.1 279.7,1241.8 280.1,1235.9 280.5,1230.8 280.8,1226.9 281.2,1224.6 281.6,1224.1 282.0,1225.5 282.4,1228.7 282.8,1233.5 283.2,1239.5 283.6,1246.4 284.0,1253.6 284.4,1260.9 284.8,1268.1 285.2,1274.9 285.5,1281.3 285.9,1287.2 286.3,1292.6 286.7,1297.6 287.1,1302.1 287.5,1306.1 287.9,1309.8 288.3,1313.1 288.7,1316.1 289.1,1318.8 289.5,1321.3 289.9,1323.5 290.2,1325.6 290.6,1327.4 291.0,1329.1 291.4,1330.7 291.8,1332.1 292.2,1333.4 292.6,1334.7 293.0,1335.8 293.4,1336.8 293.8,1337.8 294.2,1338.7 294.5,1339.6 294.9,1340.3 295.3,1341.1 295.7,1341.8 296.1,1342.4 296.5,1343.1 296.9,1343.6 297.3,1344.2 297.7,1344.7 298.1,1345.2 298.5,1345.7 298.9,1346.1 299.2,1346.5 299.6,1346.9 300.0,1347.3 300.4,1347.7 300.8,1348.0 301.2,1348.4 301.6,1348.7 302.0,1349.0 302.4,1349.3 302.8,1349.6 303.2,1349.8 303.6,1350.1 303.9,1350.4 304.3,1350.6 304.7,1350.8 305.1,1351.1 305.5,1351.3 305.9,1351.5 306.3,1351.7 306.7,1351.9 307.1,1352.1 307.5,1352.3 307.9,1352.4 308.3,1352.6 308.6,1352.8 309.0,1352.9 309.4,1353.1 309.8,1353.2 310.2,1353.4 310.6,1353.5 311.0,1353.7 311.4,1353.8 311.8,1354.0 312.2,1354.1 312.6,1354.2 312.9,1354.3 313.3,1354.5 313.7,1354.6 314.1,1354.7 314.5,1354.8 314.9,1354.9 315.3,1355.0 315.7,1355.1 316.1,1355.2 316.5,1355.3 316.9,1355.4 317.3,1355.5 317.6,1355.6 318.0,1355.7 318.4,1355.8 318.8,1355.8 319.2,1355.9 319.6,1356.0 320.0,1356.1 320.4,1356.2 320.8,1356.2 321.2,1356.3 321.6,1356.4 322.0,1356.5 322.3,1356.5 322.7,1356.6 323.1,1356.7 323.5,1356.7 323.9,1356.8 324.3,1356.9 324.7,1356.9 325.1,1357.0 325.5,1357.0 325.9,1357.1 326.3,1357.1 326.7,1357.2 327.0,1357.2 327.4,1357.3 327.8,1357.3 328.2,1357.4 328.6,1357.4 329.0,1357.5 329.4,1357.5 329.8,1357.6 330.2,1357.6 330.6,1357.7 331.0,1357.7 331.4,1357.7 331.7,1357.8 332.1,1357.8 332.5,1357.9 332.9,1357.9 333.3,1357.9 333.7,1358.0 334.1,1358.0 334.5,1358.0 334.9,1358.1 335.3,1358.1 335.7,1358.1 336.0,1358.1 336.4,1358.2 336.8,1358.2 337.2,1358.2 337.6,1358.3 338.0,1358.3 338.4,1358.3 338.8,1358.3 339.2,1358.3 339.6,1358.4 340.0,1358.4 340.4,1358.4 340.7,1358.4 341.1,1358.4 341.5,1358.4 341.9,1358.5 342.3,1358.5 342.7,1358.5 343.1,1358.5 343.5,1358.5 343.9,1358.5 344.3,1358.5 344.7,1358.5 345.1,1358.5 345.4,1358.5 345.8,1358.5 346.2,1358.5 346.6,1358.5 347.0,1358.5 347.4,1358.5 347.8,1358.5 348.2,1358.5 348.6,1358.5 349.0,1358.5 349.4,1358.5 349.8,1358.5 350.1,1358.5 350.5,1358.5 350.9,1358.5 351.3,1358.5 351.7,1358.5 352.1,1358.5 352.5,1358.4 352.9,1358.4 353.3,1358.4 353.7,1358.4 354.1,1358.4 354.4,1358.4 354.8,1358.3 355.2,1358.3 355.6,1358.3 356.0,1358.3 356.4,1358.2 356.8,1358.2 357.2,1358.2 357.6,1358.1 358.0,1358.1 358.4,1358.1 358.8,1358.0 359.1,1358.0 359.5,1357.9 359.9,1357.9 360.3,1357.8 360.7,1357.8 361.1,1357.7 361.5,1357.7 361.9,1357.6 362.3,1357.6 362.7,1357.5 363.1,1357.5 363.5,1357.4 363.8,1357.3 364.2,1357.3 364.6,1357.2 365.0,1357.1 365.4,1357.0 365.8,1357.0 366.2,1356.9 366.6,1356.8 367.0,1356.7 367.4,1356.6 367.8,1356.5 368.2,1356.4 368.5,1356.3 368.9,1356.2 369.3,1356.1 369.7,1356.0 370.1,1355.9 370.5,1355.7 370.9,1355.6 371.3,1355.5 371.7,1355.3 372.1,1355.2 372.5,1355.0 372.8,1354.9 373.2,1354.7 373.6,1354.6 374.0,1354.4 374.4,1354.2 374.8,1354.0 375.2,1353.9 375.6,1353.7 376.0,1353.4 376.4,1353.2 376.8,1353.0 377.2,1352.8 377.5,1352.5 377.9,1352.3 378.3,1352.0 378.7,1351.8 379.1,1351.5 379.5,1351.2 379.9,1350.9 380.3,1350.6 380.7,1350.3 381.1,1349.9 381.5,1349.6 381.9,1349.2 382.2,1348.8 382.6,1348.4 383.0,1348.0 383.4,1347.5 383.8,1347.1 384.2,1346.6 384.6,1346.1 385.0,1345.5 385.4,1345.0 385.8,1344.4 386.2,1343.8 386.6,1343.1 386.9,1342.5 387.3,1341.8 387.7,1341.0 388.1,1340.2 388.5,1339.4 388.9,1338.5 389.3,1337.6 389.7,1336.6 390.1,1335.6 390.5,1334.5 390.9,1333.4 391.2,1332.2 391.6,1330.9 392.0,1329.5 392.4,1328.0 392.8,1326.5 393.2,1324.8 393.6,1323.1 394.0,1321.2 394.4,1319.2 394.8,1317.0 395.2,1314.7 395.6,1312.2 395.9,1309.6 396.3,1306.7 396.7,1303.7 397.1,1300.3 397.5,1296.8 397.9,1292.9 398.3,1288.7 398.7,1284.2 399.1,1279.3 399.5,1274.0 399.9,1268.2 400.3,1262.0 400.6,1255.2 401.0,1247.8 401.4,1239.9 401.8,1231.3 402.2,1222.0 402.6,1212.1 403.0,1201.5 403.4,1190.2 403.8,1178.3 404.2,1166.0 404.6,1153.4 405.0,1140.6 405.3,1128.0 405.7,1115.9 406.1,1104.6 406.5,1094.6 406.9,1086.2 407.3,1079.7 407.7,1075.2 408.1,1073.7 408.5,1073.7 408.9,1073.9 409.3,1076.8 409.7,1080.7 410.0,1085.2 410.4,1089.9 410.8,1094.5 411.2,1098.5 411.6,1101.9 412.0,1104.4 412.4,1105.9 412.8,1106.5 413.2,1106.1 413.6,1105.1 414.0,1103.4 414.3,1101.4 414.7,1099.5 415.1,1097.9 415.5,1097.0 415.9,1097.3 416.3,1098.9 416.7,1102.1 417.1,1107.0 417.5,1113.6 417.9,1121.7 418.3,1131.0 418.7,1141.4 419.0,1152.4 419.4,1163.7 419.8,1175.2 420.2,1186.5 420.6,1197.5 421.0,1208.1 421.4,1218.1 421.8,1227.5 422.2,1236.4 422.6,1244.6 423.0,1252.3 423.4,1259.4 423.7,1265.9 424.1,1272.0 424.5,1277.6 424.9,1282.7 425.3,1287.5 425.7,1291.9 426.1,1296.0 426.5,1299.7 426.9,1303.2 427.3,1306.5 427.7,1309.5 428.1,1312.3 428.4,1314.9 428.8,1317.3 429.2,1319.5 429.6,1321.7 430.0,1323.6 430.4,1325.5 430.8,1327.2 431.2,1328.8 431.6,1330.4 432.0,1331.8 432.4,1333.2 432.7,1334.4 433.1,1335.7 433.5,1336.8 433.9,1337.9 434.3,1338.9 434.7,1339.9 435.1,1340.8 435.5,1341.7 435.9,1342.5 436.3,1343.3 436.7,1344.0 437.1,1344.7 437.4,1345.4 437.8,1346.1 438.2,1346.7 438.6,1347.3 439.0,1347.9 439.4,1348.4 439.8,1348.9 440.2,1349.4 440.6,1349.9 441.0,1350.4 441.4,1350.8 441.8,1351.2 442.1,1351.6 442.5,1352.0 442.9,1352.4 443.3,1352.8 443.7,1353.1 444.1,1353.5 444.5,1353.8 444.9,1354.1 445.3,1354.4 445.7,1354.7 446.1,1355.0 446.5,1355.2 446.8,1355.5 447.2,1355.8 447.6,1356.0 448.0,1356.2 448.4,1356.5 448.8,1356.7 449.2,1356.9 449.6,1357.1 450.0,1357.3 450.4,1357.5 450.8,1357.7 451.1,1357.9 451.5,1358.1 451.9,1358.3 452.3,1358.4 452.7,1358.6 453.1,1358.8 453.5,1358.9 453.9,1359.1 454.3,1359.2 454.7,1359.4 455.1,1359.5 455.5,1359.6 455.8,1359.8 456.2,1359.9 456.6,1360.0 457.0,1360.1 457.4,1360.3 457.8,1360.4 458.2,1360.5 458.6,1360.6 459.0,1360.7 459.4,1360.8 459.8,1360.9 460.2,1361.0 460.5,1361.1 460.9,1361.2 461.3,1361.3 461.7,1361.4 462.1,1361.5 462.5,1361.6 462.9,1361.7 463.3,1361.8 463.7,1361.9 464.1,1361.9 464.5,1362.0 464.9,1362.1 465.2,1362.2 465.6,1362.2 466.0,1362.3 466.4,1362.4 466.8,1362.5 467.2,1362.5 467.6,1362.6 468.0,1362.7 468.4,1362.7 468.8,1362.8 469.2,1362.9 469.6,1362.9 469.9,1363.0 470.3,1363.0 470.7,1363.1 471.1,1363.2 471.5,1363.2 471.9,1363.3 472.3,1363.3 472.7,1363.4 473.1,1363.4 473.5,1363.5 473.9,1363.5 474.2,1363.6 474.6,1363.6 475.0,1363.7 475.4,1363.7 475.8,1363.8 476.2,1363.8 476.6,1363.9 477.0,1363.9 477.4,1364.0 477.8,1364.0 478.2,1364.0 478.6,1364.1 478.9,1364.1 479.3,1364.2 479.7,1364.2 480.1,1364.2 480.5,1364.3 480.9,1364.3 481.3,1364.4 481.7,1364.4 482.1,1364.4 482.5,1364.5 482.9,1364.5 483.3,1364.5 483.6,1364.6 484.0,1364.6 484.4,1364.6 484.8,1364.7 485.2,1364.7 485.6,1364.7 486.0,1364.8 486.4,1364.8 486.8,1364.8 487.2,1364.9 487.6,1364.9 488.0,1364.9 488.3,1364.9 488.7,1365.0 489.1,1365.0 489.5,1365.0 489.9,1365.1 490.3,1365.1 490.7,1365.1 491.1,1365.1 491.5,1365.2 491.9,1365.2 492.3,1365.2 492.6,1365.2 493.0,1365.3 493.4,1365.3 493.8,1365.3 494.2,1365.3 494.6,1365.4 495.0,1365.4 495.4,1365.4 495.8,1365.4 496.2,1365.4 496.6,1365.5 497.0,1365.5 497.3,1365.5 497.7,1365.5 498.1,1365.6 498.5,1365.6 498.9,1365.6 499.3,1365.6 499.7,1365.6 500.1,1365.7 500.5,1365.7 500.9,1365.7 501.3,1365.7 501.7,1365.7 502.0,1365.8 502.4,1365.8 502.8,1365.8 503.2,1365.8 503.6,1365.8 504.0,1365.8 504.4,1365.9 504.8,1365.9 505.2,1365.9 505.6,1365.9 506.0,1365.9 506.4,1366.0 506.7,1366.0 507.1,1366.0 507.5,1366.0 507.9,1366.0 508.3,1366.0 508.7,1366.1 509.1,1366.1 509.5,1366.1 509.9,1366.1 510.3,1366.1 510.7,1366.1 511.0,1366.1 511.4,1366.2 511.8,1366.2 512.2,1366.2 512.6,1366.2 513.0,1366.2 513.4,1366.2 513.8,1366.2 514.2,1366.3 514.6,1366.3 515.0,1366.3 515.4,1366.3 515.7,1366.3 516.1,1366.3 516.5,1366.3 516.9,1366.4 517.3,1366.4 517.7,1366.4 518.1,1366.4 518.5,1366.4 518.9,1366.4 519.3,1366.4 519.7,1366.4 520.1,1366.5 520.4,1366.5 520.8,1366.5 521.2,1366.5 521.6,1366.5 522.0,1366.5 522.4,1366.5 522.8,1366.5 523.2,1366.5 523.6,1366.6 524.0,1366.6 524.4,1366.6 524.8,1366.6 525.1,1366.6 525.5,1366.6 525.9,1366.6 526.3,1366.6 526.7,1366.6 527.1,1366.7 527.5,1366.7 527.9,1366.7 528.3,1366.7 528.7,1366.7 529.1,1366.7 529.4,1366.7 529.8,1366.7 530.2,1366.7 530.6,1366.7 531.0,1366.8 531.4,1366.8 531.8,1366.8 532.2,1366.8 532.6,1366.8 533.0,1366.8 533.4,1366.8 533.8,1366.8 534.1,1366.8 534.5,1366.8 534.9,1366.9 535.3,1366.9 535.7,1366.9 536.1,1366.9 536.5,1366.9 536.9,1366.9 537.3,1366.9 537.7,1366.9 538.1,1366.9 538.5,1366.9 538.8,1366.9 539.2,1366.9 539.6,1367.0 540.0,1367.0 540.4,1367.0 540.8,1367.0 541.2,1367.0 541.6,1367.0 542.0,1367.0 542.4,1367.0 542.8,1367.0 543.2,1367.0 543.5,1367.0 543.9,1367.0 544.3,1367.0 544.7,1367.1 545.1,1367.1 545.5,1367.1 545.9,1367.1 546.3,1367.1 546.7,1367.1 547.1,1367.1 547.5,1367.1 547.9,1367.1 548.2,1367.1 548.6,1367.1 549.0,1367.1 549.4,1367.1 549.8,1367.1 550.2,1367.2 550.6,1367.2 551.0,1367.2 551.4,1367.2 551.8,1367.2 552.2,1367.2 552.5,1367.2 552.9,1367.2 553.3,1367.2 553.7,1367.2 554.1,1367.2 554.5,1367.2 554.9,1367.2 555.3,1367.2 555.7,1367.2 556.1,1367.3 556.5,1367.3 556.9,1367.3 557.2,1367.3 557.6,1367.3 558.0,1367.3 558.4,1367.3 558.8,1367.3 559.2,1367.3 559.6,1367.3 560.0,1367.3 560.4,1367.3 560.8,1367.3 561.2,1367.3 561.6,1367.3 561.9,1367.3 562.3,1367.3 562.7,1367.4 563.1,1367.4 563.5,1367.4 563.9,1367.4 564.3,1367.4 564.7,1367.4 565.1,1367.4 565.5,1367.4 565.9,1367.4 566.3,1367.4 566.6,1367.4 567.0,1367.4 567.4,1367.4 567.8,1367.4 568.2,1367.4 568.6,1367.4 569.0,1367.4 569.4,1367.4 569.8,1367.4 570.2,1367.5 570.6,1367.5 570.9,1367.5 571.3,1367.5 571.7,1367.5 572.1,1367.5 572.5,1367.5 572.9,1367.5 573.3,1367.5 573.7,1367.5 574.1,1367.5 574.5,1367.5 574.9,1367.5 575.3,1367.5 575.6,1367.5 576.0,1367.5 576.4,1367.5 576.8,1367.5 577.2,1367.5 577.6,1367.5 578.0,1367.5 578.4,1367.5 578.8,1367.6 579.2,1367.6 579.6,1367.6 580.0,1367.6 580.3,1367.6 580.7,1367.6 581.1,1367.6 581.5,1367.6 581.9,1367.6 582.3,1367.6 582.7,1367.6 583.1,1367.6 583.5,1367.6 583.9,1367.6 584.3,1367.6 584.7,1367.6 585.0,1367.6 585.4,1367.6 585.8,1367.6 586.2,1367.6 586.6,1367.6 587.0,1367.6 587.4,1367.6 587.8,1367.6 588.2,1367.6 588.6,1367.7 589.0,1367.7 589.3,1367.7 589.7,1367.7 590.1,1367.7 590.5,1367.7 590.9,1367.7 591.3,1367.7 591.7,1367.7 592.1,1367.7 592.5,1367.7 592.9,1367.7 593.3,1367.7 593.7,1367.7 594.0,1367.7 594.4,1367.7 594.8,1367.7 595.2,1367.7 595.6,1367.7 596.0,1367.7 596.4,1367.7 596.8,1367.7 597.2,1367.7 597.6,1367.7 598.0,1367.7 598.4,1367.7 598.7,1367.7 599.1,1367.7 599.5,1367.8 599.9,1367.8 600.3,1367.8 600.7,1367.8 601.1,1367.8 601.5,1367.8 601.9,1367.8 602.3,1367.8 602.7,1367.8 603.1,1367.8 603.4,1367.8 603.8,1367.8 604.2,1367.8 604.6,1367.8 605.0,1367.8 605.4,1367.8 605.8,1367.8 606.2,1367.8 606.6,1367.8 607.0,1367.8 607.4,1367.8 607.7,1367.8 608.1,1367.8 608.5,1367.8 608.9,1367.8 609.3,1367.8 609.7,1367.8 610.1,1367.8 610.5,1367.8 610.9,1367.8 611.3,1367.8 611.7,1367.8 612.1,1367.8 612.4,1367.8 612.8,1367.9 613.2,1367.9 613.6,1367.9 614.0,1367.9 614.4,1367.9 614.8,1367.9 615.2,1367.9 615.6,1367.9 616.0,1367.9 616.4,1367.9 616.8,1367.9 617.1,1367.9 617.5,1367.9 617.9,1367.9 618.3,1367.9 618.7,1367.9 619.1,1367.9 619.5,1367.9 619.9,1367.9 620.3,1367.9 620.7,1367.9 621.1,1367.9 621.5,1367.9 621.8,1367.9 622.2,1367.9 622.6,1367.9 623.0,1367.9 623.4,1367.9 623.8,1367.9 624.2,1367.9 624.6,1367.9 625.0,1367.9 625.4,1367.9 625.8,1367.9 626.2,1367.9 626.5,1367.9 626.9,1367.9 627.3,1367.9 627.7,1367.9 628.1,1367.9 628.5,1367.9 628.9,1368.0 629.3,1368.0 629.7,1368.0 630.1,1368.0 630.5,1368.0 630.8,1368.0 631.2,1368.0 631.6,1368.0 632.0,1368.0 632.4,1368.0 632.8,1368.0 633.2,1368.0 633.6,1368.0 634.0,1368.0 634.4,1368.0 634.8,1368.0 635.2,1368.0 635.5,1368.0 635.9,1368.0 636.3,1368.0 636.7,1368.0 637.1,1368.0 637.5,1368.0 637.9,1368.0 638.3,1368.0 638.7,1368.0 639.1,1368.0 639.5,1368.0 639.9,1368.0 640.2,1368.0 640.6,1368.0 641.0,1368.0 641.4,1368.0 641.8,1368.0 642.2,1368.0 642.6,1368.0 643.0,1368.0 643.4,1368.0 643.8,1368.0 644.2,1368.0 644.6,1368.0 644.9,1368.0 645.3,1368.0 645.7,1368.0 646.1,1368.0 646.5,1368.0 646.9,1368.0 647.3,1368.0 647.7,1368.0 648.1,1368.0 648.5,1368.0 648.9,1368.0 649.2,1368.0 649.6,1368.1 650.0,1368.1 650.4,1368.1 650.8,1368.1 651.2,1368.1 651.6,1368.1 652.0,1368.1 652.4,1368.1 652.8,1368.1 653.2,1368.1 653.6,1368.1 653.9,1368.1 654.3,1368.1 654.7,1368.1 655.1,1368.1 655.5,1368.1 655.9,1368.1 656.3,1368.1 656.7,1368.1 657.1,1368.1 657.5,1368.1 657.9,1368.1 658.3,1368.1 658.6,1368.1 659.0,1368.1 659.4,1368.1 659.8,1368.1 660.2,1368.1 660.6,1368.1 661.0,1368.1 661.4,1368.1 661.8,1368.1 662.2,1368.1 662.6,1368.1 663.0,1368.1 663.3,1368.1 663.7,1368.1 664.1,1368.1 664.5,1368.1 664.9,1368.1 665.3,1368.1 665.7,1368.1 666.1,1368.1 666.5,1368.1 666.9,1368.1 667.3,1368.1 667.6,1368.1 668.0,1368.1 668.4,1368.1 668.8,1368.1 669.2,1368.1 669.6,1368.1 670.0,1368.1 670.4,1368.1 670.8,1368.1 671.2,1368.1 671.6,1368.1 672.0,1368.1 672.3,1368.1 672.7,1368.1 673.1,1368.1 673.5,1368.1 673.9,1368.1 674.3,1368.1 674.7,1368.1 675.1,1368.1 675.5,1368.1 675.9,1368.1 676.3,1368.1 676.7,1368.1 677.0,1368.1 677.4,1368.1 677.8,1368.1 678.2,1368.1 678.6,1368.1 679.0,1368.1 679.4,1368.1 679.8,1368.2 680.2,1368.2 680.6,1368.2 681.0,1368.2 681.4,1368.2 681.7,1368.2 682.1,1368.2 682.5,1368.2 682.9,1368.2 683.3,1368.2 683.7,1368.2 684.1,1368.2 684.5,1368.2 684.9,1368.2 685.3,1368.2 685.7,1368.2 686.0,1368.2 686.4,1368.2 686.8,1368.2 687.2,1368.2 687.6,1368.2 688.0,1368.2 688.4,1368.2 688.8,1368.2 689.2,1368.2 689.6,1368.2 690.0,1368.2 690.4,1368.2 690.7,1368.2 691.1,1368.2 691.5,1368.2 691.9,1368.2 692.3,1368.2 692.7,1368.2 693.1,1368.2 693.5,1368.2 693.9,1368.2 694.3,1368.2 694.7,1368.2 695.1,1368.2 695.4,1368.2 695.8,1368.2 696.2,1368.2 696.6,1368.2 697.0,1368.2 697.4,1368.2 697.8,1368.2 698.2,1368.2 698.6,1368.2 699.0,1368.2 699.4,1368.2 699.8,1368.2 700.1,1368.2 700.5,1368.2 700.9,1368.2 701.3,1368.2 701.7,1368.2 702.1,1368.2 702.5,1368.2 702.9,1368.2 703.3,1368.2 703.7,1368.2 704.1,1368.2 704.5,1368.2 704.8,1368.2 705.2,1368.2 705.6,1368.2 706.0,1368.2 706.4,1368.2 706.8,1368.2 707.2,1368.2 707.6,1368.2 708.0,1368.2 708.4,1368.2 708.8,1368.2 709.1,1368.2 709.5,1368.2 709.9,1368.2 710.3,1368.2 710.7,1368.2 711.1,1368.2 711.5,1368.2 711.9,1368.2 712.3,1368.2 712.7,1368.2 713.1,1368.2 713.5,1368.2 713.8,1368.2 714.2,1368.2 714.6,1368.2 715.0,1368.2 715.4,1368.2 715.8,1368.2 716.2,1368.2 716.6,1368.2 717.0,1368.2 717.4,1368.2 717.8,1368.2 718.2,1368.2 718.5,1368.2 718.9,1368.2 719.3,1368.2 719.7,1368.2 720.1,1368.2 720.5,1368.2 720.9,1368.2 721.3,1368.2 721.7,1368.2 722.1,1368.2 722.5,1368.2 722.9,1368.2 723.2,1368.2 723.6,1368.2 724.0,1368.2 724.4,1368.2 724.8,1368.2 725.2,1368.2 725.6,1368.2 726.0,1368.2 726.4,1368.2 726.8,1368.2 727.2,1368.2 727.5,1368.2 727.9,1368.2 728.3,1368.2 728.7,1368.2 729.1,1368.2 729.5,1368.2 729.9,1368.2 730.3,1368.2 730.7,1368.2 731.1,1368.2 731.5,1368.2 731.9,1368.2 732.2,1368.2 732.6,1368.2 733.0,1368.2 733.4,1368.2 733.8,1368.2 734.2,1368.2 734.6,1368.2 735.0,1368.2 735.4,1368.2 735.8,1368.2 736.2,1368.2 736.6,1368.2 736.9,1368.2 737.3,1368.2 737.7,1368.2 738.1,1368.2 738.5,1368.2 738.9,1368.2 739.3,1368.2 739.7,1368.2 740.1,1368.2 740.5,1368.2 740.9,1368.2 741.3,1368.2 741.6,1368.2 742.0,1368.2 742.4,1368.2 742.8,1368.2 743.2,1368.2 743.6,1368.2 744.0,1368.2 744.4,1368.2 744.8,1368.2 745.2,1368.2 745.6,1368.2 745.9,1368.2 746.3,1368.2 746.7,1368.2 747.1,1368.2 747.5,1368.2 747.9,1368.2 748.3,1368.2 748.7,1368.2 749.1,1368.2 749.5,1368.2 749.9,1368.2 750.3,1368.2 750.6,1368.2 751.0,1368.2 751.4,1368.2 751.8,1368.2 752.2,1368.2 752.6,1368.2 753.0,1368.2 753.4,1368.2 753.8,1368.2 754.2,1368.2 754.6,1368.2 755.0,1368.2 755.3,1368.2 755.7,1368.2 756.1,1368.2 756.5,1368.2 756.9,1368.2 757.3,1368.2 757.7,1368.2 758.1,1368.2 758.5,1368.2 758.9,1368.2 759.3,1368.2 759.7,1368.2 760.0,1368.2 760.4,1368.2 760.8,1368.2 761.2,1368.2 761.6,1368.2 762.0,1368.2 762.4,1368.2 762.8,1368.2 763.2,1368.2 763.6,1368.2 764.0,1368.2 764.3,1368.2 764.7,1368.2 765.1,1368.2 765.5,1368.2 765.9,1368.2 766.3,1368.2 766.7,1368.2 767.1,1368.2 767.5,1368.2 767.9,1368.2 768.3,1368.2 768.7,1368.2 769.0,1368.2 769.4,1368.2 769.8,1368.2 770.2,1368.2 770.6,1368.2 771.0,1368.2 771.4,1368.2 771.8,1368.2 772.2,1368.2 772.6,1368.2 773.0,1368.2 773.4,1368.2 773.7,1368.2 774.1,1368.2 774.5,1368.2 774.9,1368.2 775.3,1368.2 775.7,1368.2 776.1,1368.2 776.5,1368.2 776.9,1368.2 777.3,1368.2 777.7,1368.2 778.1,1368.2 778.4,1368.2 778.8,1368.2 779.2,1368.2 779.6,1368.2 780.0,1368.2 780.4,1368.2 780.8,1368.2 781.2,1368.2 781.6,1368.2 782.0,1368.2 782.4,1368.2 782.8,1368.2 783.1,1368.2 783.5,1368.2 783.9,1368.2 784.3,1368.2 784.7,1368.2 785.1,1368.2 785.5,1368.2 785.9,1368.2 786.3,1368.2 786.7,1368.2 787.1,1368.2 787.4,1368.2 787.8,1368.2 788.2,1368.2 788.6,1368.2 789.0,1368.2 789.4,1368.2 789.8,1368.2 790.2,1368.2 790.6,1368.2 791.0,1368.2 791.4,1368.2 791.8,1368.2 792.1,1368.2 792.5,1368.2 792.9,1368.2 793.3,1368.2 793.7,1368.2 794.1,1368.2 794.5,1368.2 794.9,1368.2 795.3,1368.2 795.7,1368.2 796.1,1368.2 796.5,1368.2 796.8,1368.2 797.2,1368.2 797.6,1368.2 798.0,1368.2 798.4,1368.2 798.8,1368.2 799.2,1368.2 799.6,1368.2 800.0,1368.2 800.4,1368.2 800.8,1368.2 801.2,1368.2 801.5,1368.2 801.9,1368.2 802.3,1368.2 802.7,1368.2 803.1,1368.2 803.5,1368.2 803.9,1368.2 804.3,1368.2 804.7,1368.2 805.1,1368.2 805.5,1368.2 805.8,1368.2 806.2,1368.2 806.6,1368.2 807.0,1368.2 807.4,1368.2 807.8,1368.2 808.2,1368.2 808.6,1368.2 809.0,1368.2 809.4,1368.2 809.8,1368.2 810.2,1368.2 810.5,1368.2 810.9,1368.2 811.3,1368.2 811.7,1368.2 812.1,1368.2 812.5,1368.2 812.9,1368.2 813.3,1368.2 813.7,1368.2 814.1,1368.2 814.5,1368.2 814.9,1368.1 815.2,1368.1 815.6,1368.1 816.0,1368.1 816.4,1368.1 816.8,1368.1 817.2,1368.1 817.6,1368.1 818.0,1368.1 818.4,1368.1 818.8,1368.1 819.2,1368.1 819.6,1368.1 819.9,1368.1 820.3,1368.1 820.7,1368.1 821.1,1368.1 821.5,1368.1 821.9,1368.1 822.3,1368.1 822.7,1368.1 823.1,1368.1 823.5,1368.1 823.9,1368.1 824.2,1368.1 824.6,1368.1 825.0,1368.1 825.4,1368.1 825.8,1368.1 826.2,1368.1 826.6,1368.1 827.0,1368.1 827.4,1368.1 827.8,1368.1 828.2,1368.1 828.6,1368.1 828.9,1368.1 829.3,1368.1 829.7,1368.1 830.1,1368.1 830.5,1368.1 830.9,1368.1 831.3,1368.1 831.7,1368.1 832.1,1368.1 832.5,1368.1 832.9,1368.1 833.3,1368.1 833.6,1368.1 834.0,1368.1 834.4,1368.1 834.8,1368.1 835.2,1368.1 835.6,1368.1 836.0,1368.1 836.4,1368.1 836.8,1368.1 837.2,1368.1 837.6,1368.1 838.0,1368.1 838.3,1368.1 838.7,1368.1 839.1,1368.1 839.5,1368.1 839.9,1368.1 840.3,1368.1 840.7,1368.1 841.1,1368.1 841.5,1368.1 841.9,1368.0 842.3,1368.0 842.6,1368.0 843.0,1368.0 843.4,1368.0 843.8,1368.0 844.2,1368.0 844.6,1368.0 845.0,1368.0 845.4,1368.0 845.8,1368.0 846.2,1368.0 846.6,1368.0 847.0,1368.0 847.3,1368.0 847.7,1368.0 848.1,1368.0 848.5,1368.0 848.9,1368.0 849.3,1368.0 849.7,1368.0 850.1,1368.0 850.5,1368.0 850.9,1368.0 851.3,1368.0 851.7,1368.0 852.0,1368.0 852.4,1368.0 852.8,1368.0 853.2,1368.0 853.6,1368.0 854.0,1368.0 854.4,1368.0 854.8,1368.0 855.2,1368.0 855.6,1368.0 856.0,1368.0 856.4,1368.0 856.7,1368.0 857.1,1368.0 857.5,1368.0 857.9,1368.0 858.3,1368.0 858.7,1368.0 859.1,1368.0 859.5,1368.0 859.9,1367.9 860.3,1367.9 860.7,1367.9 861.1,1367.9 861.4,1367.9 861.8,1367.9 862.2,1367.9 862.6,1367.9 863.0,1367.9 863.4,1367.9 863.8,1367.9 864.2,1367.9 864.6,1367.9 865.0,1367.9 865.4,1367.9 865.7,1367.9 866.1,1367.9 866.5,1367.9 866.9,1367.9 867.3,1367.9 867.7,1367.9 868.1,1367.9 868.5,1367.9 868.9,1367.9 869.3,1367.9 869.7,1367.9 870.1,1367.9 870.4,1367.9 870.8,1367.9 871.2,1367.9 871.6,1367.9 872.0,1367.9 872.4,1367.9 872.8,1367.9 873.2,1367.9 873.6,1367.8 874.0,1367.8 874.4,1367.8 874.8,1367.8 875.1,1367.8 875.5,1367.8 875.9,1367.8 876.3,1367.8 876.7,1367.8 877.1,1367.8 877.5,1367.8 877.9,1367.8 878.3,1367.8 878.7,1367.8 879.1,1367.8 879.5,1367.8 879.8,1367.8 880.2,1367.8 880.6,1367.8 881.0,1367.8 881.4,1367.8 881.8,1367.8 882.2,1367.8 882.6,1367.8 883.0,1367.8 883.4,1367.8 883.8,1367.8 884.1,1367.8 884.5,1367.7 884.9,1367.7 885.3,1367.7 885.7,1367.7 886.1,1367.7 886.5,1367.7 886.9,1367.7 887.3,1367.7 887.7,1367.7 888.1,1367.7 888.5,1367.7 888.8,1367.7 889.2,1367.7 889.6,1367.7 890.0,1367.7 890.4,1367.7 890.8,1367.7 891.2,1367.7 891.6,1367.7 892.0,1367.7 892.4,1367.7 892.8,1367.7 893.2,1367.7 893.5,1367.6 893.9,1367.6 894.3,1367.6 894.7,1367.6 895.1,1367.6 895.5,1367.6 895.9,1367.6 896.3,1367.6 896.7,1367.6 897.1,1367.6 897.5,1367.6 897.9,1367.6 898.2,1367.6 898.6,1367.6 899.0,1367.6 899.4,1367.6 899.8,1367.6 900.2,1367.6 900.6,1367.6 901.0,1367.5 901.4,1367.5 901.8,1367.5 902.2,1367.5 902.5,1367.5 902.9,1367.5 903.3,1367.5 903.7,1367.5 904.1,1367.5 904.5,1367.5 904.9,1367.5 905.3,1367.5 905.7,1367.5 906.1,1367.5 906.5,1367.5 906.9,1367.5 907.2,1367.5 907.6,1367.4 908.0,1367.4 908.4,1367.4 908.8,1367.4 909.2,1367.4 909.6,1367.4 910.0,1367.4 910.4,1367.4 910.8,1367.4 911.2,1367.4 911.6,1367.4 911.9,1367.4 912.3,1367.4 912.7,1367.4 913.1,1367.4 913.5,1367.3 913.9,1367.3 914.3,1367.3 914.7,1367.3 915.1,1367.3 915.5,1367.3 915.9,1367.3 916.3,1367.3 916.6,1367.3 917.0,1367.3 917.4,1367.3 917.8,1367.3 918.2,1367.3 918.6,1367.3 919.0,1367.2 919.4,1367.2 919.8,1367.2 920.2,1367.2 920.6,1367.2 920.9,1367.2 921.3,1367.2 921.7,1367.2 922.1,1367.2 922.5,1367.2 922.9,1367.2 923.3,1367.1 923.7,1367.1 924.1,1367.1 924.5,1367.1 924.9,1367.1 925.3,1367.1 925.6,1367.1 926.0,1367.1 926.4,1367.1 926.8,1367.1 927.2,1367.1 927.6,1367.0 928.0,1367.0 928.4,1367.0 928.8,1367.0 929.2,1367.0 929.6,1367.0 930.0,1367.0 930.3,1367.0 930.7,1367.0 931.1,1367.0 931.5,1366.9 931.9,1366.9 932.3,1366.9 932.7,1366.9 933.1,1366.9 933.5,1366.9 933.9,1366.9 934.3,1366.9 934.7,1366.9 935.0,1366.8 935.4,1366.8 935.8,1366.8 936.2,1366.8 936.6,1366.8 937.0,1366.8 937.4,1366.8 937.8,1366.8 938.2,1366.7 938.6,1366.7 939.0,1366.7 939.3,1366.7 939.7,1366.7 940.1,1366.7 940.5,1366.7 940.9,1366.7 941.3,1366.6 941.7,1366.6 942.1,1366.6 942.5,1366.6 942.9,1366.6 943.3,1366.6 943.7,1366.6 944.0,1366.5 944.4,1366.5 944.8,1366.5 945.2,1366.5 945.6,1366.5 946.0,1366.5 946.4,1366.5 946.8,1366.4 947.2,1366.4 947.6,1366.4 948.0,1366.4 948.4,1366.4 948.7,1366.4 949.1,1366.3 949.5,1366.3 949.9,1366.3 950.3,1366.3 950.7,1366.3 951.1,1366.2 951.5,1366.2 951.9,1366.2 952.3,1366.2 952.7,1366.2 953.1,1366.2 953.4,1366.1 953.8,1366.1 954.2,1366.1 954.6,1366.1 955.0,1366.1 955.4,1366.0 955.8,1366.0 956.2,1366.0 956.6,1366.0 957.0,1366.0 957.4,1365.9 957.8,1365.9 958.1,1365.9 958.5,1365.9 958.9,1365.8 959.3,1365.8 959.7,1365.8 960.1,1365.8 960.5,1365.8 960.9,1365.7 961.3,1365.7 961.7,1365.7 962.1,1365.7 962.4,1365.6 962.8,1365.6 963.2,1365.6 963.6,1365.6 964.0,1365.5 964.4,1365.5 964.8,1365.5 965.2,1365.5 965.6,1365.4 966.0,1365.4 966.4,1365.4 966.8,1365.3 967.1,1365.3 967.5,1365.3 967.9,1365.2 968.3,1365.2 968.7,1365.2 969.1,1365.2 969.5,1365.1 969.9,1365.1 970.3,1365.1 970.7,1365.0 971.1,1365.0 971.5,1365.0 971.8,1364.9 972.2,1364.9 972.6,1364.9 973.0,1364.8 973.4,1364.8 973.8,1364.8 974.2,1364.7 974.6,1364.7 975.0,1364.6 975.4,1364.6 975.8,1364.6 976.2,1364.5 976.5,1364.5 976.9,1364.4 977.3,1364.4 977.7,1364.4 978.1,1364.3 978.5,1364.3 978.9,1364.2 979.3,1364.2 979.7,1364.1 980.1,1364.1 980.5,1364.0 980.8,1364.0 981.2,1364.0 981.6,1363.9 982.0,1363.9 982.4,1363.8 982.8,1363.8 983.2,1363.7 983.6,1363.7 984.0,1363.6 984.4,1363.5 984.8,1363.5 985.2,1363.4 985.5,1363.4 985.9,1363.3 986.3,1363.3 986.7,1363.2 987.1,1363.1 987.5,1363.1 987.9,1363.0 988.3,1363.0 988.7,1362.9 989.1,1362.8 989.5,1362.8 989.9,1362.7 990.2,1362.6 990.6,1362.5 991.0,1362.5 991.4,1362.4 991.8,1362.3 992.2,1362.3 992.6,1362.2 993.0,1362.1 993.4,1362.0 993.8,1361.9 994.2,1361.9 994.6,1361.8 994.9,1361.7 995.3,1361.6 995.7,1361.5 996.1,1361.4 996.5,1361.3 996.9,1361.2 997.3,1361.1 997.7,1361.0 998.1,1360.9 998.5,1360.8 998.9,1360.7 999.2,1360.6 999.6,1360.5 1000.0,1360.4 1000.4,1360.3 1000.8,1360.2 1001.2,1360.1 1001.6,1360.0 1002.0,1359.8 1002.4,1359.7 1002.8,1359.6 1003.2,1359.5 1003.6,1359.3 1003.9,1359.2 1004.3,1359.1 1004.7,1358.9 1005.1,1358.8 1005.5,1358.6 1005.9,1358.5 1006.3,1358.3 1006.7,1358.2 1007.1,1358.0 1007.5,1357.9 1007.9,1357.7 1008.3,1357.5 1008.6,1357.3 1009.0,1357.2 1009.4,1357.0 1009.8,1356.8 1010.2,1356.6 1010.6,1356.4 1011.0,1356.2 1011.4,1356.0 1011.8,1355.8 1012.2,1355.6 1012.6,1355.4 1013.0,1355.1 1013.3,1354.9 1013.7,1354.7 1014.1,1354.4 1014.5,1354.2 1014.9,1353.9 1015.3,1353.7 1015.7,1353.4 1016.1,1353.1 1016.5,1352.8 1016.9,1352.5 1017.3,1352.2 1017.7,1351.9 1018.0,1351.6 1018.4,1351.3 1018.8,1350.9 1019.2,1350.6 1019.6,1350.2 1020.0,1349.9 1020.4,1349.5 1020.8,1349.1 1021.2,1348.7 1021.6,1348.3 1022.0,1347.9 1022.3,1347.5 1022.7,1347.0 1023.1,1346.5 1023.5,1346.1 1023.9,1345.6 1024.3,1345.1 1024.7,1344.5 1025.1,1344.0 1025.5,1343.4 1025.9,1342.9 1026.3,1342.3 1026.7,1341.6 1027.0,1341.0 1027.4,1340.4 1027.8,1339.7 1028.2,1339.0 1028.6,1338.2 1029.0,1337.5 1029.4,1336.7 1029.8,1335.9 1030.2,1335.0 1030.6,1334.1 1031.0,1333.2 1031.4,1332.3 1031.7,1331.3 1032.1,1330.3 1032.5,1329.2 1032.9,1328.1 1033.3,1327.0 1033.7,1325.8 1034.1,1324.6 1034.5,1323.3 1034.9,1321.9 1035.3,1320.5 1035.7,1319.1 1036.1,1317.6 1036.4,1316.0 1036.8,1314.3 1037.2,1312.6 1037.6,1310.8 1038.0,1308.9 1038.4,1306.9 1038.8,1304.9 1039.2,1302.7 1039.6,1300.4 1040.0,1298.1 1040.4,1295.6 1040.7,1293.0 1041.1,1290.3 1041.5,1287.5 1041.9,1284.5 1042.3,1281.4 1042.7,1278.1 1043.1,1274.7 1043.5,1271.1 1043.9,1267.3 1044.3,1263.3 1044.7,1259.2 1045.1,1254.9 1045.4,1250.3 1045.8,1245.6 1046.2,1240.6 1046.6,1235.4 1047.0,1230.0 1047.4,1224.3 1047.8,1218.4 1048.2,1212.3 1048.6,1205.9 1049.0,1199.3 1049.4,1192.5 1049.8,1185.5 1050.1,1178.3 1050.5,1171.0 1050.9,1163.5 1051.3,1155.9 1051.7,1148.3 1052.1,1140.7 1052.5,1133.2 1052.9,1125.7 1053.3,1118.5 1053.7,1111.6 1054.1,1105.0 1054.5,1098.8 1054.8,1093.2 1055.2,1088.3 1055.6,1084.0 1056.0,1080.5 1056.4,1077.9 1056.8,1076.1 1057.2,1075.3 1057.6,1075.4 1058.0,1076.4 1058.4,1078.3 1058.8,1081.2 1059.1,1084.8 1059.5,1089.2 1059.9,1094.3 1060.3,1100.0 1060.7,1106.3 1061.1,1112.9 1061.5,1119.9 1061.9,1127.2 1062.3,1134.7 1062.7,1142.2 1063.1,1149.9 1063.5,1157.5 1063.8,1165.0 1064.2,1172.5 1064.6,1179.8 1065.0,1186.9 1065.4,1193.9 1065.8,1200.7 1066.2,1207.2 1066.6,1213.5 1067.0,1219.6 1067.4,1225.5 1067.8,1231.1 1068.2,1236.4 1068.5,1241.6 1068.9,1246.5 1069.3,1251.2 1069.7,1255.7 1070.1,1260.0 1070.5,1264.1 1070.9,1268.1 1071.3,1271.8 1071.7,1275.4 1072.1,1278.8 1072.5,1282.0 1072.9,1285.1 1073.2,1288.0 1073.6,1290.9 1074.0,1293.6 1074.4,1296.1 1074.8,1298.6 1075.2,1300.9 1075.6,1303.1 1076.0,1305.3 1076.4,1307.3 1076.8,1309.3 1077.2,1311.2 1077.5,1312.9 1077.9,1314.7 1078.3,1316.3 1078.7,1317.9 1079.1,1319.4 1079.5,1320.8 1079.9,1322.2 1080.3,1323.6 1080.7,1324.8 1081.1,1326.1 1081.5,1327.2 1081.9,1328.4 1082.2,1329.5 1082.6,1330.5 1083.0,1331.5 1083.4,1332.5 1083.8,1333.4 1084.2,1334.3 1084.6,1335.2 1085.0,1336.0 1085.4,1336.9 1085.8,1337.6 1086.2,1338.4 1086.6,1339.1 1086.9,1339.8 1087.3,1340.5 1087.7,1341.2 1088.1,1341.8 1088.5,1342.4 1088.9,1343.0 1089.3,1343.6 1089.7,1344.1 1090.1,1344.7 1090.5,1345.2 1090.9,1345.7 1091.3,1346.2 1091.6,1346.6 1092.0,1347.1 1092.4,1347.6 1092.8,1348.0 1093.2,1348.4 1093.6,1348.8 1094.0,1349.2 1094.4,1349.6 1094.8,1350.0 1095.2,1350.3 1095.6,1350.7 1095.9,1351.0 1096.3,1351.4 1096.7,1351.7 1097.1,1352.0 1097.5,1352.3 1097.9,1352.6 1098.3,1352.9 1098.7,1353.2 1099.1,1353.5 1099.5,1353.7 1099.9,1354.0 1100.3,1354.2 1100.6,1354.5 1101.0,1354.7 1101.4,1355.0 1101.8,1355.2 1102.2,1355.4 1102.6,1355.6 1103.0,1355.9 1103.4,1356.1 1103.8,1356.3 1104.2,1356.5 1104.6,1356.7 1105.0,1356.9 1105.3,1357.0 1105.7,1357.2 1106.1,1357.4 1106.5,1357.6 1106.9,1357.7 1107.3,1357.9 1107.7,1358.1 1108.1,1358.2 1108.5,1358.4 1108.9,1358.5 1109.3,1358.7 1109.7,1358.8 1110.0,1359.0 1110.4,1359.1 1110.8,1359.2 1111.2,1359.4 1111.6,1359.5 1112.0,1359.6 1112.4,1359.8 1112.8,1359.9 1113.2,1360.0 1113.6,1360.1 1114.0,1360.2 1114.4,1360.4 1114.7,1360.5 1115.1,1360.6 1115.5,1360.7 1115.9,1360.8 1116.3,1360.9 1116.7,1361.0 1117.1,1361.1 1117.5,1361.2 1117.9,1361.3 1118.3,1361.4 1118.7,1361.5 1119.0,1361.6 1119.4,1361.6 1119.8,1361.7 1120.2,1361.8 1120.6,1361.9 1121.0,1362.0 1121.4,1362.1 1121.8,1362.1 1122.2,1362.2 1122.6,1362.3 1123.0,1362.4 1123.4,1362.4 1123.7,1362.5 1124.1,1362.6 1124.5,1362.7 1124.9,1362.7 1125.3,1362.8 1125.7,1362.9 1126.1,1362.9 1126.5,1363.0 1126.9,1363.1 1127.3,1363.1 1127.7,1363.2 1128.1,1363.2 1128.4,1363.3 1128.8,1363.4 1129.2,1363.4 1129.6,1363.5 1130.0,1363.5 1130.4,1363.6 1130.8,1363.6 1131.2,1363.7 1131.6,1363.7 1132.0,1363.8 1132.4,1363.8 1132.8,1363.9 1133.1,1363.9 1133.5,1364.0 1133.9,1364.0 1134.3,1364.1 1134.7,1364.1 1135.1,1364.2 1135.5,1364.2 1135.9,1364.3 1136.3,1364.3 1136.7,1364.4 1137.1,1364.4 1137.4,1364.4 1137.8,1364.5 1138.2,1364.5 1138.6,1364.6 1139.0,1364.6 1139.4,1364.6 1139.8,1364.7 1140.2,1364.7 1140.6,1364.8 1141.0,1364.8 1141.4,1364.8 1141.8,1364.9 1142.1,1364.9 1142.5,1364.9 1142.9,1365.0 1143.3,1365.0 1143.7,1365.0 1144.1,1365.1 1144.5,1365.1 1144.9,1365.1 1145.3,1365.2 1145.7,1365.2 1146.1,1365.2 1146.5,1365.3 1146.8,1365.3 1147.2,1365.3 1147.6,1365.4 1148.0,1365.4 1148.4,1365.4 1148.8,1365.4 1149.2,1365.5 1149.6,1365.5 1150.0,1365.5 1150.4,1365.6 1150.8,1365.6 1151.2,1365.6 1151.5,1365.6 1151.9,1365.7 1152.3,1365.7 1152.7,1365.7 1153.1,1365.7 1153.5,1365.8 1153.9,1365.8 1154.3,1365.8 1154.7,1365.8 1155.1,1365.9 1155.5,1365.9 1155.8,1365.9 1156.2,1365.9 1156.6,1365.9 1157.0,1366.0 1157.4,1366.0 1157.8,1366.0 1158.2,1366.0 1158.6,1366.0 1159.0,1366.1 1159.4,1366.1 1159.8,1366.1 1160.2,1366.1 1160.5,1366.1 1160.9,1366.2 1161.3,1366.2 1161.7,1366.2 1162.1,1366.2 1162.5,1366.2 1162.9,1366.3 1163.3,1366.3 1163.7,1366.3 1164.1,1366.3 1164.5,1366.3 1164.9,1366.4 1165.2,1366.4 1165.6,1366.4 1166.0,1366.4 1166.4,1366.4 1166.8,1366.4 1167.2,1366.5 1167.6,1366.5 1168.0,1366.5 1168.4,1366.5 1168.8,1366.5 1169.2,1366.5 1169.6,1366.6 1169.9,1366.6 1170.3,1366.6 1170.7,1366.6 1171.1,1366.6 1171.5,1366.6 1171.9,1366.6 1172.3,1366.7 1172.7,1366.7 1173.1,1366.7 1173.5,1366.7 1173.9,1366.7 1174.2,1366.7 1174.6,1366.7 1175.0,1366.8 1175.4,1366.8 1175.8,1366.8 1176.2,1366.8 1176.6,1366.8 1177.0,1366.8 1177.4,1366.8 1177.8,1366.8 1178.2,1366.9 1178.6,1366.9 1178.9,1366.9 1179.3,1366.9 1179.7,1366.9 1180.1,1366.9 1180.5,1366.9 1180.9,1366.9 1181.3,1366.9 1181.7,1367.0 1182.1,1367.0 1182.5,1367.0 1182.9,1367.0 1183.3,1367.0 1183.6,1367.0 1184.0,1367.0 1184.4,1367.0 1184.8,1367.0 1185.2,1367.1 1185.6,1367.1 1186.0,1367.1 1186.4,1367.1 1186.8,1367.1 1187.2,1367.1 1187.6,1367.1 1188.0,1367.1 1188.3,1367.1 1188.7,1367.1 1189.1,1367.2 1189.5,1367.2 1189.9,1367.2 1190.3,1367.2 1190.7,1367.2 1191.1,1367.2 1191.5,1367.2 1191.9,1367.2 1192.3,1367.2 1192.7,1367.2 1193.0,1367.3 1193.4,1367.3 1193.8,1367.3 1194.2,1367.3 1194.6,1367.3 1195.0,1367.3 1195.4,1367.3 1195.8,1367.3 1196.2,1367.3 1196.6,1367.3 1197.0,1367.3 1197.3,1367.3 1197.7,1367.4 1198.1,1367.4 1198.5,1367.4 1198.9,1367.4 1199.3,1367.4 1199.7,1367.4 1200.1,1367.4 1200.5,1367.4 1200.9,1367.4 1201.3,1367.4 1201.7,1367.4 1202.0,1367.4 1202.4,1367.4 1202.8,1367.4 1203.2,1367.5 1203.6,1367.5 1204.0,1367.5 1204.4,1367.5 1204.8,1367.5 1205.2,1367.5 1205.6,1367.5 1206.0,1367.5 1206.4,1367.5 1206.7,1367.5 1207.1,1367.5 1207.5,1367.5 1207.9,1367.5 1208.3,1367.5 1208.7,1367.5 1209.1,1367.6 1209.5,1367.6 1209.9,1367.6 1210.3,1367.6 1210.7,1367.6 1211.1,1367.6 1211.4,1367.6 1211.8,1367.6 1212.2,1367.6 1212.6,1367.6 1213.0,1367.6 1213.4,1367.6 1213.8,1367.6 1214.2,1367.6 1214.6,1367.6 1215.0,1367.6 1215.4,1367.7 1215.7,1367.7 1216.1,1367.7 1216.5,1367.7 1216.9,1367.7 1217.3,1367.7 1217.7,1367.7 1218.1,1367.7 1218.5,1367.7 1218.9,1367.7 1219.3,1367.7 1219.7,1367.7 1220.1,1367.7 1220.4,1367.7 1220.8,1367.7 1221.2,1367.7 1221.6,1367.7 1222.0,1367.7 1222.4,1367.7 1222.8,1367.7 1223.2,1367.8 1223.6,1367.8 1224.0,1367.8 1224.4,1367.8 1224.8,1367.8 1225.1,1367.8 1225.5,1367.8 1225.9,1367.8 1226.3,1367.8 1226.7,1367.8 1227.1,1367.8 1227.5,1367.8 1227.9,1367.8 1228.3,1367.8 1228.7,1367.8 1229.1,1367.8 1229.5,1367.8 1229.8,1367.8 1230.2,1367.8 1230.6,1367.8 1231.0,1367.8 1231.4,1367.8 1231.8,1367.9 1232.2,1367.9 1232.6,1367.9 1233.0,1367.9 1233.4,1367.9 1233.8,1367.9 1234.1,1367.9 1234.5,1367.9 1234.9,1367.9 1235.3,1367.9 1235.7,1367.9 1236.1,1367.9 1236.5,1367.9 1236.9,1367.9 1237.3,1367.9 1237.7,1367.9 1238.1,1367.9 1238.5,1367.9 1238.8,1367.9 1239.2,1367.9 1239.6,1367.9 1240.0,1367.9 1240.4,1367.9 1240.8,1367.9 1241.2,1367.9 1241.6,1367.9 1242.0,1368.0 1242.4,1368.0 1242.8,1368.0 1243.2,1368.0 1243.5,1368.0 1243.9,1368.0 1244.3,1368.0 1244.7,1368.0 1245.1,1368.0 1245.5,1368.0 1245.9,1368.0 1246.3,1368.0 1246.7,1368.0 1247.1,1368.0 1247.5,1368.0 1247.9,1368.0 1248.2,1368.0 1248.6,1368.0 1249.0,1368.0 1249.4,1368.0 1249.8,1368.0 1250.2,1368.0 1250.6,1368.0 1251.0,1368.0 1251.4,1368.0 1251.8,1368.0 1252.2,1368.0 1252.6,1368.0 1252.9,1368.0 1253.3,1368.0 1253.7,1368.0 1254.1,1368.1 1254.5,1368.1 1254.9,1368.1 1255.3,1368.1 1255.7,1368.1 1256.1,1368.1 1256.5,1368.1 1256.9,1368.1 1257.2,1368.1 1257.6,1368.1 1258.0,1368.1 1258.4,1368.1 1258.8,1368.1 1259.2,1368.1 1259.6,1368.1 1260.0,1368.1 1260.4,1368.1 1260.8,1368.1 1261.2,1368.1 1261.6,1368.1 1261.9,1368.1 1262.3,1368.1 1262.7,1368.1 1263.1,1368.1 1263.5,1368.1 1263.9,1368.1 1264.3,1368.1 1264.7,1368.1 1265.1,1368.1 1265.5,1368.1 1265.9,1368.1 1266.3,1368.1 1266.6,1368.1 1267.0,1368.1 1267.4,1368.1 1267.8,1368.1 1268.2,1368.1 1268.6,1368.1 1269.0,1368.2 1269.4,1368.2 1269.8,1368.2 1270.2,1368.2 1270.6,1368.2 1271.0,1368.2 1271.3,1368.2 1271.7,1368.2 1272.1,1368.2 1272.5,1368.2 1272.9,1368.2 1273.3,1368.2 1273.7,1368.2 1274.1,1368.2 1274.5,1368.2 1274.9,1368.2 1275.3,1368.2 1275.6,1368.2 1276.0,1368.2 1276.4,1368.2 1276.8,1368.2 1277.2,1368.2 1277.6,1368.2 1278.0,1368.2 1278.4,1368.2 1278.8,1368.2 1279.2,1368.2 1279.6,1368.2 1280.0,1368.2 1280.3,1368.2 1280.7,1368.2 1281.1,1368.2 1281.5,1368.2 1281.9,1368.2 1282.3,1368.2 1282.7,1368.2 1283.1,1368.2 1283.5,1368.2 1283.9,1368.2 1284.3,1368.2 1284.7,1368.2 1285.0,1368.2 1285.4,1368.2 1285.8,1368.2 1286.2,1368.2 1286.6,1368.2 1287.0,1368.2 1287.4,1368.2 1287.8,1368.3 1288.2,1368.3 1288.6,1368.3 1289.0,1368.3 1289.4,1368.3 1289.7,1368.3 1290.1,1368.3 1290.5,1368.3 1290.9,1368.3 1291.3,1368.3 1291.7,1368.3"/>
<rect x="195.5" y="1073.7" width="1096.2" height="299.0" fill="none" stroke="#2b2b2b" stroke-width="4"/>
<path d="M195.5,1372.7h20.5M195.5,1342.8h10.3M195.5,1312.9h20.5M195.5,1283.0h10.3M195.5,1253.1h20.5M195.5,1223.2h10.3M195.5,1193.3h20.5M195.5,1163.4h10.3M195.5,1133.5h20.5M195.5,1103.6h10.3M195.5,1073.7h20.5" stroke="#1e1e1e" stroke-width="3.5" fill="none"/>
<text x="172.3" y="1385.2" text-anchor="end" font-size="46.5" font-weight="bold">0.0</text>
<text x="172.3" y="1325.4" text-anchor="end" font-size="46.5" font-weight="bold">0.2</text>
<text x="172.3" y="1265.6" text-anchor="end" font-size="46.5" font-weight="bold">0.4</text>
<text x="172.3" y="1205.8" text-anchor="end" font-size="46.5" font-weight="bold">0.6</text>
<text x="172.3" y="1146.0" text-anchor="end" font-size="46.5" font-weight="bold">0.8</text>
<text x="172.3" y="1086.2" text-anchor="end" font-size="46.5" font-weight="bold">1.0</text>
<line x1="535" y1="1112.1" x2="661" y2="1112.1" stroke="#7B2C80" stroke-width="6" stroke-linecap="round"/>
<text x="674.2" y="1131.1" font-size="56.5" fill="#7A3A7A">R=0.111 μm</text>
<clipPath id="ca4"><rect x="195.5" y="1416.3" width="1096.2" height="300.70000000000005"/></clipPath>
<polyline clip-path="url(#ca4)" fill="none" stroke="#141414" stroke-width="7" stroke-linejoin="round" points="195.5,1686.1 195.9,1686.1 196.3,1686.1 196.7,1686.1 197.1,1686.1 197.5,1686.1 197.8,1686.1 198.2,1686.1 198.6,1686.1 199.0,1686.1 199.4,1686.1 199.8,1686.1 200.2,1686.1 200.6,1686.1 201.0,1686.1 201.4,1686.1 201.8,1686.1 202.2,1686.0 202.5,1686.0 202.9,1686.0 203.3,1686.0 203.7,1685.9 204.1,1685.9 204.5,1685.9 204.9,1685.8 205.3,1685.8 205.7,1685.8 206.1,1685.7 206.5,1685.7 206.9,1685.6 207.2,1685.5 207.6,1685.5 208.0,1685.4 208.4,1685.4 208.8,1685.3 209.2,1685.2 209.6,1685.1 210.0,1685.0 210.4,1685.0 210.8,1684.9 211.2,1684.8 211.6,1684.7 211.9,1684.6 212.3,1684.4 212.7,1684.3 213.1,1684.2 213.5,1684.1 213.9,1683.9 214.3,1683.8 214.7,1683.6 215.1,1683.5 215.5,1683.3 215.9,1683.2 216.2,1683.0 216.6,1682.8 217.0,1682.6 217.4,1682.4 217.8,1682.2 218.2,1682.0 218.6,1681.7 219.0,1681.5 219.4,1681.3 219.8,1681.0 220.2,1680.7 220.6,1680.4 220.9,1680.1 221.3,1679.8 221.7,1679.5 222.1,1679.2 222.5,1678.8 222.9,1678.5 223.3,1678.1 223.7,1677.7 224.1,1677.3 224.5,1676.8 224.9,1676.4 225.3,1675.9 225.6,1675.4 226.0,1674.9 226.4,1674.4 226.8,1673.8 227.2,1673.2 227.6,1672.6 228.0,1671.9 228.4,1671.2 228.8,1670.5 229.2,1669.8 229.6,1669.0 230.0,1668.1 230.3,1667.3 230.7,1666.4 231.1,1665.4 231.5,1664.4 231.9,1663.3 232.3,1662.2 232.7,1661.0 233.1,1659.8 233.5,1658.5 233.9,1657.1 234.3,1655.7 234.6,1654.1 235.0,1652.5 235.4,1650.8 235.8,1649.0 236.2,1647.1 236.6,1645.0 237.0,1642.9 237.4,1640.6 237.8,1638.2 238.2,1635.6 238.6,1632.9 239.0,1630.0 239.3,1626.9 239.7,1623.6 240.1,1620.1 240.5,1616.4 240.9,1612.5 241.3,1608.3 241.7,1603.8 242.1,1599.0 242.5,1593.9 242.9,1588.5 243.3,1582.8 243.7,1576.7 244.0,1570.3 244.4,1563.4 244.8,1556.2 245.2,1548.6 245.6,1540.6 246.0,1532.2 246.4,1523.5 246.8,1514.5 247.2,1505.2 247.6,1495.8 248.0,1486.2 248.4,1476.7 248.7,1467.3 249.1,1458.3 249.5,1449.7 249.9,1441.8 250.3,1434.7 250.7,1428.7 251.1,1423.8 251.5,1420.4 251.9,1418.3 252.3,1417.8 252.7,1418.9 253.1,1421.4 253.4,1425.4 253.8,1430.6 254.2,1437.0 254.6,1444.4 255.0,1452.5 255.4,1461.2 255.8,1470.3 256.2,1479.7 256.6,1489.1 257.0,1498.5 257.4,1507.8 257.7,1516.9 258.1,1525.6 258.5,1534.1 258.9,1542.2 259.3,1549.9 259.7,1557.2 260.1,1564.1 260.5,1570.6 260.9,1576.7 261.3,1582.5 261.7,1587.9 262.1,1592.9 262.4,1597.7 262.8,1602.1 263.2,1606.2 263.6,1610.0 264.0,1613.5 264.4,1616.8 264.8,1619.8 265.2,1622.6 265.6,1625.2 266.0,1627.6 266.4,1629.8 266.8,1631.8 267.1,1633.5 267.5,1635.1 267.9,1636.6 268.3,1637.8 268.7,1638.9 269.1,1639.7 269.5,1640.4 269.9,1640.9 270.3,1641.3 270.7,1641.4 271.1,1641.3 271.5,1641.0 271.8,1640.5 272.2,1639.7 272.6,1638.7 273.0,1637.4 273.4,1635.7 273.8,1633.7 274.2,1631.3 274.6,1628.5 275.0,1625.3 275.4,1621.5 275.8,1617.2 276.1,1612.3 276.5,1606.8 276.9,1600.6 277.3,1593.9 277.7,1586.7 278.1,1579.2 278.5,1571.4 278.9,1563.9 279.3,1556.9 279.7,1551.0 280.1,1546.6 280.5,1544.1 280.8,1543.9 281.2,1546.0 281.6,1550.3 282.0,1556.3 282.4,1563.7 282.8,1572.0 283.2,1580.6 283.6,1589.3 284.0,1597.8 284.4,1605.9 284.8,1613.4 285.2,1620.3 285.5,1626.7 285.9,1632.5 286.3,1637.7 286.7,1642.4 287.1,1646.7 287.5,1650.6 287.9,1654.1 288.3,1657.2 288.7,1660.1 289.1,1662.7 289.5,1665.1 289.9,1667.2 290.2,1669.2 290.6,1671.0 291.0,1672.7 291.4,1674.2 291.8,1675.6 292.2,1676.9 292.6,1678.1 293.0,1679.3 293.4,1680.3 293.8,1681.3 294.2,1682.2 294.5,1683.1 294.9,1683.9 295.3,1684.6 295.7,1685.3 296.1,1686.0 296.5,1686.6 296.9,1687.2 297.3,1687.8 297.7,1688.3 298.1,1688.8 298.5,1689.3 298.9,1689.8 299.2,1690.2 299.6,1690.6 300.0,1691.0 300.4,1691.4 300.8,1691.8 301.2,1692.1 301.6,1692.4 302.0,1692.8 302.4,1693.1 302.8,1693.4 303.2,1693.7 303.6,1693.9 303.9,1694.2 304.3,1694.5 304.7,1694.7 305.1,1694.9 305.5,1695.2 305.9,1695.4 306.3,1695.6 306.7,1695.8 307.1,1696.0 307.5,1696.2 307.9,1696.4 308.3,1696.6 308.6,1696.7 309.0,1696.9 309.4,1697.1 309.8,1697.3 310.2,1697.4 310.6,1697.6 311.0,1697.7 311.4,1697.9 311.8,1698.0 312.2,1698.1 312.6,1698.3 312.9,1698.4 313.3,1698.5 313.7,1698.7 314.1,1698.8 314.5,1698.9 314.9,1699.0 315.3,1699.1 315.7,1699.2 316.1,1699.3 316.5,1699.4 316.9,1699.5 317.3,1699.6 317.6,1699.7 318.0,1699.8 318.4,1699.9 318.8,1700.0 319.2,1700.1 319.6,1700.2 320.0,1700.3 320.4,1700.4 320.8,1700.4 321.2,1700.5 321.6,1700.6 322.0,1700.7 322.3,1700.7 322.7,1700.8 323.1,1700.9 323.5,1701.0 323.9,1701.0 324.3,1701.1 324.7,1701.2 325.1,1701.2 325.5,1701.3 325.9,1701.4 326.3,1701.4 326.7,1701.5 327.0,1701.5 327.4,1701.6 327.8,1701.6 328.2,1701.7 328.6,1701.7 329.0,1701.8 329.4,1701.9 329.8,1701.9 330.2,1701.9 330.6,1702.0 331.0,1702.0 331.4,1702.1 331.7,1702.1 332.1,1702.2 332.5,1702.2 332.9,1702.3 333.3,1702.3 333.7,1702.3 334.1,1702.4 334.5,1702.4 334.9,1702.4 335.3,1702.5 335.7,1702.5 336.0,1702.6 336.4,1702.6 336.8,1702.6 337.2,1702.6 337.6,1702.7 338.0,1702.7 338.4,1702.7 338.8,1702.8 339.2,1702.8 339.6,1702.8 340.0,1702.8 340.4,1702.9 340.7,1702.9 341.1,1702.9 341.5,1702.9 341.9,1702.9 342.3,1703.0 342.7,1703.0 343.1,1703.0 343.5,1703.0 343.9,1703.0 344.3,1703.1 344.7,1703.1 345.1,1703.1 345.4,1703.1 345.8,1703.1 346.2,1703.1 346.6,1703.1 347.0,1703.1 347.4,1703.1 347.8,1703.1 348.2,1703.2 348.6,1703.2 349.0,1703.2 349.4,1703.2 349.8,1703.2 350.1,1703.2 350.5,1703.2 350.9,1703.2 351.3,1703.2 351.7,1703.2 352.1,1703.2 352.5,1703.2 352.9,1703.1 353.3,1703.1 353.7,1703.1 354.1,1703.1 354.4,1703.1 354.8,1703.1 355.2,1703.1 355.6,1703.1 356.0,1703.1 356.4,1703.0 356.8,1703.0 357.2,1703.0 357.6,1703.0 358.0,1703.0 358.4,1702.9 358.8,1702.9 359.1,1702.9 359.5,1702.9 359.9,1702.8 360.3,1702.8 360.7,1702.8 361.1,1702.7 361.5,1702.7 361.9,1702.7 362.3,1702.6 362.7,1702.6 363.1,1702.5 363.5,1702.5 363.8,1702.5 364.2,1702.4 364.6,1702.4 365.0,1702.3 365.4,1702.3 365.8,1702.2 366.2,1702.1 366.6,1702.1 367.0,1702.0 367.4,1701.9 367.8,1701.9 368.2,1701.8 368.5,1701.7 368.9,1701.7 369.3,1701.6 369.7,1701.5 370.1,1701.4 370.5,1701.3 370.9,1701.2 371.3,1701.1 371.7,1701.0 372.1,1700.9 372.5,1700.8 372.8,1700.7 373.2,1700.6 373.6,1700.5 374.0,1700.4 374.4,1700.2 374.8,1700.1 375.2,1700.0 375.6,1699.8 376.0,1699.7 376.4,1699.5 376.8,1699.4 377.2,1699.2 377.5,1699.0 377.9,1698.9 378.3,1698.7 378.7,1698.5 379.1,1698.3 379.5,1698.1 379.9,1697.9 380.3,1697.6 380.7,1697.4 381.1,1697.2 381.5,1696.9 381.9,1696.7 382.2,1696.4 382.6,1696.1 383.0,1695.8 383.4,1695.5 383.8,1695.2 384.2,1694.8 384.6,1694.5 385.0,1694.1 385.4,1693.7 385.8,1693.3 386.2,1692.9 386.6,1692.5 386.9,1692.0 387.3,1691.5 387.7,1691.0 388.1,1690.5 388.5,1689.9 388.9,1689.3 389.3,1688.7 389.7,1688.0 390.1,1687.4 390.5,1686.6 390.9,1685.9 391.2,1685.1 391.6,1684.2 392.0,1683.3 392.4,1682.3 392.8,1681.3 393.2,1680.2 393.6,1679.1 394.0,1677.9 394.4,1676.6 394.8,1675.2 395.2,1673.7 395.6,1672.1 395.9,1670.4 396.3,1668.6 396.7,1666.6 397.1,1664.5 397.5,1662.2 397.9,1659.7 398.3,1657.1 398.7,1654.2 399.1,1651.1 399.5,1647.7 399.9,1643.9 400.3,1639.9 400.6,1635.5 401.0,1630.6 401.4,1625.3 401.8,1619.5 402.2,1613.2 402.6,1606.2 403.0,1598.5 403.4,1590.1 403.8,1580.9 404.2,1570.9 404.6,1560.0 405.0,1548.3 405.3,1535.9 405.7,1522.7 406.1,1509.2 406.5,1495.5 406.9,1482.1 407.3,1469.4 407.7,1458.1 408.1,1448.7 408.5,1441.7 408.9,1437.3 409.3,1435.9 409.7,1437.1 410.0,1440.6 410.4,1445.8 410.8,1452.3 411.2,1459.3 411.6,1466.2 412.0,1472.8 412.4,1478.5 412.8,1483.2 413.2,1486.6 413.6,1488.8 414.0,1489.5 414.3,1488.8 414.7,1486.8 415.1,1483.4 415.5,1478.8 415.9,1473.1 416.3,1466.4 416.7,1459.0 417.1,1451.2 417.5,1443.3 417.9,1435.6 418.3,1428.7 418.7,1423.1 419.0,1419.1 419.4,1417.1 419.8,1417.4 420.2,1420.2 420.6,1425.4 421.0,1432.9 421.4,1442.2 421.8,1453.1 422.2,1465.1 422.6,1477.8 423.0,1490.9 423.4,1503.9 423.7,1516.7 424.1,1529.1 424.5,1540.9 424.9,1552.0 425.3,1562.5 425.7,1572.2 426.1,1581.3 426.5,1589.6 426.9,1597.4 427.3,1604.5 427.7,1611.1 428.1,1617.2 428.4,1622.8 428.8,1627.9 429.2,1632.7 429.6,1637.1 430.0,1641.1 430.4,1644.9 430.8,1648.3 431.2,1651.5 431.6,1654.5 432.0,1657.3 432.4,1659.9 432.7,1662.3 433.1,1664.5 433.5,1666.6 433.9,1668.6 434.3,1670.4 434.7,1672.2 435.1,1673.8 435.5,1675.3 435.9,1676.7 436.3,1678.1 436.7,1679.3 437.1,1680.5 437.4,1681.7 437.8,1682.7 438.2,1683.7 438.6,1684.7 439.0,1685.6 439.4,1686.5 439.8,1687.3 440.2,1688.1 440.6,1688.8 441.0,1689.5 441.4,1690.2 441.8,1690.9 442.1,1691.5 442.5,1692.1 442.9,1692.6 443.3,1693.1 443.7,1693.7 444.1,1694.2 444.5,1694.6 444.9,1695.1 445.3,1695.5 445.7,1695.9 446.1,1696.3 446.5,1696.7 446.8,1697.1 447.2,1697.4 447.6,1697.8 448.0,1698.1 448.4,1698.4 448.8,1698.7 449.2,1699.0 449.6,1699.3 450.0,1699.6 450.4,1699.9 450.8,1700.1 451.1,1700.4 451.5,1700.6 451.9,1700.9 452.3,1701.1 452.7,1701.3 453.1,1701.5 453.5,1701.7 453.9,1701.9 454.3,1702.1 454.7,1702.3 455.1,1702.5 455.5,1702.7 455.8,1702.8 456.2,1703.0 456.6,1703.2 457.0,1703.3 457.4,1703.5 457.8,1703.6 458.2,1703.8 458.6,1703.9 459.0,1704.0 459.4,1704.2 459.8,1704.3 460.2,1704.4 460.5,1704.6 460.9,1704.7 461.3,1704.8 461.7,1704.9 462.1,1705.0 462.5,1705.1 462.9,1705.2 463.3,1705.3 463.7,1705.4 464.1,1705.5 464.5,1705.6 464.9,1705.7 465.2,1705.8 465.6,1705.9 466.0,1706.0 466.4,1706.1 466.8,1706.2 467.2,1706.3 467.6,1706.3 468.0,1706.4 468.4,1706.5 468.8,1706.6 469.2,1706.7 469.6,1706.7 469.9,1706.8 470.3,1706.9 470.7,1706.9 471.1,1707.0 471.5,1707.1 471.9,1707.1 472.3,1707.2 472.7,1707.3 473.1,1707.3 473.5,1707.4 473.9,1707.4 474.2,1707.5 474.6,1707.6 475.0,1707.6 475.4,1707.7 475.8,1707.7 476.2,1707.8 476.6,1707.8 477.0,1707.9 477.4,1707.9 477.8,1708.0 478.2,1708.0 478.6,1708.1 478.9,1708.1 479.3,1708.2 479.7,1708.2 480.1,1708.3 480.5,1708.3 480.9,1708.3 481.3,1708.4 481.7,1708.4 482.1,1708.5 482.5,1708.5 482.9,1708.5 483.3,1708.6 483.6,1708.6 484.0,1708.7 484.4,1708.7 484.8,1708.7 485.2,1708.8 485.6,1708.8 486.0,1708.8 486.4,1708.9 486.8,1708.9 487.2,1708.9 487.6,1709.0 488.0,1709.0 488.3,1709.0 488.7,1709.1 489.1,1709.1 489.5,1709.1 489.9,1709.2 490.3,1709.2 490.7,1709.2 491.1,1709.3 491.5,1709.3 491.9,1709.3 492.3,1709.3 492.6,1709.4 493.0,1709.4 493.4,1709.4 493.8,1709.4 494.2,1709.5 494.6,1709.5 495.0,1709.5 495.4,1709.6 495.8,1709.6 496.2,1709.6 496.6,1709.6 497.0,1709.7 497.3,1709.7 497.7,1709.7 498.1,1709.7 498.5,1709.7 498.9,1709.8 499.3,1709.8 499.7,1709.8 500.1,1709.8 500.5,1709.9 500.9,1709.9 501.3,1709.9 501.7,1709.9 502.0,1709.9 502.4,1710.0 502.8,1710.0 503.2,1710.0 503.6,1710.0 504.0,1710.0 504.4,1710.1 504.8,1710.1 505.2,1710.1 505.6,1710.1 506.0,1710.1 506.4,1710.2 506.7,1710.2 507.1,1710.2 507.5,1710.2 507.9,1710.2 508.3,1710.2 508.7,1710.3 509.1,1710.3 509.5,1710.3 509.9,1710.3 510.3,1710.3 510.7,1710.3 511.0,1710.4 511.4,1710.4 511.8,1710.4 512.2,1710.4 512.6,1710.4 513.0,1710.4 513.4,1710.4 513.8,1710.5 514.2,1710.5 514.6,1710.5 515.0,1710.5 515.4,1710.5 515.7,1710.5 516.1,1710.6 516.5,1710.6 516.9,1710.6 517.3,1710.6 517.7,1710.6 518.1,1710.6 518.5,1710.6 518.9,1710.6 519.3,1710.7 519.7,1710.7 520.1,1710.7 520.4,1710.7 520.8,1710.7 521.2,1710.7 521.6,1710.7 522.0,1710.7 522.4,1710.8 522.8,1710.8 523.2,1710.8 523.6,1710.8 524.0,1710.8 524.4,1710.8 524.8,1710.8 525.1,1710.8 525.5,1710.9 525.9,1710.9 526.3,1710.9 526.7,1710.9 527.1,1710.9 527.5,1710.9 527.9,1710.9 528.3,1710.9 528.7,1710.9 529.1,1711.0 529.4,1711.0 529.8,1711.0 530.2,1711.0 530.6,1711.0 531.0,1711.0 531.4,1711.0 531.8,1711.0 532.2,1711.0 532.6,1711.0 533.0,1711.1 533.4,1711.1 533.8,1711.1 534.1,1711.1 534.5,1711.1 534.9,1711.1 535.3,1711.1 535.7,1711.1 536.1,1711.1 536.5,1711.1 536.9,1711.2 537.3,1711.2 537.7,1711.2 538.1,1711.2 538.5,1711.2 538.8,1711.2 539.2,1711.2 539.6,1711.2 540.0,1711.2 540.4,1711.2 540.8,1711.2 541.2,1711.2 541.6,1711.3 542.0,1711.3 542.4,1711.3 542.8,1711.3 543.2,1711.3 543.5,1711.3 543.9,1711.3 544.3,1711.3 544.7,1711.3 545.1,1711.3 545.5,1711.3 545.9,1711.3 546.3,1711.3 546.7,1711.4 547.1,1711.4 547.5,1711.4 547.9,1711.4 548.2,1711.4 548.6,1711.4 549.0,1711.4 549.4,1711.4 549.8,1711.4 550.2,1711.4 550.6,1711.4 551.0,1711.4 551.4,1711.4 551.8,1711.4 552.2,1711.5 552.5,1711.5 552.9,1711.5 553.3,1711.5 553.7,1711.5 554.1,1711.5 554.5,1711.5 554.9,1711.5 555.3,1711.5 555.7,1711.5 556.1,1711.5 556.5,1711.5 556.9,1711.5 557.2,1711.5 557.6,1711.5 558.0,1711.6 558.4,1711.6 558.8,1711.6 559.2,1711.6 559.6,1711.6 560.0,1711.6 560.4,1711.6 560.8,1711.6 561.2,1711.6 561.6,1711.6 561.9,1711.6 562.3,1711.6 562.7,1711.6 563.1,1711.6 563.5,1711.6 563.9,1711.6 564.3,1711.6 564.7,1711.7 565.1,1711.7 565.5,1711.7 565.9,1711.7 566.3,1711.7 566.6,1711.7 567.0,1711.7 567.4,1711.7 567.8,1711.7 568.2,1711.7 568.6,1711.7 569.0,1711.7 569.4,1711.7 569.8,1711.7 570.2,1711.7 570.6,1711.7 570.9,1711.7 571.3,1711.7 571.7,1711.7 572.1,1711.8 572.5,1711.8 572.9,1711.8 573.3,1711.8 573.7,1711.8 574.1,1711.8 574.5,1711.8 574.9,1711.8 575.3,1711.8 575.6,1711.8 576.0,1711.8 576.4,1711.8 576.8,1711.8 577.2,1711.8 577.6,1711.8 578.0,1711.8 578.4,1711.8 578.8,1711.8 579.2,1711.8 579.6,1711.8 580.0,1711.8 580.3,1711.9 580.7,1711.9 581.1,1711.9 581.5,1711.9 581.9,1711.9 582.3,1711.9 582.7,1711.9 583.1,1711.9 583.5,1711.9 583.9,1711.9 584.3,1711.9 584.7,1711.9 585.0,1711.9 585.4,1711.9 585.8,1711.9 586.2,1711.9 586.6,1711.9 587.0,1711.9 587.4,1711.9 587.8,1711.9 588.2,1711.9 588.6,1711.9 589.0,1711.9 589.3,1711.9 589.7,1711.9 590.1,1712.0 590.5,1712.0 590.9,1712.0 591.3,1712.0 591.7,1712.0 592.1,1712.0 592.5,1712.0 592.9,1712.0 593.3,1712.0 593.7,1712.0 594.0,1712.0 594.4,1712.0 594.8,1712.0 595.2,1712.0 595.6,1712.0 596.0,1712.0 596.4,1712.0 596.8,1712.0 597.2,1712.0 597.6,1712.0 598.0,1712.0 598.4,1712.0 598.7,1712.0 599.1,1712.0 599.5,1712.0 599.9,1712.0 600.3,1712.0 600.7,1712.0 601.1,1712.1 601.5,1712.1 601.9,1712.1 602.3,1712.1 602.7,1712.1 603.1,1712.1 603.4,1712.1 603.8,1712.1 604.2,1712.1 604.6,1712.1 605.0,1712.1 605.4,1712.1 605.8,1712.1 606.2,1712.1 606.6,1712.1 607.0,1712.1 607.4,1712.1 607.7,1712.1 608.1,1712.1 608.5,1712.1 608.9,1712.1 609.3,1712.1 609.7,1712.1 610.1,1712.1 610.5,1712.1 610.9,1712.1 611.3,1712.1 611.7,1712.1 612.1,1712.1 612.4,1712.1 612.8,1712.1 613.2,1712.1 613.6,1712.1 614.0,1712.2 614.4,1712.2 614.8,1712.2 615.2,1712.2 615.6,1712.2 616.0,1712.2 616.4,1712.2 616.8,1712.2 617.1,1712.2 617.5,1712.2 617.9,1712.2 618.3,1712.2 618.7,1712.2 619.1,1712.2 619.5,1712.2 619.9,1712.2 620.3,1712.2 620.7,1712.2 621.1,1712.2 621.5,1712.2 621.8,1712.2 622.2,1712.2 622.6,1712.2 623.0,1712.2 623.4,1712.2 623.8,1712.2 624.2,1712.2 624.6,1712.2 625.0,1712.2 625.4,1712.2 625.8,1712.2 626.2,1712.2 626.5,1712.2 626.9,1712.2 627.3,1712.2 627.7,1712.2 628.1,1712.2 628.5,1712.2 628.9,1712.2 629.3,1712.2 629.7,1712.2 630.1,1712.3 630.5,1712.3 630.8,1712.3 631.2,1712.3 631.6,1712.3 632.0,1712.3 632.4,1712.3 632.8,1712.3 633.2,1712.3 633.6,1712.3 634.0,1712.3 634.4,1712.3 634.8,1712.3 635.2,1712.3 635.5,1712.3 635.9,1712.3 636.3,1712.3 636.7,1712.3 637.1,1712.3 637.5,1712.3 637.9,1712.3 638.3,1712.3 638.7,1712.3 639.1,1712.3 639.5,1712.3 639.9,1712.3 640.2,1712.3 640.6,1712.3 641.0,1712.3 641.4,1712.3 641.8,1712.3 642.2,1712.3 642.6,1712.3 643.0,1712.3 643.4,1712.3 643.8,1712.3 644.2,1712.3 644.6,1712.3 644.9,1712.3 645.3,1712.3 645.7,1712.3 646.1,1712.3 646.5,1712.3 646.9,1712.3 647.3,1712.3 647.7,1712.3 648.1,1712.3 648.5,1712.3 648.9,1712.3 649.2,1712.3 649.6,1712.3 650.0,1712.4 650.4,1712.4 650.8,1712.4 651.2,1712.4 651.6,1712.4 652.0,1712.4 652.4,1712.4 652.8,1712.4 653.2,1712.4 653.6,1712.4 653.9,1712.4 654.3,1712.4 654.7,1712.4 655.1,1712.4 655.5,1712.4 655.9,1712.4 656.3,1712.4 656.7,1712.4 657.1,1712.4 657.5,1712.4 657.9,1712.4 658.3,1712.4 658.6,1712.4 659.0,1712.4 659.4,1712.4 659.8,1712.4 660.2,1712.4 660.6,1712.4 661.0,1712.4 661.4,1712.4 661.8,1712.4 662.2,1712.4 662.6,1712.4 663.0,1712.4 663.3,1712.4 663.7,1712.4 664.1,1712.4 664.5,1712.4 664.9,1712.4 665.3,1712.4 665.7,1712.4 666.1,1712.4 666.5,1712.4 666.9,1712.4 667.3,1712.4 667.6,1712.4 668.0,1712.4 668.4,1712.4 668.8,1712.4 669.2,1712.4 669.6,1712.4 670.0,1712.4 670.4,1712.4 670.8,1712.4 671.2,1712.4 671.6,1712.4 672.0,1712.4 672.3,1712.4 672.7,1712.4 673.1,1712.4 673.5,1712.4 673.9,1712.4 674.3,1712.4 674.7,1712.4 675.1,1712.4 675.5,1712.4 675.9,1712.4 676.3,1712.4 676.7,1712.4 677.0,1712.4 677.4,1712.5 677.8,1712.5 678.2,1712.5 678.6,1712.5 679.0,1712.5 679.4,1712.5 679.8,1712.5 680.2,1712.5 680.6,1712.5 681.0,1712.5 681.4,1712.5 681.7,1712.5 682.1,1712.5 682.5,1712.5 682.9,1712.5 683.3,1712.5 683.7,1712.5 684.1,1712.5 684.5,1712.5 684.9,1712.5 685.3,1712.5 685.7,1712.5 686.0,1712.5 686.4,1712.5 686.8,1712.5 687.2,1712.5 687.6,1712.5 688.0,1712.5 688.4,1712.5 688.8,1712.5 689.2,1712.5 689.6,1712.5 690.0,1712.5 690.4,1712.5 690.7,1712.5 691.1,1712.5 691.5,1712.5 691.9,1712.5 692.3,1712.5 692.7,1712.5 693.1,1712.5 693.5,1712.5 693.9,1712.5 694.3,1712.5 694.7,1712.5 695.1,1712.5 695.4,1712.5 695.8,1712.5 696.2,1712.5 696.6,1712.5 697.0,1712.5 697.4,1712.5 697.8,1712.5 698.2,1712.5 698.6,1712.5 699.0,1712.5 699.4,1712.5 699.8,1712.5 700.1,1712.5 700.5,1712.5 700.9,1712.5 701.3,1712.5 701.7,1712.5 702.1,1712.5 702.5,1712.5 702.9,1712.5 703.3,1712.5 703.7,1712.5 704.1,1712.5 704.5,1712.5 704.8,1712.5 705.2,1712.5 705.6,1712.5 706.0,1712.5 706.4,1712.5 706.8,1712.5 707.2,1712.5 707.6,1712.5 708.0,1712.5 708.4,1712.5 708.8,1712.5 709.1,1712.5 709.5,1712.5 709.9,1712.5 710.3,1712.5 710.7,1712.5 711.1,1712.5 711.5,1712.5 711.9,1712.5 712.3,1712.5 712.7,1712.5 713.1,1712.5 713.5,1712.5 713.8,1712.5 714.2,1712.5 714.6,1712.5 715.0,1712.5 715.4,1712.5 715.8,1712.5 716.2,1712.5 716.6,1712.5 717.0,1712.5 717.4,1712.5 717.8,1712.5 718.2,1712.5 718.5,1712.5 718.9,1712.5 719.3,1712.5 719.7,1712.5 720.1,1712.5 720.5,1712.5 720.9,1712.5 721.3,1712.5 721.7,1712.5 722.1,1712.5 722.5,1712.5 722.9,1712.5 723.2,1712.5 723.6,1712.5 724.0,1712.5 724.4,1712.5 724.8,1712.5 725.2,1712.5 725.6,1712.5 726.0,1712.5 726.4,1712.5 726.8,1712.5 727.2,1712.5 727.5,1712.6 727.9,1712.6 728.3,1712.6 728.7,1712.6 729.1,1712.6 729.5,1712.6 729.9,1712.6 730.3,1712.6 730.7,1712.6 731.1,1712.6 731.5,1712.6 731.9,1712.6 732.2,1712.6 732.6,1712.6 733.0,1712.6 733.4,1712.6 733.8,1712.6 734.2,1712.6 734.6,1712.6 735.0,1712.6 735.4,1712.6 735.8,1712.6 736.2,1712.6 736.6,1712.6 736.9,1712.6 737.3,1712.6 737.7,1712.6 738.1,1712.6 738.5,1712.6 738.9,1712.6 739.3,1712.6 739.7,1712.6 740.1,1712.6 740.5,1712.6 740.9,1712.6 741.3,1712.6 741.6,1712.6 742.0,1712.6 742.4,1712.6 742.8,1712.6 743.2,1712.6 743.6,1712.6 744.0,1712.6 744.4,1712.6 744.8,1712.6 745.2,1712.6 745.6,1712.6 745.9,1712.6 746.3,1712.6 746.7,1712.6 747.1,1712.6 747.5,1712.6 747.9,1712.6 748.3,1712.6 748.7,1712.6 749.1,1712.6 749.5,1712.6 749.9,1712.6 750.3,1712.6 750.6,1712.6 751.0,1712.6 751.4,1712.6 751.8,1712.6 752.2,1712.6 752.6,1712.6 753.0,1712.6 753.4,1712.6 753.8,1712.6 754.2,1712.6 754.6,1712.6 755.0,1712.6 755.3,1712.6 755.7,1712.6 756.1,1712.6 756.5,1712.6 756.9,1712.6 757.3,1712.6 757.7,1712.6 758.1,1712.6 758.5,1712.6 758.9,1712.6 759.3,1712.6 759.7,1712.6 760.0,1712.6 760.4,1712.6 760.8,1712.6 761.2,1712.6 761.6,1712.6 762.0,1712.6 762.4,1712.6 762.8,1712.6 763.2,1712.6 763.6,1712.6 764.0,1712.6 764.3,1712.6 764.7,1712.6 765.1,1712.6 765.5,1712.6 765.9,1712.6 766.3,1712.6 766.7,1712.6 767.1,1712.6 767.5,1712.6 767.9,1712.6 768.3,1712.6 768.7,1712.6 769.0,1712.6 769.4,1712.6 769.8,1712.6 770.2,1712.6 770.6,1712.6 771.0,1712.6 771.4,1712.6 771.8,1712.6 772.2,1712.6 772.6,1712.6 773.0,1712.6 773.4,1712.6 773.7,1712.6 774.1,1712.6 774.5,1712.6 774.9,1712.6 775.3,1712.6 775.7,1712.6 776.1,1712.6 776.5,1712.6 776.9,1712.6 777.3,1712.6 777.7,1712.6 778.1,1712.6 778.4,1712.6 778.8,1712.6 779.2,1712.6 779.6,1712.6 780.0,1712.6 780.4,1712.6 780.8,1712.6 781.2,1712.6 781.6,1712.6 782.0,1712.6 782.4,1712.6 782.8,1712.6 783.1,1712.6 783.5,1712.6 783.9,1712.6 784.3,1712.6 784.7,1712.6 785.1,1712.6 785.5,1712.6 785.9,1712.6 786.3,1712.6 786.7,1712.6 787.1,1712.6 787.4,1712.6 787.8,1712.6 788.2,1712.6 788.6,1712.6 789.0,1712.6 789.4,1712.6 789.8,1712.6 790.2,1712.6 790.6,1712.6 791.0,1712.6 791.4,1712.6 791.8,1712.6 792.1,1712.6 792.5,1712.6 792.9,1712.6 793.3,1712.6 793.7,1712.6 794.1,1712.6 794.5,1712.6 794.9,1712.6 795.3,1712.6 795.7,1712.6 796.1,1712.6 796.5,1712.6 796.8,1712.6 797.2,1712.6 797.6,1712.6 798.0,1712.6 798.4,1712.6 798.8,1712.6 799.2,1712.6 799.6,1712.6 800.0,1712.6 800.4,1712.6 800.8,1712.6 801.2,1712.5 801.5,1712.5 801.9,1712.5 802.3,1712.5 802.7,1712.5 803.1,1712.5 803.5,1712.5 803.9,1712.5 804.3,1712.5 804.7,1712.5 805.1,1712.5 805.5,1712.5 805.8,1712.5 806.2,1712.5 806.6,1712.5 807.0,1712.5 807.4,1712.5 807.8,1712.5 808.2,1712.5 808.6,1712.5 809.0,1712.5 809.4,1712.5 809.8,1712.5 810.2,1712.5 810.5,1712.5 810.9,1712.5 811.3,1712.5 811.7,1712.5 812.1,1712.5 812.5,1712.5 812.9,1712.5 813.3,1712.5 813.7,1712.5 814.1,1712.5 814.5,1712.5 814.9,1712.5 815.2,1712.5 815.6,1712.5 816.0,1712.5 816.4,1712.5 816.8,1712.5 817.2,1712.5 817.6,1712.5 818.0,1712.5 818.4,1712.5 818.8,1712.5 819.2,1712.5 819.6,1712.5 819.9,1712.5 820.3,1712.5 820.7,1712.5 821.1,1712.5 821.5,1712.5 821.9,1712.5 822.3,1712.5 822.7,1712.5 823.1,1712.5 823.5,1712.5 823.9,1712.5 824.2,1712.5 824.6,1712.5 825.0,1712.5 825.4,1712.5 825.8,1712.5 826.2,1712.5 826.6,1712.5 827.0,1712.5 827.4,1712.5 827.8,1712.5 828.2,1712.5 828.6,1712.5 828.9,1712.5 829.3,1712.5 829.7,1712.5 830.1,1712.5 830.5,1712.5 830.9,1712.5 831.3,1712.5 831.7,1712.5 832.1,1712.5 832.5,1712.5 832.9,1712.5 833.3,1712.5 833.6,1712.5 834.0,1712.5 834.4,1712.5 834.8,1712.5 835.2,1712.5 835.6,1712.5 836.0,1712.5 836.4,1712.5 836.8,1712.5 837.2,1712.5 837.6,1712.5 838.0,1712.5 838.3,1712.5 838.7,1712.5 839.1,1712.5 839.5,1712.5 839.9,1712.5 840.3,1712.5 840.7,1712.5 841.1,1712.5 841.5,1712.5 841.9,1712.5 842.3,1712.5 842.6,1712.5 843.0,1712.5 843.4,1712.5 843.8,1712.5 844.2,1712.5 844.6,1712.5 845.0,1712.5 845.4,1712.5 845.8,1712.5 846.2,1712.5 846.6,1712.5 847.0,1712.5 847.3,1712.5 847.7,1712.5 848.1,1712.4 848.5,1712.4 848.9,1712.4 849.3,1712.4 849.7,1712.4 850.1,1712.4 850.5,1712.4 850.9,1712.4 851.3,1712.4 851.7,1712.4 852.0,1712.4 852.4,1712.4 852.8,1712.4 853.2,1712.4 853.6,1712.4 854.0,1712.4 854.4,1712.4 854.8,1712.4 855.2,1712.4 855.6,1712.4 856.0,1712.4 856.4,1712.4 856.7,1712.4 857.1,1712.4 857.5,1712.4 857.9,1712.4 858.3,1712.4 858.7,1712.4 859.1,1712.4 859.5,1712.4 859.9,1712.4 860.3,1712.4 860.7,1712.4 861.1,1712.4 861.4,1712.4 861.8,1712.4 862.2,1712.4 862.6,1712.4 863.0,1712.4 863.4,1712.4 863.8,1712.4 864.2,1712.4 864.6,1712.4 865.0,1712.4 865.4,1712.4 865.7,1712.4 866.1,1712.4 866.5,1712.4 866.9,1712.4 867.3,1712.4 867.7,1712.4 868.1,1712.4 868.5,1712.4 868.9,1712.4 869.3,1712.4 869.7,1712.4 870.1,1712.4 870.4,1712.4 870.8,1712.4 871.2,1712.4 871.6,1712.4 872.0,1712.4 872.4,1712.3 872.8,1712.3 873.2,1712.3 873.6,1712.3 874.0,1712.3 874.4,1712.3 874.8,1712.3 875.1,1712.3 875.5,1712.3 875.9,1712.3 876.3,1712.3 876.7,1712.3 877.1,1712.3 877.5,1712.3 877.9,1712.3 878.3,1712.3 878.7,1712.3 879.1,1712.3 879.5,1712.3 879.8,1712.3 880.2,1712.3 880.6,1712.3 881.0,1712.3 881.4,1712.3 881.8,1712.3 882.2,1712.3 882.6,1712.3 883.0,1712.3 883.4,1712.3 883.8,1712.3 884.1,1712.3 884.5,1712.3 884.9,1712.3 885.3,1712.3 885.7,1712.3 886.1,1712.3 886.5,1712.3 886.9,1712.3 887.3,1712.3 887.7,1712.3 888.1,1712.3 888.5,1712.3 888.8,1712.3 889.2,1712.3 889.6,1712.2 890.0,1712.2 890.4,1712.2 890.8,1712.2 891.2,1712.2 891.6,1712.2 892.0,1712.2 892.4,1712.2 892.8,1712.2 893.2,1712.2 893.5,1712.2 893.9,1712.2 894.3,1712.2 894.7,1712.2 895.1,1712.2 895.5,1712.2 895.9,1712.2 896.3,1712.2 896.7,1712.2 897.1,1712.2 897.5,1712.2 897.9,1712.2 898.2,1712.2 898.6,1712.2 899.0,1712.2 899.4,1712.2 899.8,1712.2 900.2,1712.2 900.6,1712.2 901.0,1712.2 901.4,1712.2 901.8,1712.2 902.2,1712.2 902.5,1712.1 902.9,1712.1 903.3,1712.1 903.7,1712.1 904.1,1712.1 904.5,1712.1 904.9,1712.1 905.3,1712.1 905.7,1712.1 906.1,1712.1 906.5,1712.1 906.9,1712.1 907.2,1712.1 907.6,1712.1 908.0,1712.1 908.4,1712.1 908.8,1712.1 909.2,1712.1 909.6,1712.1 910.0,1712.1 910.4,1712.1 910.8,1712.1 911.2,1712.1 911.6,1712.1 911.9,1712.1 912.3,1712.1 912.7,1712.1 913.1,1712.0 913.5,1712.0 913.9,1712.0 914.3,1712.0 914.7,1712.0 915.1,1712.0 915.5,1712.0 915.9,1712.0 916.3,1712.0 916.6,1712.0 917.0,1712.0 917.4,1712.0 917.8,1712.0 918.2,1712.0 918.6,1712.0 919.0,1712.0 919.4,1712.0 919.8,1712.0 920.2,1712.0 920.6,1712.0 920.9,1712.0 921.3,1712.0 921.7,1712.0 922.1,1711.9 922.5,1711.9 922.9,1711.9 923.3,1711.9 923.7,1711.9 924.1,1711.9 924.5,1711.9 924.9,1711.9 925.3,1711.9 925.6,1711.9 926.0,1711.9 926.4,1711.9 926.8,1711.9 927.2,1711.9 927.6,1711.9 928.0,1711.9 928.4,1711.9 928.8,1711.9 929.2,1711.9 929.6,1711.8 930.0,1711.8 930.3,1711.8 930.7,1711.8 931.1,1711.8 931.5,1711.8 931.9,1711.8 932.3,1711.8 932.7,1711.8 933.1,1711.8 933.5,1711.8 933.9,1711.8 934.3,1711.8 934.7,1711.8 935.0,1711.8 935.4,1711.8 935.8,1711.8 936.2,1711.7 936.6,1711.7 937.0,1711.7 937.4,1711.7 937.8,1711.7 938.2,1711.7 938.6,1711.7 939.0,1711.7 939.3,1711.7 939.7,1711.7 940.1,1711.7 940.5,1711.7 940.9,1711.7 941.3,1711.7 941.7,1711.6 942.1,1711.6 942.5,1711.6 942.9,1711.6 943.3,1711.6 943.7,1711.6 944.0,1711.6 944.4,1711.6 944.8,1711.6 945.2,1711.6 945.6,1711.6 946.0,1711.6 946.4,1711.6 946.8,1711.5 947.2,1711.5 947.6,1711.5 948.0,1711.5 948.4,1711.5 948.7,1711.5 949.1,1711.5 949.5,1711.5 949.9,1711.5 950.3,1711.5 950.7,1711.5 951.1,1711.5 951.5,1711.4 951.9,1711.4 952.3,1711.4 952.7,1711.4 953.1,1711.4 953.4,1711.4 953.8,1711.4 954.2,1711.4 954.6,1711.4 955.0,1711.4 955.4,1711.4 955.8,1711.3 956.2,1711.3 956.6,1711.3 957.0,1711.3 957.4,1711.3 957.8,1711.3 958.1,1711.3 958.5,1711.3 958.9,1711.3 959.3,1711.2 959.7,1711.2 960.1,1711.2 960.5,1711.2 960.9,1711.2 961.3,1711.2 961.7,1711.2 962.1,1711.2 962.4,1711.2 962.8,1711.1 963.2,1711.1 963.6,1711.1 964.0,1711.1 964.4,1711.1 964.8,1711.1 965.2,1711.1 965.6,1711.1 966.0,1711.0 966.4,1711.0 966.8,1711.0 967.1,1711.0 967.5,1711.0 967.9,1711.0 968.3,1711.0 968.7,1711.0 969.1,1710.9 969.5,1710.9 969.9,1710.9 970.3,1710.9 970.7,1710.9 971.1,1710.9 971.5,1710.9 971.8,1710.8 972.2,1710.8 972.6,1710.8 973.0,1710.8 973.4,1710.8 973.8,1710.8 974.2,1710.7 974.6,1710.7 975.0,1710.7 975.4,1710.7 975.8,1710.7 976.2,1710.7 976.5,1710.6 976.9,1710.6 977.3,1710.6 977.7,1710.6 978.1,1710.6 978.5,1710.6 978.9,1710.5 979.3,1710.5 979.7,1710.5 980.1,1710.5 980.5,1710.5 980.8,1710.4 981.2,1710.4 981.6,1710.4 982.0,1710.4 982.4,1710.4 982.8,1710.3 983.2,1710.3 983.6,1710.3 984.0,1710.3 984.4,1710.3 984.8,1710.2 985.2,1710.2 985.5,1710.2 985.9,1710.2 986.3,1710.2 986.7,1710.1 987.1,1710.1 987.5,1710.1 987.9,1710.1 988.3,1710.0 988.7,1710.0 989.1,1710.0 989.5,1710.0 989.9,1709.9 990.2,1709.9 990.6,1709.9 991.0,1709.9 991.4,1709.8 991.8,1709.8 992.2,1709.8 992.6,1709.7 993.0,1709.7 993.4,1709.7 993.8,1709.7 994.2,1709.6 994.6,1709.6 994.9,1709.6 995.3,1709.5 995.7,1709.5 996.1,1709.5 996.5,1709.5 996.9,1709.4 997.3,1709.4 997.7,1709.4 998.1,1709.3 998.5,1709.3 998.9,1709.3 999.2,1709.2 999.6,1709.2 1000.0,1709.1 1000.4,1709.1 1000.8,1709.1 1001.2,1709.0 1001.6,1709.0 1002.0,1709.0 1002.4,1708.9 1002.8,1708.9 1003.2,1708.8 1003.6,1708.8 1003.9,1708.8 1004.3,1708.7 1004.7,1708.7 1005.1,1708.6 1005.5,1708.6 1005.9,1708.5 1006.3,1708.5 1006.7,1708.5 1007.1,1708.4 1007.5,1708.4 1007.9,1708.3 1008.3,1708.3 1008.6,1708.2 1009.0,1708.2 1009.4,1708.1 1009.8,1708.1 1010.2,1708.0 1010.6,1708.0 1011.0,1707.9 1011.4,1707.8 1011.8,1707.8 1012.2,1707.7 1012.6,1707.7 1013.0,1707.6 1013.3,1707.6 1013.7,1707.5 1014.1,1707.4 1014.5,1707.4 1014.9,1707.3 1015.3,1707.2 1015.7,1707.2 1016.1,1707.1 1016.5,1707.0 1016.9,1707.0 1017.3,1706.9 1017.7,1706.8 1018.0,1706.8 1018.4,1706.7 1018.8,1706.6 1019.2,1706.5 1019.6,1706.5 1020.0,1706.4 1020.4,1706.3 1020.8,1706.2 1021.2,1706.1 1021.6,1706.0 1022.0,1706.0 1022.3,1705.9 1022.7,1705.8 1023.1,1705.7 1023.5,1705.6 1023.9,1705.5 1024.3,1705.4 1024.7,1705.3 1025.1,1705.2 1025.5,1705.1 1025.9,1705.0 1026.3,1704.9 1026.7,1704.8 1027.0,1704.6 1027.4,1704.5 1027.8,1704.4 1028.2,1704.3 1028.6,1704.2 1029.0,1704.0 1029.4,1703.9 1029.8,1703.8 1030.2,1703.7 1030.6,1703.5 1031.0,1703.4 1031.4,1703.2 1031.7,1703.1 1032.1,1702.9 1032.5,1702.8 1032.9,1702.6 1033.3,1702.5 1033.7,1702.3 1034.1,1702.2 1034.5,1702.0 1034.9,1701.8 1035.3,1701.6 1035.7,1701.5 1036.1,1701.3 1036.4,1701.1 1036.8,1700.9 1037.2,1700.7 1037.6,1700.5 1038.0,1700.3 1038.4,1700.1 1038.8,1699.8 1039.2,1699.6 1039.6,1699.4 1040.0,1699.1 1040.4,1698.9 1040.7,1698.6 1041.1,1698.4 1041.5,1698.1 1041.9,1697.9 1042.3,1697.6 1042.7,1697.3 1043.1,1697.0 1043.5,1696.7 1043.9,1696.4 1044.3,1696.1 1044.7,1695.7 1045.1,1695.4 1045.4,1695.1 1045.8,1694.7 1046.2,1694.3 1046.6,1693.9 1047.0,1693.6 1047.4,1693.2 1047.8,1692.7 1048.2,1692.3 1048.6,1691.9 1049.0,1691.4 1049.4,1691.0 1049.8,1690.5 1050.1,1690.0 1050.5,1689.5 1050.9,1688.9 1051.3,1688.4 1051.7,1687.8 1052.1,1687.2 1052.5,1686.6 1052.9,1686.0 1053.3,1685.3 1053.7,1684.7 1054.1,1684.0 1054.5,1683.3 1054.8,1682.5 1055.2,1681.7 1055.6,1680.9 1056.0,1680.1 1056.4,1679.2 1056.8,1678.3 1057.2,1677.4 1057.6,1676.5 1058.0,1675.4 1058.4,1674.4 1058.8,1673.3 1059.1,1672.2 1059.5,1671.0 1059.9,1669.8 1060.3,1668.5 1060.7,1667.2 1061.1,1665.8 1061.5,1664.4 1061.9,1662.9 1062.3,1661.3 1062.7,1659.6 1063.1,1657.9 1063.5,1656.1 1063.8,1654.3 1064.2,1652.3 1064.6,1650.3 1065.0,1648.1 1065.4,1645.9 1065.8,1643.6 1066.2,1641.1 1066.6,1638.5 1067.0,1635.8 1067.4,1633.0 1067.8,1630.1 1068.2,1626.9 1068.5,1623.7 1068.9,1620.3 1069.3,1616.7 1069.7,1613.0 1070.1,1609.0 1070.5,1604.9 1070.9,1600.6 1071.3,1596.1 1071.7,1591.4 1072.1,1586.5 1072.5,1581.3 1072.9,1576.0 1073.2,1570.4 1073.6,1564.6 1074.0,1558.5 1074.4,1552.3 1074.8,1545.8 1075.2,1539.1 1075.6,1532.3 1076.0,1525.3 1076.4,1518.2 1076.8,1510.9 1077.2,1503.6 1077.5,1496.4 1077.9,1489.1 1078.3,1482.0 1078.7,1475.0 1079.1,1468.3 1079.5,1461.9 1079.9,1456.0 1080.3,1450.5 1080.7,1445.7 1081.1,1441.4 1081.5,1437.9 1081.9,1435.2 1082.2,1433.4 1082.6,1432.4 1083.0,1432.3 1083.4,1433.1 1083.8,1434.8 1084.2,1437.3 1084.6,1440.7 1085.0,1444.8 1085.4,1449.5 1085.8,1454.9 1086.2,1460.7 1086.6,1467.0 1086.9,1473.7 1087.3,1480.6 1087.7,1487.7 1088.1,1494.9 1088.5,1502.2 1088.9,1509.5 1089.3,1516.7 1089.7,1523.9 1090.1,1530.9 1090.5,1537.8 1090.9,1544.5 1091.3,1551.0 1091.6,1557.3 1092.0,1563.4 1092.4,1569.2 1092.8,1574.9 1093.2,1580.3 1093.6,1585.5 1094.0,1590.4 1094.4,1595.2 1094.8,1599.7 1095.2,1604.1 1095.6,1608.2 1095.9,1612.2 1096.3,1616.0 1096.7,1619.6 1097.1,1623.0 1097.5,1626.3 1097.9,1629.4 1098.3,1632.4 1098.7,1635.3 1099.1,1638.0 1099.5,1640.6 1099.9,1643.1 1100.3,1645.4 1100.6,1647.7 1101.0,1649.9 1101.4,1651.9 1101.8,1653.9 1102.2,1655.8 1102.6,1657.6 1103.0,1659.3 1103.4,1661.0 1103.8,1662.6 1104.2,1664.1 1104.6,1665.5 1105.0,1666.9 1105.3,1668.3 1105.7,1669.5 1106.1,1670.8 1106.5,1672.0 1106.9,1673.1 1107.3,1674.2 1107.7,1675.3 1108.1,1676.3 1108.5,1677.2 1108.9,1678.2 1109.3,1679.1 1109.7,1679.9 1110.0,1680.8 1110.4,1681.6 1110.8,1682.4 1111.2,1683.1 1111.6,1683.8 1112.0,1684.5 1112.4,1685.2 1112.8,1685.9 1113.2,1686.5 1113.6,1687.1 1114.0,1687.7 1114.4,1688.3 1114.7,1688.8 1115.1,1689.4 1115.5,1689.9 1115.9,1690.4 1116.3,1690.9 1116.7,1691.3 1117.1,1691.8 1117.5,1692.2 1117.9,1692.7 1118.3,1693.1 1118.7,1693.5 1119.0,1693.9 1119.4,1694.3 1119.8,1694.6 1120.2,1695.0 1120.6,1695.3 1121.0,1695.7 1121.4,1696.0 1121.8,1696.3 1122.2,1696.6 1122.6,1696.9 1123.0,1697.2 1123.4,1697.5 1123.7,1697.8 1124.1,1698.1 1124.5,1698.3 1124.9,1698.6 1125.3,1698.9 1125.7,1699.1 1126.1,1699.3 1126.5,1699.6 1126.9,1699.8 1127.3,1700.0 1127.7,1700.2 1128.1,1700.5 1128.4,1700.7 1128.8,1700.9 1129.2,1701.1 1129.6,1701.2 1130.0,1701.4 1130.4,1701.6 1130.8,1701.8 1131.2,1702.0 1131.6,1702.1 1132.0,1702.3 1132.4,1702.5 1132.8,1702.6 1133.1,1702.8 1133.5,1702.9 1133.9,1703.1 1134.3,1703.2 1134.7,1703.4 1135.1,1703.5 1135.5,1703.7 1135.9,1703.8 1136.3,1703.9 1136.7,1704.0 1137.1,1704.2 1137.4,1704.3 1137.8,1704.4 1138.2,1704.5 1138.6,1704.6 1139.0,1704.8 1139.4,1704.9 1139.8,1705.0 1140.2,1705.1 1140.6,1705.2 1141.0,1705.3 1141.4,1705.4 1141.8,1705.5 1142.1,1705.6 1142.5,1705.7 1142.9,1705.8 1143.3,1705.9 1143.7,1706.0 1144.1,1706.0 1144.5,1706.1 1144.9,1706.2 1145.3,1706.3 1145.7,1706.4 1146.1,1706.5 1146.5,1706.5 1146.8,1706.6 1147.2,1706.7 1147.6,1706.8 1148.0,1706.8 1148.4,1706.9 1148.8,1707.0 1149.2,1707.1 1149.6,1707.1 1150.0,1707.2 1150.4,1707.3 1150.8,1707.3 1151.2,1707.4 1151.5,1707.5 1151.9,1707.5 1152.3,1707.6 1152.7,1707.6 1153.1,1707.7 1153.5,1707.8 1153.9,1707.8 1154.3,1707.9 1154.7,1707.9 1155.1,1708.0 1155.5,1708.0 1155.8,1708.1 1156.2,1708.1 1156.6,1708.2 1157.0,1708.2 1157.4,1708.3 1157.8,1708.3 1158.2,1708.4 1158.6,1708.4 1159.0,1708.5 1159.4,1708.5 1159.8,1708.6 1160.2,1708.6 1160.5,1708.7 1160.9,1708.7 1161.3,1708.7 1161.7,1708.8 1162.1,1708.8 1162.5,1708.9 1162.9,1708.9 1163.3,1708.9 1163.7,1709.0 1164.1,1709.0 1164.5,1709.1 1164.9,1709.1 1165.2,1709.1 1165.6,1709.2 1166.0,1709.2 1166.4,1709.2 1166.8,1709.3 1167.2,1709.3 1167.6,1709.3 1168.0,1709.4 1168.4,1709.4 1168.8,1709.4 1169.2,1709.5 1169.6,1709.5 1169.9,1709.5 1170.3,1709.6 1170.7,1709.6 1171.1,1709.6 1171.5,1709.7 1171.9,1709.7 1172.3,1709.7 1172.7,1709.8 1173.1,1709.8 1173.5,1709.8 1173.9,1709.8 1174.2,1709.9 1174.6,1709.9 1175.0,1709.9 1175.4,1709.9 1175.8,1710.0 1176.2,1710.0 1176.6,1710.0 1177.0,1710.0 1177.4,1710.1 1177.8,1710.1 1178.2,1710.1 1178.6,1710.1 1178.9,1710.2 1179.3,1710.2 1179.7,1710.2 1180.1,1710.2 1180.5,1710.3 1180.9,1710.3 1181.3,1710.3 1181.7,1710.3 1182.1,1710.3 1182.5,1710.4 1182.9,1710.4 1183.3,1710.4 1183.6,1710.4 1184.0,1710.4 1184.4,1710.5 1184.8,1710.5 1185.2,1710.5 1185.6,1710.5 1186.0,1710.5 1186.4,1710.6 1186.8,1710.6 1187.2,1710.6 1187.6,1710.6 1188.0,1710.6 1188.3,1710.7 1188.7,1710.7 1189.1,1710.7 1189.5,1710.7 1189.9,1710.7 1190.3,1710.7 1190.7,1710.8 1191.1,1710.8 1191.5,1710.8 1191.9,1710.8 1192.3,1710.8 1192.7,1710.8 1193.0,1710.8 1193.4,1710.9 1193.8,1710.9 1194.2,1710.9 1194.6,1710.9 1195.0,1710.9 1195.4,1710.9 1195.8,1711.0 1196.2,1711.0 1196.6,1711.0 1197.0,1711.0 1197.3,1711.0 1197.7,1711.0 1198.1,1711.0 1198.5,1711.1 1198.9,1711.1 1199.3,1711.1 1199.7,1711.1 1200.1,1711.1 1200.5,1711.1 1200.9,1711.1 1201.3,1711.1 1201.7,1711.2 1202.0,1711.2 1202.4,1711.2 1202.8,1711.2 1203.2,1711.2 1203.6,1711.2 1204.0,1711.2 1204.4,1711.2 1204.8,1711.3 1205.2,1711.3 1205.6,1711.3 1206.0,1711.3 1206.4,1711.3 1206.7,1711.3 1207.1,1711.3 1207.5,1711.3 1207.9,1711.3 1208.3,1711.4 1208.7,1711.4 1209.1,1711.4 1209.5,1711.4 1209.9,1711.4 1210.3,1711.4 1210.7,1711.4 1211.1,1711.4 1211.4,1711.4 1211.8,1711.4 1212.2,1711.5 1212.6,1711.5 1213.0,1711.5 1213.4,1711.5 1213.8,1711.5 1214.2,1711.5 1214.6,1711.5 1215.0,1711.5 1215.4,1711.5 1215.7,1711.5 1216.1,1711.5 1216.5,1711.6 1216.9,1711.6 1217.3,1711.6 1217.7,1711.6 1218.1,1711.6 1218.5,1711.6 1218.9,1711.6 1219.3,1711.6 1219.7,1711.6 1220.1,1711.6 1220.4,1711.6 1220.8,1711.6 1221.2,1711.7 1221.6,1711.7 1222.0,1711.7 1222.4,1711.7 1222.8,1711.7 1223.2,1711.7 1223.6,1711.7 1224.0,1711.7 1224.4,1711.7 1224.8,1711.7 1225.1,1711.7 1225.5,1711.7 1225.9,1711.7 1226.3,1711.8 1226.7,1711.8 1227.1,1711.8 1227.5,1711.8 1227.9,1711.8 1228.3,1711.8 1228.7,1711.8 1229.1,1711.8 1229.5,1711.8 1229.8,1711.8 1230.2,1711.8 1230.6,1711.8 1231.0,1711.8 1231.4,1711.8 1231.8,1711.8 1232.2,1711.9 1232.6,1711.9 1233.0,1711.9 1233.4,1711.9 1233.8,1711.9 1234.1,1711.9 1234.5,1711.9 1234.9,1711.9 1235.3,1711.9 1235.7,1711.9 1236.1,1711.9 1236.5,1711.9 1236.9,1711.9 1237.3,1711.9 1237.7,1711.9 1238.1,1711.9 1238.5,1711.9 1238.8,1712.0 1239.2,1712.0 1239.6,1712.0 1240.0,1712.0 1240.4,1712.0 1240.8,1712.0 1241.2,1712.0 1241.6,1712.0 1242.0,1712.0 1242.4,1712.0 1242.8,1712.0 1243.2,1712.0 1243.5,1712.0 1243.9,1712.0 1244.3,1712.0 1244.7,1712.0 1245.1,1712.0 1245.5,1712.0 1245.9,1712.0 1246.3,1712.0 1246.7,1712.1 1247.1,1712.1 1247.5,1712.1 1247.9,1712.1 1248.2,1712.1 1248.6,1712.1 1249.0,1712.1 1249.4,1712.1 1249.8,1712.1 1250.2,1712.1 1250.6,1712.1 1251.0,1712.1 1251.4,1712.1 1251.8,1712.1 1252.2,1712.1 1252.6,1712.1 1252.9,1712.1 1253.3,1712.1 1253.7,1712.1 1254.1,1712.1 1254.5,1712.1 1254.9,1712.1 1255.3,1712.2 1255.7,1712.2 1256.1,1712.2 1256.5,1712.2 1256.9,1712.2 1257.2,1712.2 1257.6,1712.2 1258.0,1712.2 1258.4,1712.2 1258.8,1712.2 1259.2,1712.2 1259.6,1712.2 1260.0,1712.2 1260.4,1712.2 1260.8,1712.2 1261.2,1712.2 1261.6,1712.2 1261.9,1712.2 1262.3,1712.2 1262.7,1712.2 1263.1,1712.2 1263.5,1712.2 1263.9,1712.2 1264.3,1712.2 1264.7,1712.2 1265.1,1712.2 1265.5,1712.3 1265.9,1712.3 1266.3,1712.3 1266.6,1712.3 1267.0,1712.3 1267.4,1712.3 1267.8,1712.3 1268.2,1712.3 1268.6,1712.3 1269.0,1712.3 1269.4,1712.3 1269.8,1712.3 1270.2,1712.3 1270.6,1712.3 1271.0,1712.3 1271.3,1712.3 1271.7,1712.3 1272.1,1712.3 1272.5,1712.3 1272.9,1712.3 1273.3,1712.3 1273.7,1712.3 1274.1,1712.3 1274.5,1712.3 1274.9,1712.3 1275.3,1712.3 1275.6,1712.3 1276.0,1712.3 1276.4,1712.3 1276.8,1712.3 1277.2,1712.3 1277.6,1712.3 1278.0,1712.4 1278.4,1712.4 1278.8,1712.4 1279.2,1712.4 1279.6,1712.4 1280.0,1712.4 1280.3,1712.4 1280.7,1712.4 1281.1,1712.4 1281.5,1712.4 1281.9,1712.4 1282.3,1712.4 1282.7,1712.4 1283.1,1712.4 1283.5,1712.4 1283.9,1712.4 1284.3,1712.4 1284.7,1712.4 1285.0,1712.4 1285.4,1712.4 1285.8,1712.4 1286.2,1712.4 1286.6,1712.4 1287.0,1712.4 1287.4,1712.4 1287.8,1712.4 1288.2,1712.4 1288.6,1712.4 1289.0,1712.4 1289.4,1712.4 1289.7,1712.4 1290.1,1712.4 1290.5,1712.4 1290.9,1712.4 1291.3,1712.4 1291.7,1712.4"/>
<rect x="195.5" y="1416.3" width="1096.2" height="300.7" fill="none" stroke="#2b2b2b" stroke-width="4"/>
<path d="M195.5,1717.0h20.5M195.5,1686.9h10.3M195.5,1656.9h20.5M195.5,1626.8h10.3M195.5,1596.7h20.5M195.5,1566.7h10.3M195.5,1536.6h20.5M195.5,1506.5h10.3M195.5,1476.4h20.5M195.5,1446.4h10.3M195.5,1416.3h20.5" stroke="#1e1e1e" stroke-width="3.5" fill="none"/>
<text x="172.3" y="1729.5" text-anchor="end" font-size="46.5" font-weight="bold">0.0</text>
<text x="172.3" y="1669.4" text-anchor="end" font-size="46.5" font-weight="bold">0.2</text>
<text x="172.3" y="1609.2" text-anchor="end" font-size="46.5" font-weight="bold">0.4</text>
<text x="172.3" y="1549.1" text-anchor="end" font-size="46.5" font-weight="bold">0.6</text>
<text x="172.3" y="1488.9" text-anchor="end" font-size="46.5" font-weight="bold">0.8</text>
<text x="172.3" y="1428.8" text-anchor="end" font-size="46.5" font-weight="bold">1.0</text>
<line x1="529.5" y1="1454.4" x2="654" y2="1454.4" stroke="#141414" stroke-width="6" stroke-linecap="round"/>
<text x="668.5" y="1473.7" font-size="56.5" fill="#141414">R=0.112 μm</text>
<path d="M195.5,1717.0v-20M273.8,1717.0v-10M352.1,1717.0v-20M430.4,1717.0v-10M508.7,1717.0v-20M587.0,1717.0v-10M665.3,1717.0v-20M743.6,1717.0v-10M821.9,1717.0v-20M900.2,1717.0v-10M978.5,1717.0v-20M1056.8,1717.0v-10M1135.1,1717.0v-20M1213.4,1717.0v-10M1291.7,1717.0v-20" stroke="#1e1e1e" stroke-width="3" fill="none"/>
<text x="195.0" y="1774.8" text-anchor="middle" font-size="46.5" font-weight="bold">2.6</text>
<text x="351.6" y="1774.8" text-anchor="middle" font-size="46.5" font-weight="bold">2.8</text>
<text x="508.2" y="1774.8" text-anchor="middle" font-size="46.5" font-weight="bold">3.0</text>
<text x="664.8" y="1774.8" text-anchor="middle" font-size="46.5" font-weight="bold">3.2</text>
<text x="821.4" y="1774.8" text-anchor="middle" font-size="46.5" font-weight="bold">3.4</text>
<text x="978.0" y="1774.8" text-anchor="middle" font-size="46.5" font-weight="bold">3.6</text>
<text x="1134.6" y="1774.8" text-anchor="middle" font-size="46.5" font-weight="bold">3.8</text>
<text x="1291.2" y="1774.8" text-anchor="middle" font-size="46.5" font-weight="bold">4.0</text>
<text transform="translate(274.8,435.3) scale(1.0500,1)" text-anchor="middle" font-size="53.8" font-weight="bold">I</text>
<text transform="translate(456.7,435.3) scale(1.0500,1)" text-anchor="middle" font-size="53.8" font-weight="bold">II</text>
<text transform="translate(1100.4,435.3) scale(1.0500,1)" text-anchor="middle" font-size="53.8" font-weight="bold">III</text>
<text transform="translate(86.3,1084.4) rotate(-90) scale(1.0160,1)" font-size="88.2" font-weight="bold">Absorption</text>
<text transform="translate(388.0,1856.9) scale(1.0330,1)" font-size="84.1" font-weight="bold">Wavelength (μm)</text>
<text transform="translate(677.0,1931.4) scale(1.0500,1)" font-size="74" font-weight="bold">(a)</text>
<polyline fill="none" stroke="#505050" stroke-width="3.5" stroke-linejoin="round" points="1605.8,246.4 1781.0,245.2 1956.1,251.0 2131.2,327.5 2306.2,280.0"/>
<rect x="1598.5" y="239.1" width="14.6" height="14.6" fill="#505050"/>
<rect x="1773.7" y="237.9" width="14.6" height="14.6" fill="#505050"/>
<rect x="1948.8" y="243.7" width="14.6" height="14.6" fill="#505050"/>
<rect x="2123.8" y="320.2" width="14.6" height="14.6" fill="#505050"/>
<rect x="2298.9" y="272.7" width="14.6" height="14.6" fill="#505050"/>
<polyline fill="none" stroke="#E23F3A" stroke-width="3.5" stroke-linejoin="round" points="1605.8,435.5 1781.0,259.7 1956.1,256.0 2131.2,311.2 2306.2,248.4"/>
<circle cx="1605.8" cy="435.5" r="7.5" fill="#EE3B3B"/>
<circle cx="1781.0" cy="259.7" r="7.5" fill="#EE3B3B"/>
<circle cx="1956.1" cy="256.0" r="7.5" fill="#EE3B3B"/>
<circle cx="2131.2" cy="311.2" r="7.5" fill="#EE3B3B"/>
<circle cx="2306.2" cy="248.4" r="7.5" fill="#EE3B3B"/>
<polyline fill="none" stroke="#3F5E9E" stroke-width="3.5" stroke-linejoin="round" points="1605.8,371.9 1781.0,222.5 1956.1,276.2 2131.2,351.5 2306.2,715.1"/>
<path d="M1605.8,361.4L1614.8,377.4L1596.8,377.4Z" fill="#3F62A6"/>
<path d="M1781.0,212.0L1790.0,228.0L1772.0,228.0Z" fill="#3F62A6"/>
<path d="M1956.1,265.7L1965.1,281.7L1947.1,281.7Z" fill="#3F62A6"/>
<path d="M2131.2,341.0L2140.2,357.0L2122.2,357.0Z" fill="#3F62A6"/>
<path d="M2306.2,704.6L2315.2,720.6L2297.2,720.6Z" fill="#3F62A6"/>
<rect x="1518.3" y="46.2" width="875.5" height="704.6" fill="none" stroke="#2a2a2a" stroke-width="3"/>
<path d="M1518.3,750.8h13M1518.3,706.8h6.5M1518.3,662.7h13M1518.3,618.7h6.5M1518.3,574.6h13M1518.3,530.6h6.5M1518.3,486.6h13M1518.3,442.5h6.5M1518.3,398.5h13M1518.3,354.5h6.5M1518.3,310.4h13M1518.3,266.4h6.5M1518.3,222.3h13M1518.3,178.3h6.5M1518.3,134.3h13M1518.3,90.2h6.5M1518.3,46.2h13M1605.8,750.8v-13.5M1693.4,750.8v-6M1781.0,750.8v-13.5M1868.5,750.8v-6M1956.1,750.8v-13.5M2043.6,750.8v-6M2131.2,750.8v-13.5M2218.7,750.8v-6M2306.2,750.8v-13.5" stroke="#2a2a2a" stroke-width="2.6" fill="none"/>
<text x="1502.0" y="767.6" text-anchor="end" font-size="58" font-weight="bold">0.94</text>
<text x="1502.0" y="679.5" text-anchor="end" font-size="58" font-weight="bold">0.95</text>
<text x="1502.0" y="591.4" text-anchor="end" font-size="58" font-weight="bold">0.96</text>
<text x="1502.0" y="503.4" text-anchor="end" font-size="58" font-weight="bold">0.97</text>
<text x="1502.0" y="415.3" text-anchor="end" font-size="58" font-weight="bold">0.98</text>
<text x="1502.0" y="327.2" text-anchor="end" font-size="58" font-weight="bold">0.99</text>
<text x="1502.0" y="239.1" text-anchor="end" font-size="58" font-weight="bold">1.00</text>
<text x="1502.0" y="151.1" text-anchor="end" font-size="58" font-weight="bold">1.01</text>
<text x="1502.0" y="63.0" text-anchor="end" font-size="58" font-weight="bold">1.02</text>
<text x="1605.8" y="811.0" text-anchor="middle" font-size="59.5" font-weight="bold">0.107</text>
<text x="1781.0" y="811.0" text-anchor="middle" font-size="59.5" font-weight="bold">0.109</text>
<text x="1956.1" y="811.0" text-anchor="middle" font-size="59.5" font-weight="bold">0.11</text>
<text x="2131.2" y="811.0" text-anchor="middle" font-size="59.5" font-weight="bold">0.111</text>
<text x="2306.2" y="811.0" text-anchor="middle" font-size="59.5" font-weight="bold">0.112</text>
<line x1="2039" y1="88.9" x2="2147.7" y2="88.9" stroke="#505050" stroke-width="4"/>
<rect x="2086.4" y="81.6" width="14.6" height="14.6" fill="#505050"/>
<text transform="translate(2157.9,104.2) scale(1.0450,1)" font-size="44" font-weight="bold">Mode I</text>
<line x1="2039" y1="147.2" x2="2147.7" y2="147.2" stroke="#E23F3A" stroke-width="4"/>
<circle cx="2093.7" cy="147.2" r="7.5" fill="#EE3B3B"/>
<text transform="translate(2157.9,163.3) scale(1.0450,1)" font-size="44" font-weight="bold">Mode II</text>
<line x1="2039" y1="205.9" x2="2147.7" y2="205.9" stroke="#3F5E9E" stroke-width="4"/>
<path d="M2093.7,195.4L2102.7,211.4L2084.7,211.4Z" fill="#3F62A6"/>
<text transform="translate(2157.9,220.9) scale(1.0450,1)" font-size="44" font-weight="bold">Mode III</text>
<text transform="translate(1370.2,615.0) rotate(-90) scale(1.0080,1)" font-size="71.7" font-weight="bold">Absorption</text>
<text transform="translate(1408.0,889.3) scale(1.0510,1)" font-size="70" font-weight="bold">Radius of the major sector (μm)</text>
<text x="1904.4" y="971.4" font-size="73" font-weight="bold">(b)</text>
<polyline fill="none" stroke="#505050" stroke-width="3.5" stroke-linejoin="round" points="1784.1,1678.6 1958.3,1671.2 2132.5,1673.1 2306.7,1672.5"/>
<rect x="1776.8" y="1671.3" width="14.6" height="14.6" fill="#505050"/>
<rect x="1951.0" y="1663.9" width="14.6" height="14.6" fill="#505050"/>
<rect x="2125.2" y="1665.8" width="14.6" height="14.6" fill="#505050"/>
<rect x="2299.4" y="1665.2" width="14.6" height="14.6" fill="#505050"/>
<polyline fill="none" stroke="#E23F3A" stroke-width="3.5" stroke-linejoin="round" points="1609.9,1590.5 1784.1,1559.0 1958.3,1556.7 2132.5,1557.1 2306.7,1547.8"/>
<circle cx="1609.9" cy="1590.5" r="7.5" fill="#EE3B3B"/>
<circle cx="1784.1" cy="1559.0" r="7.5" fill="#EE3B3B"/>
<circle cx="1958.3" cy="1556.7" r="7.5" fill="#EE3B3B"/>
<circle cx="2132.5" cy="1557.1" r="7.5" fill="#EE3B3B"/>
<circle cx="2306.7" cy="1547.8" r="7.5" fill="#EE3B3B"/>
<polyline fill="none" stroke="#3F5E9E" stroke-width="3.5" stroke-linejoin="round" points="1609.9,1138.2 1784.1,1095.6 1958.3,1082.0 2132.5,1072.1 2306.7,1053.6"/>
<path d="M1609.9,1127.7L1618.9,1143.7L1600.9,1143.7Z" fill="#3F62A6"/>
<path d="M1784.1,1085.1L1793.1,1101.1L1775.1,1101.1Z" fill="#3F62A6"/>
<path d="M1958.3,1071.5L1967.3,1087.5L1949.3,1087.5Z" fill="#3F62A6"/>
<path d="M2132.5,1061.6L2141.5,1077.6L2123.5,1077.6Z" fill="#3F62A6"/>
<path d="M2306.7,1043.1L2315.7,1059.1L2297.7,1059.1Z" fill="#3F62A6"/>
<rect x="1522.8" y="1015.5" width="871.0" height="699.5" fill="none" stroke="#2a2a2a" stroke-width="3"/>
<path d="M1522.8,1715.0h13M1522.8,1656.7h6.5M1522.8,1598.4h13M1522.8,1540.1h6.5M1522.8,1481.8h13M1522.8,1423.5h6.5M1522.8,1365.2h13M1522.8,1307.0h6.5M1522.8,1248.7h13M1522.8,1190.4h6.5M1522.8,1132.1h13M1522.8,1073.8h6.5M1522.8,1015.5h13M1609.9,1715.0v-13.5M1697.0,1715.0v-6M1784.1,1715.0v-13.5M1871.2,1715.0v-6M1958.3,1715.0v-13.5M2045.4,1715.0v-6M2132.5,1715.0v-13.5M2219.6,1715.0v-6M2306.7,1715.0v-13.5" stroke="#2a2a2a" stroke-width="2.6" fill="none"/>
<text x="1507.5" y="1731.2" text-anchor="end" font-size="60" font-weight="bold">2.6</text>
<text x="1507.5" y="1614.6" text-anchor="end" font-size="60" font-weight="bold">2.8</text>
<text x="1507.5" y="1498.0" text-anchor="end" font-size="60" font-weight="bold">3.0</text>
<text x="1507.5" y="1381.5" text-anchor="end" font-size="60" font-weight="bold">3.2</text>
<text x="1507.5" y="1264.9" text-anchor="end" font-size="60" font-weight="bold">3.4</text>
<text x="1507.5" y="1148.3" text-anchor="end" font-size="60" font-weight="bold">3.6</text>
<text x="1507.5" y="1031.7" text-anchor="end" font-size="60" font-weight="bold">3.8</text>
<text x="1609.9" y="1777.5" text-anchor="middle" font-size="59.5" font-weight="bold">0.107</text>
<text x="1784.1" y="1777.5" text-anchor="middle" font-size="59.5" font-weight="bold">0.109</text>
<text x="1958.3" y="1777.5" text-anchor="middle" font-size="59.5" font-weight="bold">0.11</text>
<text x="2132.5" y="1777.5" text-anchor="middle" font-size="59.5" font-weight="bold">0.111</text>
<text x="2306.7" y="1777.5" text-anchor="middle" font-size="59.5" font-weight="bold">0.112</text>
<line x1="2079.7" y1="1204.7" x2="2187.7" y2="1204.7" stroke="#505050" stroke-width="4"/>
<rect x="2126.4" y="1197.4" width="14.6" height="14.6" fill="#505050"/>
<text transform="translate(2197.9,1221.3) scale(1.0450,1)" font-size="44" font-weight="bold">Mode I</text>
<line x1="2079.7" y1="1262.3" x2="2187.7" y2="1262.3" stroke="#E23F3A" stroke-width="4"/>
<circle cx="2133.7" cy="1262.3" r="7.5" fill="#EE3B3B"/>
<text transform="translate(2197.9,1278.5) scale(1.0450,1)" font-size="44" font-weight="bold">Mode II</text>
<line x1="2079.7" y1="1321.1" x2="2187.7" y2="1321.1" stroke="#3F5E9E" stroke-width="4"/>
<path d="M2133.7,1310.6L2142.7,1326.6L2124.7,1326.6Z" fill="#3F62A6"/>
<text transform="translate(2197.9,1336.4) scale(1.0450,1)" font-size="44" font-weight="bold">Mode III</text>
<text transform="translate(1377.9,1659.3) rotate(-90) scale(1.0250,1)" font-size="71.5" font-weight="bold">Wavelength (μm)</text>
<text transform="translate(1402.0,1860.3) scale(1.0510,1)" font-size="70" font-weight="bold">Radius of the major sector (μm)</text>
<text x="1911.1" y="1932.4" font-size="73" font-weight="bold">(c)</text>
<rect x="0" y="1944.5" width="2439" height="20" fill="#fff"/>
</svg>
</body></html>
